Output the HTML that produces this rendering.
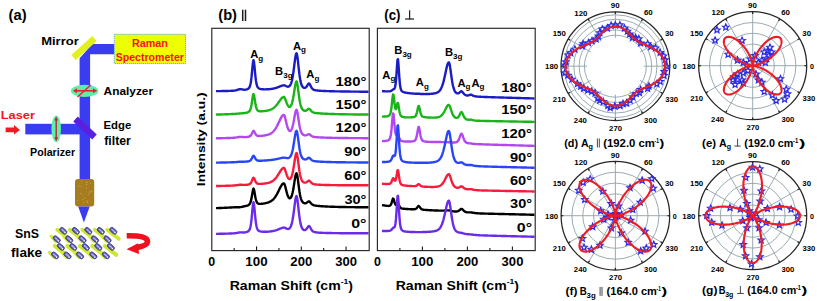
<!DOCTYPE html><html><head><meta charset="utf-8"><style>html,body{margin:0;padding:0;background:#fff;}svg{display:block;font-family:"Liberation Sans",sans-serif;}</style></head><body><svg width="817" height="301" viewBox="0 0 817 301"><rect width="817" height="301" fill="#fff"/><text x="8.56" y="19.60" font-size="14.50" font-weight="bold" fill="#000" text-anchor="start" textLength="18.04" lengthAdjust="spacingAndGlyphs">(a)</text>
<path d="M79.6,180 L79.6,58.3 L92.4,44.1 L114.5,44.1 L114.5,54.2 L90.1,54.2 L90.1,180 Z" fill="#3a3cf2"/>
<rect x="25.3" y="123.8" width="55" height="10.6" fill="#3a3cf2"/>
<line x1="73.5" y1="57.5" x2="94.5" y2="38.5" stroke="#e3ef1e" stroke-width="6.5"/>
<text x="41.16" y="45.20" font-size="10.90" font-weight="bold" fill="#000" text-anchor="start" textLength="37.53" lengthAdjust="spacingAndGlyphs">Mirror</text>
<rect x="114.3" y="34.3" width="71.2" height="29.2" fill="#eeff00" stroke="#5aa8c8" stroke-width="0.9" stroke-dasharray="1.2,0.8"/>
<text x="131.90" y="46.50" font-size="10.50" font-weight="bold" fill="#fa1020" text-anchor="start" textLength="35.84" lengthAdjust="spacingAndGlyphs">Raman</text>
<text x="115.68" y="60.60" font-size="10.20" font-weight="bold" fill="#fa1020" text-anchor="start" textLength="68.24" lengthAdjust="spacingAndGlyphs">Spectrometer</text>
<ellipse cx="84.6" cy="90.9" rx="13.7" ry="6.1" fill="#5ef0a8"/>
<line x1="75.5" y1="90.8" x2="94.5" y2="90.8" stroke="#e8202e" stroke-width="1.6"/>
<path d="M72.8,90.8 L77,88.3 L77,93.3 Z M97.2,90.8 L93,88.3 L93,93.3 Z" fill="#e8202e"/>
<line x1="77.5" y1="97" x2="90.8" y2="85" stroke="#e8202e" stroke-width="1.4"/>
<text x="103.60" y="94.60" font-size="11.60" font-weight="bold" fill="#000" text-anchor="start" textLength="49.46" lengthAdjust="spacingAndGlyphs">Analyzer</text>
<text x="0.77" y="118.60" font-size="11.60" font-weight="bold" fill="#fa1020" text-anchor="start" textLength="34.21" lengthAdjust="spacingAndGlyphs">Laser</text>
<path d="M5.6,127.4 L14,127.4 L14,125 L19.9,129.9 L14,134.6 L14,132.3 L5.6,132.3 Z" fill="#f01a24"/>
<ellipse cx="56.2" cy="128.8" rx="4.8" ry="13.4" fill="#5ef0a8"/>
<line x1="56.2" y1="119" x2="56.2" y2="139" stroke="#c8203c" stroke-width="1.4"/>
<path d="M56.2,116.6 L54.2,120.5 L58.2,120.5 Z M56.2,141.2 L54.2,137.3 L58.2,137.3 Z" fill="#c8203c"/>
<text x="30.11" y="155.70" font-size="11.00" font-weight="bold" fill="#000" text-anchor="start" textLength="44.94" lengthAdjust="spacingAndGlyphs">Polarizer</text>
<line x1="75.5" y1="119" x2="94.5" y2="137" stroke="#5a20e0" stroke-width="6.6"/>
<text x="103.56" y="128.60" font-size="10.75" font-weight="bold" fill="#000" text-anchor="start" textLength="27.73" lengthAdjust="spacingAndGlyphs">Edge</text>
<text x="104.21" y="144.70" font-size="12.20" font-weight="bold" fill="#000" text-anchor="start" textLength="26.73" lengthAdjust="spacingAndGlyphs">filter</text>
<rect x="75" y="179" width="19.2" height="27.4" rx="3" fill="#a57d1e"/>
<circle cx="80.6" cy="193.5" r="0.45" fill="#f0c080"/>
<circle cx="82.5" cy="194.9" r="0.45" fill="#f0c080"/>
<circle cx="86.4" cy="182.5" r="0.45" fill="#f0c080"/>
<circle cx="77.2" cy="200.3" r="0.45" fill="#f0c080"/>
<circle cx="80.9" cy="186.4" r="0.45" fill="#f0c080"/>
<circle cx="91.9" cy="191.8" r="0.45" fill="#f0c080"/>
<circle cx="89.5" cy="192.0" r="0.45" fill="#f0c080"/>
<circle cx="86.6" cy="184.5" r="0.45" fill="#f0c080"/>
<circle cx="86.5" cy="201.0" r="0.45" fill="#f0c080"/>
<circle cx="84.8" cy="198.0" r="0.45" fill="#f0c080"/>
<circle cx="87.1" cy="182.5" r="0.45" fill="#f0c080"/>
<circle cx="88.4" cy="194.6" r="0.45" fill="#f0c080"/>
<circle cx="81.5" cy="181.7" r="0.45" fill="#f0c080"/>
<circle cx="90.0" cy="191.9" r="0.45" fill="#f0c080"/>
<circle cx="87.8" cy="201.2" r="0.45" fill="#f0c080"/>
<circle cx="87.7" cy="202.2" r="0.45" fill="#f0c080"/>
<circle cx="82.9" cy="199.4" r="0.45" fill="#f0c080"/>
<circle cx="83.7" cy="202.5" r="0.45" fill="#f0c080"/>
<circle cx="90.2" cy="183.2" r="0.45" fill="#f0c080"/>
<circle cx="79.0" cy="186.0" r="0.45" fill="#f0c080"/>
<circle cx="91.5" cy="191.0" r="0.45" fill="#f0c080"/>
<circle cx="86.4" cy="187.9" r="0.45" fill="#f0c080"/>
<path d="M78.2,206.4 L89.7,206.4 L83.9,222.5 Z" fill="#3a3cf2"/>
<text x="14.93" y="238.30" font-size="12.80" font-weight="bold" fill="#000" text-anchor="start" textLength="24.10" lengthAdjust="spacingAndGlyphs">SnS</text>
<text x="11.10" y="256.60" font-size="13.50" font-weight="bold" fill="#000" text-anchor="start" textLength="30.97" lengthAdjust="spacingAndGlyphs">flake</text>
<line x1="57.3" y1="229.8" x2="68.8" y2="238.8" stroke="#cde630" stroke-width="3.9" stroke-linecap="round"/>
<line x1="69.8" y1="229.8" x2="81.3" y2="238.8" stroke="#cde630" stroke-width="3.9" stroke-linecap="round"/>
<line x1="82.3" y1="229.8" x2="93.8" y2="238.8" stroke="#cde630" stroke-width="3.9" stroke-linecap="round"/>
<line x1="94.8" y1="229.8" x2="106.3" y2="238.8" stroke="#cde630" stroke-width="3.9" stroke-linecap="round"/>
<line x1="107.3" y1="229.8" x2="118.8" y2="238.8" stroke="#cde630" stroke-width="3.9" stroke-linecap="round"/>
<line x1="51.2" y1="236.2" x2="55.7" y2="241.2" stroke="#d2ea3a" stroke-width="3.4" stroke-linecap="round"/>
<line x1="63.7" y1="236.2" x2="68.2" y2="241.2" stroke="#d2ea3a" stroke-width="3.4" stroke-linecap="round"/>
<line x1="77.0" y1="236.2" x2="81.5" y2="241.2" stroke="#d2ea3a" stroke-width="3.4" stroke-linecap="round"/>
<line x1="89.5" y1="236.2" x2="94.0" y2="241.2" stroke="#d2ea3a" stroke-width="3.4" stroke-linecap="round"/>
<line x1="102.0" y1="236.2" x2="106.5" y2="241.2" stroke="#d2ea3a" stroke-width="3.4" stroke-linecap="round"/>
<line x1="54.8" y1="245.9" x2="66.3" y2="254.9" stroke="#cde630" stroke-width="3.9" stroke-linecap="round"/>
<line x1="67.3" y1="245.9" x2="78.8" y2="254.9" stroke="#cde630" stroke-width="3.9" stroke-linecap="round"/>
<line x1="79.8" y1="245.9" x2="91.3" y2="254.9" stroke="#cde630" stroke-width="3.9" stroke-linecap="round"/>
<line x1="92.3" y1="245.9" x2="103.8" y2="254.9" stroke="#cde630" stroke-width="3.9" stroke-linecap="round"/>
<line x1="104.8" y1="245.9" x2="116.3" y2="254.9" stroke="#cde630" stroke-width="3.9" stroke-linecap="round"/>
<line x1="49.5" y1="252.4" x2="54.0" y2="257.4" stroke="#d2ea3a" stroke-width="3.4" stroke-linecap="round"/>
<line x1="62.0" y1="252.4" x2="66.5" y2="257.4" stroke="#d2ea3a" stroke-width="3.4" stroke-linecap="round"/>
<line x1="74.5" y1="252.4" x2="79.0" y2="257.4" stroke="#d2ea3a" stroke-width="3.4" stroke-linecap="round"/>
<line x1="87.8" y1="252.4" x2="92.3" y2="257.4" stroke="#d2ea3a" stroke-width="3.4" stroke-linecap="round"/>
<line x1="100.3" y1="252.4" x2="104.8" y2="257.4" stroke="#d2ea3a" stroke-width="3.4" stroke-linecap="round"/>
<g transform="translate(63.3,230.8) rotate(40)"><rect x="-4.0" y="-2.1" width="8.0" height="4.2" rx="2.1" fill="#5e5eb8" stroke="#34347e" stroke-width="0.8"/><rect x="-2.6" y="-0.8" width="4.2" height="1.4" rx="0.7" fill="#b0b0f0"/><circle cx="2.3" cy="0.2" r="0.8" fill="#fff"/></g>
<g transform="translate(75.8,230.8) rotate(40)"><rect x="-4.0" y="-2.1" width="8.0" height="4.2" rx="2.1" fill="#5e5eb8" stroke="#34347e" stroke-width="0.8"/><rect x="-2.6" y="-0.8" width="4.2" height="1.4" rx="0.7" fill="#b0b0f0"/><circle cx="2.3" cy="0.2" r="0.8" fill="#fff"/></g>
<g transform="translate(88.3,230.8) rotate(40)"><rect x="-4.0" y="-2.1" width="8.0" height="4.2" rx="2.1" fill="#5e5eb8" stroke="#34347e" stroke-width="0.8"/><rect x="-2.6" y="-0.8" width="4.2" height="1.4" rx="0.7" fill="#b0b0f0"/><circle cx="2.3" cy="0.2" r="0.8" fill="#fff"/></g>
<g transform="translate(100.8,230.8) rotate(40)"><rect x="-4.0" y="-2.1" width="8.0" height="4.2" rx="2.1" fill="#5e5eb8" stroke="#34347e" stroke-width="0.8"/><rect x="-2.6" y="-0.8" width="4.2" height="1.4" rx="0.7" fill="#b0b0f0"/><circle cx="2.3" cy="0.2" r="0.8" fill="#fff"/></g>
<g transform="translate(113.3,230.8) rotate(40)"><rect x="-4.0" y="-2.1" width="8.0" height="4.2" rx="2.1" fill="#5e5eb8" stroke="#34347e" stroke-width="0.8"/><rect x="-2.6" y="-0.8" width="4.2" height="1.4" rx="0.7" fill="#b0b0f0"/><circle cx="2.3" cy="0.2" r="0.8" fill="#fff"/></g>
<g transform="translate(56.7,239.2) rotate(40)"><rect x="-4.0" y="-2.1" width="8.0" height="4.2" rx="2.1" fill="#5e5eb8" stroke="#34347e" stroke-width="0.8"/><rect x="-2.6" y="-0.8" width="4.2" height="1.4" rx="0.7" fill="#b0b0f0"/><circle cx="2.3" cy="0.2" r="0.8" fill="#fff"/></g>
<g transform="translate(69.2,239.2) rotate(40)"><rect x="-4.0" y="-2.1" width="8.0" height="4.2" rx="2.1" fill="#5e5eb8" stroke="#34347e" stroke-width="0.8"/><rect x="-2.6" y="-0.8" width="4.2" height="1.4" rx="0.7" fill="#b0b0f0"/><circle cx="2.3" cy="0.2" r="0.8" fill="#fff"/></g>
<g transform="translate(82.5,239.2) rotate(40)"><rect x="-4.0" y="-2.1" width="8.0" height="4.2" rx="2.1" fill="#5e5eb8" stroke="#34347e" stroke-width="0.8"/><rect x="-2.6" y="-0.8" width="4.2" height="1.4" rx="0.7" fill="#b0b0f0"/><circle cx="2.3" cy="0.2" r="0.8" fill="#fff"/></g>
<g transform="translate(95.0,239.2) rotate(40)"><rect x="-4.0" y="-2.1" width="8.0" height="4.2" rx="2.1" fill="#5e5eb8" stroke="#34347e" stroke-width="0.8"/><rect x="-2.6" y="-0.8" width="4.2" height="1.4" rx="0.7" fill="#b0b0f0"/><circle cx="2.3" cy="0.2" r="0.8" fill="#fff"/></g>
<g transform="translate(107.5,239.2) rotate(40)"><rect x="-4.0" y="-2.1" width="8.0" height="4.2" rx="2.1" fill="#5e5eb8" stroke="#34347e" stroke-width="0.8"/><rect x="-2.6" y="-0.8" width="4.2" height="1.4" rx="0.7" fill="#b0b0f0"/><circle cx="2.3" cy="0.2" r="0.8" fill="#fff"/></g>
<g transform="translate(60.8,246.9) rotate(40)"><rect x="-4.0" y="-2.1" width="8.0" height="4.2" rx="2.1" fill="#5e5eb8" stroke="#34347e" stroke-width="0.8"/><rect x="-2.6" y="-0.8" width="4.2" height="1.4" rx="0.7" fill="#b0b0f0"/><circle cx="2.3" cy="0.2" r="0.8" fill="#fff"/></g>
<g transform="translate(73.3,246.9) rotate(40)"><rect x="-4.0" y="-2.1" width="8.0" height="4.2" rx="2.1" fill="#5e5eb8" stroke="#34347e" stroke-width="0.8"/><rect x="-2.6" y="-0.8" width="4.2" height="1.4" rx="0.7" fill="#b0b0f0"/><circle cx="2.3" cy="0.2" r="0.8" fill="#fff"/></g>
<g transform="translate(85.8,246.9) rotate(40)"><rect x="-4.0" y="-2.1" width="8.0" height="4.2" rx="2.1" fill="#5e5eb8" stroke="#34347e" stroke-width="0.8"/><rect x="-2.6" y="-0.8" width="4.2" height="1.4" rx="0.7" fill="#b0b0f0"/><circle cx="2.3" cy="0.2" r="0.8" fill="#fff"/></g>
<g transform="translate(98.3,246.9) rotate(40)"><rect x="-4.0" y="-2.1" width="8.0" height="4.2" rx="2.1" fill="#5e5eb8" stroke="#34347e" stroke-width="0.8"/><rect x="-2.6" y="-0.8" width="4.2" height="1.4" rx="0.7" fill="#b0b0f0"/><circle cx="2.3" cy="0.2" r="0.8" fill="#fff"/></g>
<g transform="translate(110.8,246.9) rotate(40)"><rect x="-4.0" y="-2.1" width="8.0" height="4.2" rx="2.1" fill="#5e5eb8" stroke="#34347e" stroke-width="0.8"/><rect x="-2.6" y="-0.8" width="4.2" height="1.4" rx="0.7" fill="#b0b0f0"/><circle cx="2.3" cy="0.2" r="0.8" fill="#fff"/></g>
<g transform="translate(55.0,255.4) rotate(40)"><rect x="-4.0" y="-2.1" width="8.0" height="4.2" rx="2.1" fill="#5e5eb8" stroke="#34347e" stroke-width="0.8"/><rect x="-2.6" y="-0.8" width="4.2" height="1.4" rx="0.7" fill="#b0b0f0"/><circle cx="2.3" cy="0.2" r="0.8" fill="#fff"/></g>
<g transform="translate(67.5,255.4) rotate(40)"><rect x="-4.0" y="-2.1" width="8.0" height="4.2" rx="2.1" fill="#5e5eb8" stroke="#34347e" stroke-width="0.8"/><rect x="-2.6" y="-0.8" width="4.2" height="1.4" rx="0.7" fill="#b0b0f0"/><circle cx="2.3" cy="0.2" r="0.8" fill="#fff"/></g>
<g transform="translate(80.0,255.4) rotate(40)"><rect x="-4.0" y="-2.1" width="8.0" height="4.2" rx="2.1" fill="#5e5eb8" stroke="#34347e" stroke-width="0.8"/><rect x="-2.6" y="-0.8" width="4.2" height="1.4" rx="0.7" fill="#b0b0f0"/><circle cx="2.3" cy="0.2" r="0.8" fill="#fff"/></g>
<g transform="translate(93.3,255.4) rotate(40)"><rect x="-4.0" y="-2.1" width="8.0" height="4.2" rx="2.1" fill="#5e5eb8" stroke="#34347e" stroke-width="0.8"/><rect x="-2.6" y="-0.8" width="4.2" height="1.4" rx="0.7" fill="#b0b0f0"/><circle cx="2.3" cy="0.2" r="0.8" fill="#fff"/></g>
<g transform="translate(105.8,255.4) rotate(40)"><rect x="-4.0" y="-2.1" width="8.0" height="4.2" rx="2.1" fill="#5e5eb8" stroke="#34347e" stroke-width="0.8"/><rect x="-2.6" y="-0.8" width="4.2" height="1.4" rx="0.7" fill="#b0b0f0"/><circle cx="2.3" cy="0.2" r="0.8" fill="#fff"/></g>
<path d="M126.7,235.7 C140,235.5 147.5,237 147.5,241.5 C147.5,245 143,246.5 136,247.5" fill="none" stroke="#f0101e" stroke-width="5.6"/>
<path d="M138,243.2 L126.5,249.3 L139,254 Z" fill="#f0101e"/>
<polyline points="216.0,91.14 216.5,91.14 217.0,91.13 217.5,91.13 218.0,91.12 218.5,91.11 219.0,91.11 219.5,91.10 220.0,91.09 220.5,91.09 221.0,91.08 221.5,91.07 222.0,91.06 222.5,91.06 223.0,91.05 223.5,91.04 224.0,91.03 224.5,91.02 225.0,91.01 225.5,91.00 226.0,90.99 226.5,90.98 227.0,90.96 227.5,90.95 228.0,90.94 228.5,90.92 229.0,90.91 229.5,90.89 230.0,90.88 230.5,90.86 231.0,90.84 231.5,90.82 232.0,90.79 232.5,90.76 233.0,90.73 233.5,90.69 234.0,90.64 234.5,90.58 235.0,90.50 235.5,90.41 236.0,90.30 236.5,90.17 237.0,90.02 237.5,89.86 238.0,89.68 238.5,89.50 239.0,89.35 239.5,89.23 240.0,89.16 240.5,89.16 241.0,89.21 241.5,89.30 242.0,89.41 242.5,89.51 243.0,89.60 243.5,89.66 244.0,89.70 244.5,89.72 245.0,89.70 245.5,89.65 246.0,89.58 246.5,89.47 247.0,89.32 247.5,89.13 248.0,88.88 248.5,88.53 249.0,88.02 249.5,87.24 250.0,86.00 250.5,84.07 251.0,81.19 251.5,77.19 252.0,72.18 252.5,66.68 253.0,62.02 253.5,60.10 254.0,61.98 254.5,66.61 255.0,72.06 255.5,77.04 256.0,80.99 256.5,83.84 257.0,85.73 257.5,86.93 258.0,87.68 258.5,88.16 259.0,88.47 259.5,88.70 260.0,88.86 260.5,88.99 261.0,89.09 261.5,89.16 262.0,89.22 262.5,89.26 263.0,89.30 263.5,89.32 264.0,89.33 264.5,89.34 265.0,89.34 265.5,89.34 266.0,89.33 266.5,89.31 267.0,89.29 267.5,89.27 268.0,89.24 268.5,89.21 269.0,89.18 269.5,89.13 270.0,89.09 270.5,89.04 271.0,88.98 271.5,88.91 272.0,88.84 272.5,88.76 273.0,88.67 273.5,88.57 274.0,88.46 274.5,88.34 275.0,88.21 275.5,88.07 276.0,87.92 276.5,87.76 277.0,87.58 277.5,87.40 278.0,87.21 278.5,87.02 279.0,86.82 279.5,86.61 280.0,86.41 280.5,86.21 281.0,86.02 281.5,85.84 282.0,85.68 282.5,85.53 283.0,85.41 283.5,85.32 284.0,85.27 284.5,85.34 285.0,85.52 285.5,85.78 286.0,86.05 286.5,86.30 287.0,86.51 287.5,86.64 288.0,86.68 288.5,86.62 289.0,86.42 289.5,86.07 290.0,85.53 290.5,84.73 291.0,83.62 291.5,82.14 292.0,80.21 292.5,77.80 293.0,74.87 293.5,71.46 294.0,67.66 294.5,63.65 295.0,59.75 295.5,56.37 296.0,54.04 296.5,53.21 297.0,54.35 297.5,57.42 298.0,61.66 298.5,66.32 299.0,70.85 299.5,74.92 300.0,78.35 300.5,81.10 301.0,83.22 301.5,84.79 302.0,85.93 302.5,86.72 303.0,87.27 303.5,87.63 304.0,87.84 304.5,87.92 305.0,87.87 305.5,87.66 306.0,87.27 306.5,86.71 307.0,85.98 307.5,85.13 308.0,84.28 308.5,83.64 309.0,83.44 309.5,83.80 310.0,84.60 310.5,85.61 311.0,86.63 311.5,87.54 312.0,88.30 312.5,88.89 313.0,89.33 313.5,89.65 314.0,89.88 314.5,90.05 315.0,90.17 315.5,90.27 316.0,90.36 316.5,90.43 317.0,90.49 317.5,90.55 318.0,90.60 318.5,90.64 319.0,90.68 319.5,90.72 320.0,90.76 320.5,90.79 321.0,90.83 321.5,90.86 322.0,90.88 322.5,90.91 323.0,90.94 323.5,90.96 324.0,90.98 324.5,91.00 325.0,91.03 325.5,91.05 326.0,91.06 326.5,91.08 327.0,91.10 327.5,91.12 328.0,91.14 328.5,91.15 329.0,91.17 329.5,91.18 330.0,91.20 330.5,91.21 331.0,91.23 331.5,91.24 332.0,91.25 332.5,91.27 333.0,91.28 333.5,91.29 334.0,91.30 334.5,91.31 335.0,91.33 335.5,91.34 336.0,91.35 336.5,91.36 337.0,91.37 337.5,91.38 338.0,91.39 338.5,91.40 339.0,91.41 339.5,91.42 340.0,91.42 340.5,91.43 341.0,91.44 341.5,91.45 342.0,91.46 342.5,91.47 343.0,91.48 343.5,91.48 344.0,91.49 344.5,91.50 345.0,91.51 345.5,91.51 346.0,91.52 346.5,91.53 347.0,91.53 347.5,91.54 348.0,91.55 348.5,91.56 349.0,91.56 349.5,91.57 350.0,91.57 350.5,91.58 351.0,91.59 351.5,91.59 352.0,91.60 352.5,91.60 353.0,91.61 353.5,91.62 354.0,91.62 354.5,91.63 355.0,91.63 355.5,91.64 356.0,91.64 356.5,91.65 357.0,91.65 357.5,91.66 358.0,91.66 358.5,91.67 359.0,91.67 359.5,91.68 360.0,91.68 360.5,91.69 361.0,91.69 361.5,91.70 362.0,91.70 362.5,91.71 363.0,91.71 363.5,91.71 364.0,91.72 364.5,91.72 365.0,91.73 365.5,91.73 366.0,91.74 366.5,91.74 367.0,91.74 367.5,91.75 368.0,91.75 368.5,91.76" fill="none" stroke="#1c1cc4" stroke-width="2.4" stroke-linejoin="round"/>
<polyline points="216.0,114.59 216.5,114.57 217.0,114.56 217.5,114.55 218.0,114.53 218.5,114.52 219.0,114.51 219.5,114.49 220.0,114.48 220.5,114.47 221.0,114.45 221.5,114.44 222.0,114.42 222.5,114.41 223.0,114.39 223.5,114.37 224.0,114.36 224.5,114.34 225.0,114.32 225.5,114.31 226.0,114.29 226.5,114.27 227.0,114.25 227.5,114.23 228.0,114.21 228.5,114.19 229.0,114.17 229.5,114.15 230.0,114.13 230.5,114.11 231.0,114.09 231.5,114.06 232.0,114.04 232.5,114.01 233.0,113.99 233.5,113.96 234.0,113.93 234.5,113.90 235.0,113.87 235.5,113.83 236.0,113.79 236.5,113.76 237.0,113.71 237.5,113.67 238.0,113.62 238.5,113.57 239.0,113.53 239.5,113.48 240.0,113.44 240.5,113.40 241.0,113.36 241.5,113.33 242.0,113.29 242.5,113.25 243.0,113.20 243.5,113.15 244.0,113.10 244.5,113.03 245.0,112.96 245.5,112.87 246.0,112.78 246.5,112.67 247.0,112.54 247.5,112.38 248.0,112.19 248.5,111.94 249.0,111.59 249.5,111.07 250.0,110.27 250.5,109.04 251.0,107.23 251.5,104.72 252.0,101.58 252.5,98.15 253.0,95.23 253.5,94.00 254.0,95.13 254.5,97.95 255.0,101.29 255.5,104.33 256.0,106.74 256.5,108.46 257.0,109.59 257.5,110.29 258.0,110.71 258.5,110.96 259.0,111.11 259.5,111.20 260.0,111.26 260.5,111.29 261.0,111.30 261.5,111.30 262.0,111.28 262.5,111.25 263.0,111.22 263.5,111.17 264.0,111.12 264.5,111.07 265.0,111.00 265.5,110.93 266.0,110.85 266.5,110.77 267.0,110.68 267.5,110.57 268.0,110.46 268.5,110.34 269.0,110.20 269.5,110.05 270.0,109.88 270.5,109.69 271.0,109.48 271.5,109.25 272.0,108.99 272.5,108.71 273.0,108.39 273.5,108.03 274.0,107.65 274.5,107.22 275.0,106.76 275.5,106.25 276.0,105.71 276.5,105.13 277.0,104.51 277.5,103.86 278.0,103.19 278.5,102.49 279.0,101.77 279.5,101.05 280.0,100.34 280.5,99.65 281.0,99.00 281.5,98.41 282.0,97.89 282.5,97.47 283.0,97.16 283.5,96.97 284.0,96.96 284.5,97.46 285.0,98.45 285.5,99.74 286.0,101.15 286.5,102.53 287.0,103.79 287.5,104.87 288.0,105.72 288.5,106.35 289.0,106.73 289.5,106.86 290.0,106.74 290.5,106.33 291.0,105.61 291.5,104.53 292.0,103.07 292.5,101.17 293.0,98.84 293.5,96.10 294.0,93.04 294.5,89.80 295.0,86.63 295.5,83.90 296.0,82.02 296.5,81.39 297.0,82.38 297.5,84.94 298.0,88.48 298.5,92.37 299.0,96.14 299.5,99.53 300.0,102.39 300.5,104.70 301.0,106.49 301.5,107.82 302.0,108.80 302.5,109.49 303.0,109.99 303.5,110.34 304.0,110.57 304.5,110.72 305.0,110.77 305.5,110.73 306.0,110.58 306.5,110.33 307.0,109.98 307.5,109.56 308.0,109.13 308.5,108.82 309.0,108.76 309.5,108.99 310.0,109.48 310.5,110.07 311.0,110.67 311.5,111.21 312.0,111.66 312.5,112.02 313.0,112.29 313.5,112.50 314.0,112.65 314.5,112.77 315.0,112.87 315.5,112.95 316.0,113.02 316.5,113.08 317.0,113.14 317.5,113.19 318.0,113.24 318.5,113.28 319.0,113.32 319.5,113.36 320.0,113.40 320.5,113.44 321.0,113.47 321.5,113.51 322.0,113.54 322.5,113.57 323.0,113.60 323.5,113.63 324.0,113.65 324.5,113.68 325.0,113.70 325.5,113.73 326.0,113.75 326.5,113.77 327.0,113.80 327.5,113.82 328.0,113.84 328.5,113.86 329.0,113.88 329.5,113.90 330.0,113.92 330.5,113.94 331.0,113.95 331.5,113.97 332.0,113.99 332.5,114.00 333.0,114.02 333.5,114.03 334.0,114.05 334.5,114.06 335.0,114.08 335.5,114.09 336.0,114.11 336.5,114.12 337.0,114.13 337.5,114.14 338.0,114.16 338.5,114.17 339.0,114.18 339.5,114.19 340.0,114.20 340.5,114.21 341.0,114.23 341.5,114.24 342.0,114.25 342.5,114.26 343.0,114.27 343.5,114.28 344.0,114.28 344.5,114.29 345.0,114.30 345.5,114.31 346.0,114.32 346.5,114.33 347.0,114.34 347.5,114.34 348.0,114.35 348.5,114.36 349.0,114.37 349.5,114.37 350.0,114.38 350.5,114.39 351.0,114.40 351.5,114.40 352.0,114.41 352.5,114.42 353.0,114.42 353.5,114.43 354.0,114.43 354.5,114.44 355.0,114.45 355.5,114.45 356.0,114.46 356.5,114.46 357.0,114.47 357.5,114.47 358.0,114.48 358.5,114.48 359.0,114.49 359.5,114.49 360.0,114.50 360.5,114.50 361.0,114.51 361.5,114.51 362.0,114.51 362.5,114.52 363.0,114.52 363.5,114.53 364.0,114.53 364.5,114.53 365.0,114.54 365.5,114.54 366.0,114.55 366.5,114.55 367.0,114.55 367.5,114.56 368.0,114.56 368.5,114.56" fill="none" stroke="#18b418" stroke-width="2.4" stroke-linejoin="round"/>
<polyline points="216.0,138.31 216.5,138.30 217.0,138.29 217.5,138.28 218.0,138.27 218.5,138.26 219.0,138.25 219.5,138.24 220.0,138.23 220.5,138.22 221.0,138.20 221.5,138.19 222.0,138.18 222.5,138.17 223.0,138.16 223.5,138.14 224.0,138.13 224.5,138.12 225.0,138.11 225.5,138.09 226.0,138.08 226.5,138.06 227.0,138.05 227.5,138.03 228.0,138.02 228.5,138.00 229.0,137.98 229.5,137.97 230.0,137.95 230.5,137.93 231.0,137.91 231.5,137.89 232.0,137.87 232.5,137.84 233.0,137.81 233.5,137.78 234.0,137.75 234.5,137.70 235.0,137.65 235.5,137.59 236.0,137.52 236.5,137.44 237.0,137.35 237.5,137.26 238.0,137.15 238.5,137.05 239.0,136.95 239.5,136.88 240.0,136.84 240.5,136.83 241.0,136.85 241.5,136.89 242.0,136.94 242.5,136.99 243.0,137.04 243.5,137.07 244.0,137.09 244.5,137.10 245.0,137.10 245.5,137.09 246.0,137.06 246.5,137.03 247.0,136.98 247.5,136.92 248.0,136.85 248.5,136.75 249.0,136.63 249.5,136.44 250.0,136.17 250.5,135.76 251.0,135.16 251.5,134.33 252.0,133.30 252.5,132.18 253.0,131.22 253.5,130.80 254.0,131.14 254.5,132.02 255.0,133.06 255.5,134.01 256.0,134.76 256.5,135.28 257.0,135.61 257.5,135.81 258.0,135.91 258.5,135.95 259.0,135.97 259.5,135.96 260.0,135.94 260.5,135.91 261.0,135.87 261.5,135.83 262.0,135.78 262.5,135.72 263.0,135.66 263.5,135.60 264.0,135.52 264.5,135.45 265.0,135.36 265.5,135.27 266.0,135.17 266.5,135.06 267.0,134.94 267.5,134.81 268.0,134.67 268.5,134.50 269.0,134.32 269.5,134.12 270.0,133.89 270.5,133.63 271.0,133.34 271.5,133.02 272.0,132.65 272.5,132.24 273.0,131.78 273.5,131.27 274.0,130.71 274.5,130.09 275.0,129.41 275.5,128.67 276.0,127.86 276.5,127.00 277.0,126.09 277.5,125.12 278.0,124.11 278.5,123.07 279.0,122.00 279.5,120.93 280.0,119.87 280.5,118.84 281.0,117.87 281.5,116.99 282.0,116.22 282.5,115.60 283.0,115.15 283.5,114.88 284.0,114.88 284.5,115.67 285.0,117.21 285.5,119.21 286.0,121.39 286.5,123.54 287.0,125.52 287.5,127.22 288.0,128.63 288.5,129.70 289.0,130.46 289.5,130.90 290.0,131.04 290.5,130.87 291.0,130.38 291.5,129.55 292.0,128.35 292.5,126.76 293.0,124.78 293.5,122.44 294.0,119.81 294.5,117.02 295.0,114.30 295.5,111.94 296.0,110.33 296.5,109.79 297.0,110.65 297.5,112.89 298.0,115.96 298.5,119.33 299.0,122.61 299.5,125.55 300.0,128.04 300.5,130.04 301.0,131.59 301.5,132.75 302.0,133.60 302.5,134.21 303.0,134.64 303.5,134.95 304.0,135.17 304.5,135.31 305.0,135.39 305.5,135.39 306.0,135.33 306.5,135.19 307.0,134.98 307.5,134.73 308.0,134.47 308.5,134.29 309.0,134.26 309.5,134.42 310.0,134.75 310.5,135.15 311.0,135.55 311.5,135.91 312.0,136.21 312.5,136.45 313.0,136.63 313.5,136.77 314.0,136.88 314.5,136.96 315.0,137.03 315.5,137.09 316.0,137.14 316.5,137.18 317.0,137.22 317.5,137.26 318.0,137.29 318.5,137.33 319.0,137.36 319.5,137.39 320.0,137.41 320.5,137.44 321.0,137.46 321.5,137.49 322.0,137.51 322.5,137.53 323.0,137.55 323.5,137.57 324.0,137.59 324.5,137.61 325.0,137.63 325.5,137.65 326.0,137.66 326.5,137.68 327.0,137.69 327.5,137.71 328.0,137.72 328.5,137.74 329.0,137.75 329.5,137.76 330.0,137.78 330.5,137.79 331.0,137.80 331.5,137.81 332.0,137.83 332.5,137.84 333.0,137.85 333.5,137.86 334.0,137.87 334.5,137.88 335.0,137.89 335.5,137.90 336.0,137.91 336.5,137.92 337.0,137.92 337.5,137.93 338.0,137.94 338.5,137.95 339.0,137.96 339.5,137.97 340.0,137.97 340.5,137.98 341.0,137.99 341.5,137.99 342.0,138.00 342.5,138.01 343.0,138.01 343.5,138.02 344.0,138.03 344.5,138.03 345.0,138.04 345.5,138.04 346.0,138.05 346.5,138.06 347.0,138.06 347.5,138.07 348.0,138.07 348.5,138.08 349.0,138.08 349.5,138.09 350.0,138.09 350.5,138.09 351.0,138.10 351.5,138.10 352.0,138.11 352.5,138.11 353.0,138.12 353.5,138.12 354.0,138.12 354.5,138.13 355.0,138.13 355.5,138.13 356.0,138.14 356.5,138.14 357.0,138.14 357.5,138.15 358.0,138.15 358.5,138.15 359.0,138.16 359.5,138.16 360.0,138.16 360.5,138.16 361.0,138.17 361.5,138.17 362.0,138.17 362.5,138.18 363.0,138.18 363.5,138.18 364.0,138.18 364.5,138.18 365.0,138.19 365.5,138.19 366.0,138.19 366.5,138.19 367.0,138.20 367.5,138.20 368.0,138.20 368.5,138.20" fill="none" stroke="#b448f0" stroke-width="2.4" stroke-linejoin="round"/>
<polyline points="216.0,162.65 216.5,162.64 217.0,162.64 217.5,162.63 218.0,162.62 218.5,162.61 219.0,162.60 219.5,162.59 220.0,162.58 220.5,162.57 221.0,162.56 221.5,162.55 222.0,162.54 222.5,162.53 223.0,162.52 223.5,162.51 224.0,162.50 224.5,162.49 225.0,162.47 225.5,162.46 226.0,162.45 226.5,162.44 227.0,162.42 227.5,162.41 228.0,162.40 228.5,162.38 229.0,162.37 229.5,162.36 230.0,162.34 230.5,162.33 231.0,162.31 231.5,162.29 232.0,162.28 232.5,162.26 233.0,162.24 233.5,162.22 234.0,162.20 234.5,162.17 235.0,162.14 235.5,162.11 236.0,162.08 236.5,162.04 237.0,162.00 237.5,161.95 238.0,161.90 238.5,161.85 239.0,161.80 239.5,161.77 240.0,161.74 240.5,161.72 241.0,161.71 241.5,161.71 242.0,161.72 242.5,161.72 243.0,161.72 243.5,161.71 244.0,161.70 244.5,161.68 245.0,161.66 245.5,161.63 246.0,161.60 246.5,161.56 247.0,161.51 247.5,161.45 248.0,161.38 248.5,161.30 249.0,161.18 249.5,161.01 250.0,160.75 250.5,160.36 251.0,159.80 251.5,159.02 252.0,158.05 252.5,156.99 253.0,156.09 253.5,155.70 254.0,156.03 254.5,156.87 255.0,157.87 255.5,158.78 256.0,159.50 256.5,160.00 257.0,160.33 257.5,160.53 258.0,160.64 258.5,160.70 259.0,160.73 259.5,160.74 260.0,160.74 260.5,160.73 261.0,160.72 261.5,160.70 262.0,160.68 262.5,160.65 263.0,160.63 263.5,160.60 264.0,160.57 264.5,160.54 265.0,160.50 265.5,160.47 266.0,160.43 266.5,160.39 267.0,160.35 267.5,160.31 268.0,160.27 268.5,160.23 269.0,160.18 269.5,160.13 270.0,160.08 270.5,160.03 271.0,159.98 271.5,159.92 272.0,159.86 272.5,159.80 273.0,159.73 273.5,159.66 274.0,159.58 274.5,159.50 275.0,159.41 275.5,159.32 276.0,159.23 276.5,159.13 277.0,159.02 277.5,158.91 278.0,158.80 278.5,158.68 279.0,158.56 279.5,158.44 280.0,158.32 280.5,158.20 281.0,158.09 281.5,157.98 282.0,157.88 282.5,157.79 283.0,157.72 283.5,157.65 284.0,157.61 284.5,157.63 285.0,157.71 285.5,157.82 286.0,157.93 286.5,158.04 287.0,158.10 287.5,158.13 288.0,158.09 288.5,157.99 289.0,157.79 289.5,157.47 290.0,157.00 290.5,156.34 291.0,155.43 291.5,154.22 292.0,152.65 292.5,150.68 293.0,148.29 293.5,145.52 294.0,142.43 294.5,139.17 295.0,135.99 295.5,133.24 296.0,131.35 296.5,130.69 297.0,131.63 297.5,134.14 298.0,137.62 298.5,141.43 299.0,145.14 299.5,148.47 300.0,151.28 300.5,153.55 301.0,155.29 301.5,156.60 302.0,157.54 302.5,158.22 303.0,158.69 303.5,159.03 304.0,159.25 304.5,159.39 305.0,159.45 305.5,159.42 306.0,159.30 306.5,159.09 307.0,158.80 307.5,158.44 308.0,158.08 308.5,157.81 309.0,157.76 309.5,157.96 310.0,158.37 310.5,158.87 311.0,159.38 311.5,159.84 312.0,160.22 312.5,160.53 313.0,160.76 313.5,160.93 314.0,161.06 314.5,161.16 315.0,161.23 315.5,161.30 316.0,161.36 316.5,161.40 317.0,161.45 317.5,161.49 318.0,161.53 318.5,161.56 319.0,161.60 319.5,161.63 320.0,161.66 320.5,161.68 321.0,161.71 321.5,161.74 322.0,161.76 322.5,161.78 323.0,161.80 323.5,161.83 324.0,161.85 324.5,161.87 325.0,161.88 325.5,161.90 326.0,161.92 326.5,161.94 327.0,161.95 327.5,161.97 328.0,161.98 328.5,162.00 329.0,162.01 329.5,162.03 330.0,162.04 330.5,162.05 331.0,162.07 331.5,162.08 332.0,162.09 332.5,162.10 333.0,162.11 333.5,162.13 334.0,162.14 334.5,162.15 335.0,162.16 335.5,162.17 336.0,162.18 336.5,162.19 337.0,162.19 337.5,162.20 338.0,162.21 338.5,162.22 339.0,162.23 339.5,162.24 340.0,162.25 340.5,162.25 341.0,162.26 341.5,162.27 342.0,162.27 342.5,162.28 343.0,162.29 343.5,162.30 344.0,162.30 344.5,162.31 345.0,162.31 345.5,162.32 346.0,162.33 346.5,162.33 347.0,162.34 347.5,162.34 348.0,162.35 348.5,162.35 349.0,162.36 349.5,162.36 350.0,162.37 350.5,162.37 351.0,162.38 351.5,162.38 352.0,162.39 352.5,162.39 353.0,162.39 353.5,162.40 354.0,162.40 354.5,162.41 355.0,162.41 355.5,162.41 356.0,162.42 356.5,162.42 357.0,162.43 357.5,162.43 358.0,162.43 358.5,162.44 359.0,162.44 359.5,162.44 360.0,162.44 360.5,162.45 361.0,162.45 361.5,162.45 362.0,162.46 362.5,162.46 363.0,162.46 363.5,162.46 364.0,162.47 364.5,162.47 365.0,162.47 365.5,162.47 366.0,162.48 366.5,162.48 367.0,162.48 367.5,162.48 368.0,162.48 368.5,162.49" fill="none" stroke="#2846f8" stroke-width="2.4" stroke-linejoin="round"/>
<polyline points="216.0,186.03 216.5,186.02 217.0,186.01 217.5,186.00 218.0,185.99 218.5,185.98 219.0,185.97 219.5,185.96 220.0,185.95 220.5,185.94 221.0,185.93 221.5,185.92 222.0,185.90 222.5,185.89 223.0,185.88 223.5,185.87 224.0,185.86 224.5,185.84 225.0,185.83 225.5,185.82 226.0,185.80 226.5,185.79 227.0,185.78 227.5,185.76 228.0,185.75 228.5,185.73 229.0,185.72 229.5,185.70 230.0,185.68 230.5,185.67 231.0,185.65 231.5,185.63 232.0,185.61 232.5,185.59 233.0,185.56 233.5,185.53 234.0,185.50 234.5,185.46 235.0,185.42 235.5,185.37 236.0,185.31 236.5,185.25 237.0,185.17 237.5,185.09 238.0,185.01 238.5,184.92 239.0,184.84 239.5,184.78 240.0,184.74 240.5,184.73 241.0,184.75 241.5,184.77 242.0,184.81 242.5,184.85 243.0,184.88 243.5,184.90 244.0,184.91 244.5,184.91 245.0,184.90 245.5,184.88 246.0,184.85 246.5,184.81 247.0,184.76 247.5,184.70 248.0,184.62 248.5,184.52 249.0,184.38 249.5,184.18 250.0,183.86 250.5,183.39 251.0,182.70 251.5,181.74 252.0,180.55 252.5,179.24 253.0,178.13 253.5,177.65 254.0,178.06 254.5,179.11 255.0,180.35 255.5,181.47 256.0,182.36 256.5,182.99 257.0,183.40 257.5,183.64 258.0,183.78 258.5,183.85 259.0,183.89 259.5,183.90 260.0,183.90 260.5,183.88 261.0,183.86 261.5,183.83 262.0,183.80 262.5,183.76 263.0,183.71 263.5,183.66 264.0,183.61 264.5,183.55 265.0,183.49 265.5,183.42 266.0,183.34 266.5,183.26 267.0,183.16 267.5,183.06 268.0,182.95 268.5,182.82 269.0,182.69 269.5,182.53 270.0,182.35 270.5,182.16 271.0,181.94 271.5,181.69 272.0,181.41 272.5,181.10 273.0,180.75 273.5,180.37 274.0,179.94 274.5,179.47 275.0,178.95 275.5,178.39 276.0,177.79 276.5,177.14 277.0,176.45 277.5,175.72 278.0,174.96 278.5,174.17 279.0,173.36 279.5,172.55 280.0,171.75 280.5,170.97 281.0,170.23 281.5,169.56 282.0,168.97 282.5,168.49 283.0,168.13 283.5,167.92 284.0,167.89 284.5,168.45 285.0,169.57 285.5,171.03 286.0,172.61 286.5,174.17 287.0,175.59 287.5,176.81 288.0,177.78 288.5,178.49 289.0,178.93 289.5,179.11 290.0,179.01 290.5,178.61 291.0,177.88 291.5,176.78 292.0,175.28 292.5,173.34 293.0,170.96 293.5,168.16 294.0,165.02 294.5,161.70 295.0,158.47 295.5,155.66 296.0,153.74 296.5,153.07 297.0,154.06 297.5,156.65 298.0,160.23 298.5,164.16 299.0,167.98 299.5,171.41 300.0,174.30 300.5,176.63 301.0,178.43 301.5,179.77 302.0,180.74 302.5,181.43 303.0,181.91 303.5,182.25 304.0,182.47 304.5,182.61 305.0,182.65 305.5,182.61 306.0,182.46 306.5,182.22 307.0,181.88 307.5,181.47 308.0,181.07 308.5,180.77 309.0,180.69 309.5,180.90 310.0,181.34 310.5,181.89 311.0,182.44 311.5,182.93 312.0,183.34 312.5,183.66 313.0,183.91 313.5,184.09 314.0,184.22 314.5,184.32 315.0,184.40 315.5,184.46 316.0,184.51 316.5,184.56 317.0,184.60 317.5,184.64 318.0,184.67 318.5,184.70 319.0,184.73 319.5,184.76 320.0,184.78 320.5,184.80 321.0,184.83 321.5,184.85 322.0,184.87 322.5,184.88 323.0,184.90 323.5,184.92 324.0,184.93 324.5,184.95 325.0,184.96 325.5,184.98 326.0,184.99 326.5,185.00 327.0,185.01 327.5,185.02 328.0,185.03 328.5,185.05 329.0,185.05 329.5,185.06 330.0,185.07 330.5,185.08 331.0,185.09 331.5,185.10 332.0,185.11 332.5,185.11 333.0,185.12 333.5,185.13 334.0,185.14 334.5,185.14 335.0,185.15 335.5,185.15 336.0,185.16 336.5,185.16 337.0,185.17 337.5,185.18 338.0,185.18 338.5,185.18 339.0,185.19 339.5,185.19 340.0,185.20 340.5,185.20 341.0,185.21 341.5,185.21 342.0,185.21 342.5,185.22 343.0,185.22 343.5,185.22 344.0,185.23 344.5,185.23 345.0,185.23 345.5,185.23 346.0,185.24 346.5,185.24 347.0,185.24 347.5,185.24 348.0,185.24 348.5,185.25 349.0,185.25 349.5,185.25 350.0,185.25 350.5,185.25 351.0,185.25 351.5,185.26 352.0,185.26 352.5,185.26 353.0,185.26 353.5,185.26 354.0,185.26 354.5,185.26 355.0,185.26 355.5,185.26 356.0,185.26 356.5,185.26 357.0,185.26 357.5,185.27 358.0,185.27 358.5,185.27 359.0,185.27 359.5,185.27 360.0,185.27 360.5,185.27 361.0,185.27 361.5,185.27 362.0,185.27 362.5,185.27 363.0,185.27 363.5,185.27 364.0,185.27 364.5,185.26 365.0,185.26 365.5,185.26 366.0,185.26 366.5,185.26 367.0,185.26 367.5,185.26 368.0,185.26 368.5,185.26" fill="none" stroke="#f81c3c" stroke-width="2.4" stroke-linejoin="round"/>
<polyline points="216.0,208.17 216.5,208.15 217.0,208.13 217.5,208.11 218.0,208.09 218.5,208.07 219.0,208.05 219.5,208.03 220.0,208.01 220.5,207.99 221.0,207.97 221.5,207.95 222.0,207.93 222.5,207.91 223.0,207.89 223.5,207.86 224.0,207.84 224.5,207.82 225.0,207.79 225.5,207.77 226.0,207.75 226.5,207.72 227.0,207.70 227.5,207.67 228.0,207.64 228.5,207.62 229.0,207.59 229.5,207.56 230.0,207.54 230.5,207.51 231.0,207.48 231.5,207.45 232.0,207.43 232.5,207.40 233.0,207.37 233.5,207.34 234.0,207.32 234.5,207.30 235.0,207.28 235.5,207.26 236.0,207.25 236.5,207.25 237.0,207.24 237.5,207.24 238.0,207.25 238.5,207.25 239.0,207.24 239.5,207.22 240.0,207.18 240.5,207.12 241.0,207.04 241.5,206.94 242.0,206.84 242.5,206.73 243.0,206.62 243.5,206.51 244.0,206.40 244.5,206.29 245.0,206.18 245.5,206.07 246.0,205.94 246.5,205.81 247.0,205.67 247.5,205.50 248.0,205.31 248.5,205.06 249.0,204.72 249.5,204.22 250.0,203.48 250.5,202.34 251.0,200.67 251.5,198.37 252.0,195.50 252.5,192.36 253.0,189.69 253.5,188.56 254.0,189.56 254.5,192.10 255.0,195.10 255.5,197.84 256.0,200.00 256.5,201.53 257.0,202.53 257.5,203.14 258.0,203.50 258.5,203.70 259.0,203.80 259.5,203.86 260.0,203.88 260.5,203.88 261.0,203.86 261.5,203.82 262.0,203.78 262.5,203.72 263.0,203.65 263.5,203.58 264.0,203.50 264.5,203.41 265.0,203.31 265.5,203.20 266.0,203.09 266.5,202.96 267.0,202.83 267.5,202.68 268.0,202.52 268.5,202.34 269.0,202.14 269.5,201.93 270.0,201.69 270.5,201.42 271.0,201.12 271.5,200.79 272.0,200.43 272.5,200.02 273.0,199.56 273.5,199.06 274.0,198.51 274.5,197.90 275.0,197.24 275.5,196.52 276.0,195.75 276.5,194.92 277.0,194.04 277.5,193.11 278.0,192.14 278.5,191.15 279.0,190.13 279.5,189.10 280.0,188.09 280.5,187.11 281.0,186.19 281.5,185.35 282.0,184.62 282.5,184.02 283.0,183.59 283.5,183.34 284.0,183.33 284.5,184.08 285.0,185.53 285.5,187.41 286.0,189.47 286.5,191.49 287.0,193.34 287.5,194.94 288.0,196.25 288.5,197.23 289.0,197.91 289.5,198.26 290.0,198.30 290.5,198.02 291.0,197.38 291.5,196.37 292.0,194.93 292.5,193.06 293.0,190.73 293.5,187.98 294.0,184.89 294.5,181.62 295.0,178.43 295.5,175.67 296.0,173.79 296.5,173.16 297.0,174.18 297.5,176.81 298.0,180.43 298.5,184.39 299.0,188.24 299.5,191.70 300.0,194.63 300.5,196.99 301.0,198.82 301.5,200.19 302.0,201.19 302.5,201.91 303.0,202.43 303.5,202.79 304.0,203.04 304.5,203.20 305.0,203.27 305.5,203.24 306.0,203.11 306.5,202.86 307.0,202.52 307.5,202.12 308.0,201.71 308.5,201.41 309.0,201.35 309.5,201.59 310.0,202.08 310.5,202.68 311.0,203.29 311.5,203.83 312.0,204.29 312.5,204.65 313.0,204.93 313.5,205.14 314.0,205.30 314.5,205.43 315.0,205.53 315.5,205.61 316.0,205.69 316.5,205.76 317.0,205.82 317.5,205.87 318.0,205.92 318.5,205.97 319.0,206.02 319.5,206.06 320.0,206.11 320.5,206.15 321.0,206.18 321.5,206.22 322.0,206.26 322.5,206.29 323.0,206.32 323.5,206.35 324.0,206.38 324.5,206.41 325.0,206.44 325.5,206.46 326.0,206.49 326.5,206.51 327.0,206.54 327.5,206.56 328.0,206.58 328.5,206.61 329.0,206.63 329.5,206.65 330.0,206.67 330.5,206.69 331.0,206.71 331.5,206.72 332.0,206.74 332.5,206.76 333.0,206.78 333.5,206.79 334.0,206.81 334.5,206.82 335.0,206.84 335.5,206.85 336.0,206.87 336.5,206.88 337.0,206.89 337.5,206.91 338.0,206.92 338.5,206.93 339.0,206.94 339.5,206.95 340.0,206.96 340.5,206.97 341.0,206.99 341.5,207.00 342.0,207.01 342.5,207.01 343.0,207.02 343.5,207.03 344.0,207.04 344.5,207.05 345.0,207.06 345.5,207.07 346.0,207.07 346.5,207.08 347.0,207.09 347.5,207.10 348.0,207.10 348.5,207.11 349.0,207.12 349.5,207.12 350.0,207.13 350.5,207.13 351.0,207.14 351.5,207.15 352.0,207.15 352.5,207.16 353.0,207.16 353.5,207.17 354.0,207.17 354.5,207.17 355.0,207.18 355.5,207.18 356.0,207.19 356.5,207.19 357.0,207.19 357.5,207.20 358.0,207.20 358.5,207.21 359.0,207.21 359.5,207.21 360.0,207.21 360.5,207.22 361.0,207.22 361.5,207.22 362.0,207.22 362.5,207.23 363.0,207.23 363.5,207.23 364.0,207.23 364.5,207.24 365.0,207.24 365.5,207.24 366.0,207.24 366.5,207.24 367.0,207.24 367.5,207.25 368.0,207.25 368.5,207.25" fill="none" stroke="#000000" stroke-width="2.4" stroke-linejoin="round"/>
<polyline points="216.0,233.87 216.5,233.86 217.0,233.86 217.5,233.85 218.0,233.84 218.5,233.83 219.0,233.82 219.5,233.81 220.0,233.80 220.5,233.79 221.0,233.78 221.5,233.77 222.0,233.76 222.5,233.74 223.0,233.73 223.5,233.72 224.0,233.71 224.5,233.70 225.0,233.68 225.5,233.67 226.0,233.66 226.5,233.64 227.0,233.63 227.5,233.61 228.0,233.60 228.5,233.58 229.0,233.57 229.5,233.55 230.0,233.53 230.5,233.51 231.0,233.49 231.5,233.47 232.0,233.45 232.5,233.42 233.0,233.40 233.5,233.36 234.0,233.33 234.5,233.28 235.0,233.23 235.5,233.17 236.0,233.10 236.5,233.02 237.0,232.93 237.5,232.82 238.0,232.72 238.5,232.61 239.0,232.51 239.5,232.43 240.0,232.37 240.5,232.35 241.0,232.36 241.5,232.38 242.0,232.41 242.5,232.44 243.0,232.46 243.5,232.46 244.0,232.45 244.5,232.41 245.0,232.36 245.5,232.28 246.0,232.18 246.5,232.05 247.0,231.89 247.5,231.69 248.0,231.42 248.5,231.06 249.0,230.53 249.5,229.74 250.0,228.48 250.5,226.51 251.0,223.59 251.5,219.54 252.0,214.45 252.5,208.88 253.0,204.15 253.5,202.20 254.0,204.11 254.5,208.79 255.0,214.31 255.5,219.35 256.0,223.36 256.5,226.23 257.0,228.15 257.5,229.37 258.0,230.12 258.5,230.60 259.0,230.92 259.5,231.14 260.0,231.31 260.5,231.43 261.0,231.53 261.5,231.60 262.0,231.66 262.5,231.70 263.0,231.73 263.5,231.75 264.0,231.76 264.5,231.77 265.0,231.77 265.5,231.76 266.0,231.75 266.5,231.73 267.0,231.71 267.5,231.69 268.0,231.66 268.5,231.62 269.0,231.58 269.5,231.54 270.0,231.49 270.5,231.43 271.0,231.37 271.5,231.30 272.0,231.22 272.5,231.14 273.0,231.05 273.5,230.94 274.0,230.83 274.5,230.71 275.0,230.57 275.5,230.43 276.0,230.27 276.5,230.10 277.0,229.93 277.5,229.74 278.0,229.54 278.5,229.34 279.0,229.14 279.5,228.93 280.0,228.72 280.5,228.51 281.0,228.31 281.5,228.13 282.0,227.96 282.5,227.81 283.0,227.69 283.5,227.59 284.0,227.53 284.5,227.60 285.0,227.79 285.5,228.05 286.0,228.32 286.5,228.58 287.0,228.79 287.5,228.92 288.0,228.97 288.5,228.90 289.0,228.72 289.5,228.37 290.0,227.83 290.5,227.04 291.0,225.95 291.5,224.49 292.0,222.59 292.5,220.21 293.0,217.32 293.5,213.96 294.0,210.22 294.5,206.27 295.0,202.42 295.5,199.09 296.0,196.79 296.5,195.98 297.0,197.10 297.5,200.11 298.0,204.28 298.5,208.86 299.0,213.32 299.5,217.31 300.0,220.69 300.5,223.39 301.0,225.48 301.5,227.02 302.0,228.13 302.5,228.91 303.0,229.45 303.5,229.81 304.0,230.02 304.5,230.10 305.0,230.06 305.5,229.88 306.0,229.53 306.5,229.01 307.0,228.34 307.5,227.56 308.0,226.78 308.5,226.19 309.0,226.01 309.5,226.34 310.0,227.08 310.5,228.00 311.0,228.94 311.5,229.78 312.0,230.48 312.5,231.02 313.0,231.42 313.5,231.72 314.0,231.93 314.5,232.08 315.0,232.19 315.5,232.28 316.0,232.36 316.5,232.42 317.0,232.48 317.5,232.52 318.0,232.57 318.5,232.61 319.0,232.64 319.5,232.68 320.0,232.71 320.5,232.73 321.0,232.76 321.5,232.78 322.0,232.81 322.5,232.83 323.0,232.85 323.5,232.87 324.0,232.89 324.5,232.90 325.0,232.92 325.5,232.93 326.0,232.95 326.5,232.96 327.0,232.98 327.5,232.99 328.0,233.00 328.5,233.01 329.0,233.02 329.5,233.03 330.0,233.04 330.5,233.05 331.0,233.06 331.5,233.07 332.0,233.08 332.5,233.09 333.0,233.10 333.5,233.10 334.0,233.11 334.5,233.12 335.0,233.12 335.5,233.13 336.0,233.14 336.5,233.14 337.0,233.15 337.5,233.16 338.0,233.16 338.5,233.17 339.0,233.17 339.5,233.18 340.0,233.18 340.5,233.18 341.0,233.19 341.5,233.19 342.0,233.20 342.5,233.20 343.0,233.20 343.5,233.21 344.0,233.21 344.5,233.22 345.0,233.22 345.5,233.22 346.0,233.22 346.5,233.23 347.0,233.23 347.5,233.23 348.0,233.23 348.5,233.24 349.0,233.24 349.5,233.24 350.0,233.24 350.5,233.25 351.0,233.25 351.5,233.25 352.0,233.25 352.5,233.25 353.0,233.25 353.5,233.26 354.0,233.26 354.5,233.26 355.0,233.26 355.5,233.26 356.0,233.26 356.5,233.26 357.0,233.26 357.5,233.27 358.0,233.27 358.5,233.27 359.0,233.27 359.5,233.27 360.0,233.27 360.5,233.27 361.0,233.27 361.5,233.27 362.0,233.27 362.5,233.27 363.0,233.27 363.5,233.27 364.0,233.27 364.5,233.27 365.0,233.27 365.5,233.27 366.0,233.27 366.5,233.27 367.0,233.27 367.5,233.27 368.0,233.27 368.5,233.27" fill="none" stroke="#6a2cea" stroke-width="2.4" stroke-linejoin="round"/>
<rect x="211.8" y="28.3" width="157.39999999999998" height="222.29999999999998" fill="none" stroke="#262626" stroke-width="1.15"/>
<line x1="234.18" y1="250.6" x2="234.18" y2="248.0" stroke="#1a1a1a" stroke-width="1.1"/>
<line x1="256.55" y1="250.6" x2="256.55" y2="246.4" stroke="#1a1a1a" stroke-width="1.1"/>
<line x1="278.93" y1="250.6" x2="278.93" y2="248.0" stroke="#1a1a1a" stroke-width="1.1"/>
<line x1="301.30" y1="250.6" x2="301.30" y2="246.4" stroke="#1a1a1a" stroke-width="1.1"/>
<line x1="323.68" y1="250.6" x2="323.68" y2="248.0" stroke="#1a1a1a" stroke-width="1.1"/>
<line x1="346.05" y1="250.6" x2="346.05" y2="246.4" stroke="#1a1a1a" stroke-width="1.1"/>
<text x="208.35" y="265.90" font-size="12.30" font-weight="bold" fill="#000" text-anchor="start" textLength="6.91" lengthAdjust="spacingAndGlyphs">0</text>
<text x="245.30" y="265.90" font-size="12.30" font-weight="bold" fill="#000" text-anchor="start" textLength="22.28" lengthAdjust="spacingAndGlyphs">100</text>
<text x="290.39" y="265.90" font-size="12.30" font-weight="bold" fill="#000" text-anchor="start" textLength="21.93" lengthAdjust="spacingAndGlyphs">200</text>
<text x="335.27" y="265.90" font-size="12.30" font-weight="bold" fill="#000" text-anchor="start" textLength="21.79" lengthAdjust="spacingAndGlyphs">300</text>
<polyline points="382.0,91.17 382.5,91.20 383.0,91.23 383.5,91.26 384.0,91.28 384.5,91.31 385.0,91.33 385.5,91.36 386.0,91.37 386.5,91.39 387.0,91.40 387.5,91.41 388.0,91.41 388.5,91.40 389.0,91.38 389.5,91.34 390.0,91.28 390.5,91.16 391.0,90.97 391.5,90.68 392.0,90.30 392.5,89.86 393.0,89.47 393.5,89.22 394.0,89.02 394.5,88.55 395.0,87.35 395.5,84.85 396.0,80.42 396.5,73.87 397.0,66.07 397.5,59.79 398.0,59.14 398.5,64.72 399.0,72.64 399.5,79.71 400.0,84.77 400.5,87.88 401.0,89.63 401.5,90.60 402.0,91.17 402.5,91.55 403.0,91.83 403.5,92.05 404.0,92.23 404.5,92.38 405.0,92.51 405.5,92.63 406.0,92.73 406.5,92.82 407.0,92.90 407.5,92.97 408.0,93.04 408.5,93.10 409.0,93.16 409.5,93.22 410.0,93.28 410.5,93.33 411.0,93.38 411.5,93.42 412.0,93.47 412.5,93.51 413.0,93.55 413.5,93.59 414.0,93.63 414.5,93.67 415.0,93.70 415.5,93.73 416.0,93.74 416.5,93.75 417.0,93.74 417.5,93.71 418.0,93.69 418.5,93.68 419.0,93.72 419.5,93.79 420.0,93.88 420.5,93.95 421.0,93.99 421.5,94.03 422.0,94.05 422.5,94.06 423.0,94.07 423.5,94.07 424.0,94.08 424.5,94.08 425.0,94.07 425.5,94.07 426.0,94.06 426.5,94.05 427.0,94.04 427.5,94.03 428.0,94.01 428.5,93.99 429.0,93.97 429.5,93.94 430.0,93.91 430.5,93.88 431.0,93.84 431.5,93.80 432.0,93.75 432.5,93.70 433.0,93.63 433.5,93.56 434.0,93.48 434.5,93.39 435.0,93.29 435.5,93.17 436.0,93.02 436.5,92.85 437.0,92.65 437.5,92.41 438.0,92.12 438.5,91.77 439.0,91.35 439.5,90.84 440.0,90.22 440.5,89.48 441.0,88.60 441.5,87.56 442.0,86.35 442.5,84.96 443.0,83.38 443.5,81.60 444.0,79.64 444.5,77.51 445.0,75.25 445.5,72.90 446.0,70.53 446.5,68.25 447.0,66.15 447.5,64.38 448.0,63.08 448.5,62.36 449.0,62.39 449.5,63.78 450.0,66.40 450.5,69.77 451.0,73.42 451.5,77.01 452.0,80.32 452.5,83.23 453.0,85.69 453.5,87.70 454.0,89.30 454.5,90.54 455.0,91.48 455.5,92.18 456.0,92.69 456.5,93.05 457.0,93.28 457.5,93.38 458.0,93.37 458.5,93.23 459.0,92.97 459.5,92.59 460.0,92.14 460.5,91.68 461.0,91.34 461.5,91.26 462.0,91.52 462.5,92.04 463.0,92.68 463.5,93.33 464.0,93.91 464.5,94.39 465.0,94.77 465.5,95.04 466.0,95.24 466.5,95.37 467.0,95.45 467.5,95.47 468.0,95.44 468.5,95.35 469.0,95.21 469.5,95.02 470.0,94.82 470.5,94.67 471.0,94.64 471.5,94.76 472.0,95.01 472.5,95.30 473.0,95.58 473.5,95.83 474.0,96.02 474.5,96.17 475.0,96.29 475.5,96.37 476.0,96.44 476.5,96.49 477.0,96.54 477.5,96.58 478.0,96.62 478.5,96.66 479.0,96.69 479.5,96.72 480.0,96.76 480.5,96.78 481.0,96.80 481.5,96.83 482.0,96.85 482.5,96.87 483.0,96.89 483.5,96.91 484.0,96.93 484.5,96.95 485.0,96.97 485.5,96.99 486.0,97.01 486.5,97.03 487.0,97.04 487.5,97.06 488.0,97.08 488.5,97.10 489.0,97.12 489.5,97.13 490.0,97.15 490.5,97.17 491.0,97.18 491.5,97.20 492.0,97.22 492.5,97.23 493.0,97.25 493.5,97.26 494.0,97.28 494.5,97.30 495.0,97.31 495.5,97.33 496.0,97.34 496.5,97.36 497.0,97.38 497.5,97.39 498.0,97.41 498.5,97.42 499.0,97.44 499.5,97.45 500.0,97.47 500.5,97.48 501.0,97.50 501.5,97.51 502.0,97.53 502.5,97.54 503.0,97.56 503.5,97.57 504.0,97.59 504.5,97.60 505.0,97.62 505.5,97.63 506.0,97.65 506.5,97.66 507.0,97.68 507.5,97.69 508.0,97.71 508.5,97.72 509.0,97.74 509.5,97.75 510.0,97.76 510.5,97.78 511.0,97.79 511.5,97.81 512.0,97.82 512.5,97.84 513.0,97.85 513.5,97.87 514.0,97.88 514.5,97.89 515.0,97.91 515.5,97.92 516.0,97.94 516.5,97.95 517.0,97.97 517.5,97.98 518.0,97.99 518.5,98.01 519.0,98.02 519.5,98.04 520.0,98.05 520.5,98.07 521.0,98.08 521.5,98.09 522.0,98.11 522.5,98.12 523.0,98.14 523.5,98.15 524.0,98.16 524.5,98.18 525.0,98.19 525.5,98.21 526.0,98.22 526.5,98.24 527.0,98.25 527.5,98.26 528.0,98.28 528.5,98.29 529.0,98.31 529.5,98.32 530.0,98.33 530.5,98.35 531.0,98.36 531.5,98.38 532.0,98.39 532.5,98.40 533.0,98.42 533.5,98.43 534.0,98.45 534.5,98.46" fill="none" stroke="#1c1cc4" stroke-width="2.4" stroke-linejoin="round"/>
<polyline points="382.0,116.59 382.5,116.59 383.0,116.59 383.5,116.58 384.0,116.57 384.5,116.55 385.0,116.52 385.5,116.49 386.0,116.45 386.5,116.39 387.0,116.31 387.5,116.22 388.0,116.08 388.5,115.90 389.0,115.64 389.5,115.20 390.0,114.44 390.5,113.09 391.0,110.80 391.5,107.31 392.0,102.72 392.5,97.81 393.0,94.46 393.5,94.76 394.0,98.37 394.5,102.97 395.0,106.76 395.5,108.87 396.0,109.09 396.5,107.60 397.0,105.10 397.5,102.93 398.0,102.92 398.5,105.35 399.0,108.70 399.5,111.67 400.0,113.80 400.5,115.14 401.0,115.90 401.5,116.34 402.0,116.61 402.5,116.79 403.0,116.94 403.5,117.05 404.0,117.14 404.5,117.22 405.0,117.29 405.5,117.33 406.0,117.35 406.5,117.38 407.0,117.39 407.5,117.40 408.0,117.41 408.5,117.41 409.0,117.41 409.5,117.40 410.0,117.39 410.5,117.38 411.0,117.35 411.5,117.32 412.0,117.28 412.5,117.23 413.0,117.17 413.5,117.08 414.0,116.96 414.5,116.78 415.0,116.50 415.5,116.03 416.0,115.24 416.5,113.99 417.0,112.20 417.5,109.94 418.0,107.60 418.5,106.06 419.0,106.24 419.5,108.03 420.0,110.40 420.5,112.58 421.0,114.25 421.5,115.39 422.0,116.10 422.5,116.52 423.0,116.77 423.5,116.93 424.0,117.03 424.5,117.11 425.0,117.17 425.5,117.24 426.0,117.30 426.5,117.35 427.0,117.40 427.5,117.44 428.0,117.47 428.5,117.50 429.0,117.53 429.5,117.55 430.0,117.57 430.5,117.59 431.0,117.61 431.5,117.62 432.0,117.62 432.5,117.63 433.0,117.63 433.5,117.63 434.0,117.62 434.5,117.60 435.0,117.58 435.5,117.56 436.0,117.52 436.5,117.47 437.0,117.41 437.5,117.33 438.0,117.22 438.5,117.10 439.0,116.94 439.5,116.74 440.0,116.50 440.5,116.20 441.0,115.84 441.5,115.42 442.0,114.92 442.5,114.34 443.0,113.68 443.5,112.94 444.0,112.12 444.5,111.23 445.0,110.27 445.5,109.29 446.0,108.29 446.5,107.32 447.0,106.44 447.5,105.70 448.0,105.16 448.5,104.87 449.0,104.89 449.5,105.50 450.0,106.64 450.5,108.10 451.0,109.68 451.5,111.23 452.0,112.65 452.5,113.91 453.0,114.96 453.5,115.83 454.0,116.51 454.5,117.02 455.0,117.41 455.5,117.67 456.0,117.83 456.5,117.89 457.0,117.84 457.5,117.66 458.0,117.32 458.5,116.80 459.0,116.08 459.5,115.17 460.0,114.14 460.5,113.13 461.0,112.35 461.5,112.09 462.0,112.47 462.5,113.37 463.0,114.51 463.5,115.67 464.0,116.70 464.5,117.56 465.0,118.22 465.5,118.72 466.0,119.07 466.5,119.32 467.0,119.49 467.5,119.61 468.0,119.68 468.5,119.71 469.0,119.71 469.5,119.69 470.0,119.65 470.5,119.63 471.0,119.66 471.5,119.75 472.0,119.88 472.5,120.04 473.0,120.18 473.5,120.32 474.0,120.43 474.5,120.52 475.0,120.59 475.5,120.63 476.0,120.67 476.5,120.69 477.0,120.72 477.5,120.74 478.0,120.76 478.5,120.78 479.0,120.79 479.5,120.81 480.0,120.83 480.5,120.84 481.0,120.86 481.5,120.87 482.0,120.89 482.5,120.90 483.0,120.91 483.5,120.92 484.0,120.94 484.5,120.95 485.0,120.96 485.5,120.97 486.0,120.98 486.5,121.00 487.0,121.01 487.5,121.02 488.0,121.03 488.5,121.04 489.0,121.05 489.5,121.06 490.0,121.07 490.5,121.08 491.0,121.09 491.5,121.10 492.0,121.11 492.5,121.12 493.0,121.13 493.5,121.14 494.0,121.15 494.5,121.16 495.0,121.17 495.5,121.18 496.0,121.19 496.5,121.20 497.0,121.21 497.5,121.22 498.0,121.23 498.5,121.24 499.0,121.25 499.5,121.26 500.0,121.27 500.5,121.28 501.0,121.29 501.5,121.30 502.0,121.31 502.5,121.31 503.0,121.32 503.5,121.33 504.0,121.34 504.5,121.35 505.0,121.36 505.5,121.37 506.0,121.38 506.5,121.39 507.0,121.40 507.5,121.41 508.0,121.41 508.5,121.42 509.0,121.43 509.5,121.44 510.0,121.45 510.5,121.46 511.0,121.47 511.5,121.48 512.0,121.49 512.5,121.49 513.0,121.50 513.5,121.51 514.0,121.52 514.5,121.53 515.0,121.54 515.5,121.55 516.0,121.56 516.5,121.56 517.0,121.57 517.5,121.58 518.0,121.59 518.5,121.60 519.0,121.61 519.5,121.62 520.0,121.63 520.5,121.63 521.0,121.64 521.5,121.65 522.0,121.66 522.5,121.67 523.0,121.68 523.5,121.69 524.0,121.69 524.5,121.70 525.0,121.71 525.5,121.72 526.0,121.73 526.5,121.74 527.0,121.75 527.5,121.75 528.0,121.76 528.5,121.77 529.0,121.78 529.5,121.79 530.0,121.80 530.5,121.81 531.0,121.81 531.5,121.82 532.0,121.83 532.5,121.84 533.0,121.85 533.5,121.86 534.0,121.87 534.5,121.87" fill="none" stroke="#18b418" stroke-width="2.4" stroke-linejoin="round"/>
<polyline points="382.0,141.10 382.5,141.09 383.0,141.08 383.5,141.06 384.0,141.03 384.5,141.00 385.0,140.96 385.5,140.91 386.0,140.85 386.5,140.77 387.0,140.67 387.5,140.54 388.0,140.38 388.5,140.15 389.0,139.81 389.5,139.27 390.0,138.32 390.5,136.62 391.0,133.76 391.5,129.39 392.0,123.64 392.5,117.50 393.0,113.35 393.5,113.82 394.0,118.50 394.5,124.54 395.0,129.77 395.5,133.30 396.0,135.02 396.5,135.25 397.0,134.59 397.5,133.88 398.0,134.07 398.5,135.36 399.0,137.06 399.5,138.55 400.0,139.63 400.5,140.31 401.0,140.71 401.5,140.94 402.0,141.09 402.5,141.20 403.0,141.28 403.5,141.34 404.0,141.39 404.5,141.44 405.0,141.47 405.5,141.50 406.0,141.52 406.5,141.53 407.0,141.55 407.5,141.56 408.0,141.56 408.5,141.56 409.0,141.56 409.5,141.55 410.0,141.53 410.5,141.51 411.0,141.49 411.5,141.45 412.0,141.40 412.5,141.34 413.0,141.26 413.5,141.16 414.0,141.01 414.5,140.78 415.0,140.42 415.5,139.81 416.0,138.80 416.5,137.19 417.0,134.87 417.5,131.95 418.0,128.93 418.5,126.94 419.0,127.19 419.5,129.51 420.0,132.60 420.5,135.44 421.0,137.62 421.5,139.11 422.0,140.04 422.5,140.60 423.0,140.94 423.5,141.16 424.0,141.31 424.5,141.42 425.0,141.51 425.5,141.59 426.0,141.65 426.5,141.70 427.0,141.74 427.5,141.77 428.0,141.80 428.5,141.83 429.0,141.86 429.5,141.88 430.0,141.89 430.5,141.91 431.0,141.93 431.5,141.94 432.0,141.95 432.5,141.96 433.0,141.97 433.5,141.98 434.0,141.99 434.5,142.00 435.0,142.01 435.5,142.01 436.0,142.02 436.5,142.02 437.0,142.03 437.5,142.03 438.0,142.03 438.5,142.03 439.0,142.03 439.5,142.03 440.0,142.03 440.5,142.05 441.0,142.07 441.5,142.09 442.0,142.11 442.5,142.12 443.0,142.13 443.5,142.14 444.0,142.15 444.5,142.16 445.0,142.16 445.5,142.16 446.0,142.16 446.5,142.17 447.0,142.17 447.5,142.17 448.0,142.18 448.5,142.19 449.0,142.21 449.5,142.24 450.0,142.28 450.5,142.32 451.0,142.36 451.5,142.40 452.0,142.44 452.5,142.47 453.0,142.48 453.5,142.49 454.0,142.48 454.5,142.47 455.0,142.43 455.5,142.36 456.0,142.26 456.5,142.10 457.0,141.85 457.5,141.46 458.0,140.90 458.5,140.13 459.0,139.11 459.5,137.86 460.0,136.46 460.5,135.08 461.0,134.02 461.5,133.63 462.0,134.08 462.5,135.19 463.0,136.63 463.5,138.09 464.0,139.40 464.5,140.48 465.0,141.31 465.5,141.93 466.0,142.37 466.5,142.68 467.0,142.89 467.5,143.05 468.0,143.16 468.5,143.25 469.0,143.31 469.5,143.35 470.0,143.39 470.5,143.42 471.0,143.47 471.5,143.54 472.0,143.61 472.5,143.70 473.0,143.78 473.5,143.85 474.0,143.91 474.5,143.97 475.0,144.02 475.5,144.05 476.0,144.08 476.5,144.10 477.0,144.13 477.5,144.15 478.0,144.17 478.5,144.19 479.0,144.21 479.5,144.23 480.0,144.25 480.5,144.27 481.0,144.29 481.5,144.30 482.0,144.32 482.5,144.34 483.0,144.36 483.5,144.37 484.0,144.39 484.5,144.41 485.0,144.42 485.5,144.44 486.0,144.46 486.5,144.47 487.0,144.49 487.5,144.50 488.0,144.52 488.5,144.54 489.0,144.55 489.5,144.57 490.0,144.58 490.5,144.60 491.0,144.61 491.5,144.63 492.0,144.64 492.5,144.66 493.0,144.67 493.5,144.69 494.0,144.70 494.5,144.72 495.0,144.73 495.5,144.75 496.0,144.76 496.5,144.78 497.0,144.79 497.5,144.81 498.0,144.82 498.5,144.84 499.0,144.85 499.5,144.87 500.0,144.88 500.5,144.90 501.0,144.91 501.5,144.93 502.0,144.94 502.5,144.96 503.0,144.97 503.5,144.99 504.0,145.00 504.5,145.01 505.0,145.03 505.5,145.04 506.0,145.06 506.5,145.07 507.0,145.09 507.5,145.10 508.0,145.12 508.5,145.13 509.0,145.15 509.5,145.16 510.0,145.17 510.5,145.19 511.0,145.20 511.5,145.22 512.0,145.23 512.5,145.25 513.0,145.26 513.5,145.28 514.0,145.29 514.5,145.30 515.0,145.32 515.5,145.33 516.0,145.35 516.5,145.36 517.0,145.38 517.5,145.39 518.0,145.41 518.5,145.42 519.0,145.43 519.5,145.45 520.0,145.46 520.5,145.48 521.0,145.49 521.5,145.51 522.0,145.52 522.5,145.53 523.0,145.55 523.5,145.56 524.0,145.58 524.5,145.59 525.0,145.61 525.5,145.62 526.0,145.63 526.5,145.65 527.0,145.66 527.5,145.68 528.0,145.69 528.5,145.71 529.0,145.72 529.5,145.73 530.0,145.75 530.5,145.76 531.0,145.78 531.5,145.79 532.0,145.81 532.5,145.82 533.0,145.83 533.5,145.85 534.0,145.86 534.5,145.88" fill="none" stroke="#b448f0" stroke-width="2.4" stroke-linejoin="round"/>
<polyline points="382.0,162.02 382.5,162.02 383.0,162.01 383.5,162.00 384.0,161.99 384.5,161.98 385.0,161.97 385.5,161.95 386.0,161.93 386.5,161.90 387.0,161.86 387.5,161.81 388.0,161.76 388.5,161.68 389.0,161.58 389.5,161.44 390.0,161.20 390.5,160.82 391.0,160.20 391.5,159.29 392.0,158.08 392.5,156.77 393.0,155.77 393.5,155.52 394.0,155.88 394.5,156.13 395.0,155.49 395.5,153.20 396.0,148.61 396.5,141.53 397.0,132.97 397.5,126.05 398.0,125.34 398.5,131.50 399.0,140.25 399.5,148.05 400.0,153.63 400.5,157.06 401.0,158.96 401.5,160.00 402.0,160.61 402.5,161.00 403.0,161.28 403.5,161.50 404.0,161.68 404.5,161.82 405.0,161.94 405.5,162.03 406.0,162.12 406.5,162.19 407.0,162.25 407.5,162.31 408.0,162.35 408.5,162.40 409.0,162.44 409.5,162.47 410.0,162.50 410.5,162.53 411.0,162.56 411.5,162.59 412.0,162.61 412.5,162.63 413.0,162.65 413.5,162.67 414.0,162.69 414.5,162.70 415.0,162.72 415.5,162.73 416.0,162.74 416.5,162.76 417.0,162.77 417.5,162.78 418.0,162.80 418.5,162.81 419.0,162.81 419.5,162.82 420.0,162.82 420.5,162.82 421.0,162.82 421.5,162.82 422.0,162.82 422.5,162.82 423.0,162.81 423.5,162.81 424.0,162.80 424.5,162.80 425.0,162.79 425.5,162.78 426.0,162.77 426.5,162.75 427.0,162.74 427.5,162.72 428.0,162.70 428.5,162.68 429.0,162.65 429.5,162.62 430.0,162.59 430.5,162.55 431.0,162.51 431.5,162.46 432.0,162.41 432.5,162.35 433.0,162.29 433.5,162.21 434.0,162.13 434.5,162.03 435.0,161.92 435.5,161.80 436.0,161.65 436.5,161.48 437.0,161.27 437.5,161.03 438.0,160.73 438.5,160.38 439.0,159.95 439.5,159.43 440.0,158.81 440.5,158.08 441.0,157.21 441.5,156.18 442.0,154.98 442.5,153.59 443.0,152.01 443.5,150.24 444.0,148.28 444.5,146.16 445.0,143.90 445.5,141.55 446.0,139.19 446.5,136.91 447.0,134.81 447.5,133.05 448.0,131.76 448.5,131.06 449.0,131.09 449.5,132.50 450.0,135.15 450.5,138.54 451.0,142.22 451.5,145.84 452.0,149.18 452.5,152.12 453.0,154.61 453.5,156.65 454.0,158.28 454.5,159.55 455.0,160.52 455.5,161.26 456.0,161.81 456.5,162.22 457.0,162.52 457.5,162.72 458.0,162.84 458.5,162.88 459.0,162.85 459.5,162.74 460.0,162.59 460.5,162.43 461.0,162.32 461.5,162.34 462.0,162.53 462.5,162.84 463.0,163.22 463.5,163.59 464.0,163.93 464.5,164.21 465.0,164.44 465.5,164.62 466.0,164.76 466.5,164.87 467.0,164.94 467.5,165.00 468.0,165.03 468.5,165.03 469.0,165.02 469.5,164.98 470.0,164.94 470.5,164.92 471.0,164.94 471.5,165.02 472.0,165.15 472.5,165.29 473.0,165.43 473.5,165.56 474.0,165.67 474.5,165.76 475.0,165.83 475.5,165.89 476.0,165.95 476.5,166.00 477.0,166.04 477.5,166.09 478.0,166.13 478.5,166.17 479.0,166.21 479.5,166.25 480.0,166.29 480.5,166.31 481.0,166.33 481.5,166.35 482.0,166.37 482.5,166.39 483.0,166.40 483.5,166.42 484.0,166.44 484.5,166.45 485.0,166.47 485.5,166.49 486.0,166.50 486.5,166.52 487.0,166.53 487.5,166.55 488.0,166.56 488.5,166.58 489.0,166.59 489.5,166.61 490.0,166.62 490.5,166.64 491.0,166.65 491.5,166.67 492.0,166.68 492.5,166.70 493.0,166.71 493.5,166.72 494.0,166.74 494.5,166.75 495.0,166.77 495.5,166.78 496.0,166.79 496.5,166.81 497.0,166.82 497.5,166.83 498.0,166.85 498.5,166.86 499.0,166.87 499.5,166.89 500.0,166.90 500.5,166.91 501.0,166.93 501.5,166.94 502.0,166.95 502.5,166.97 503.0,166.98 503.5,166.99 504.0,167.01 504.5,167.02 505.0,167.03 505.5,167.04 506.0,167.06 506.5,167.07 507.0,167.08 507.5,167.09 508.0,167.11 508.5,167.12 509.0,167.13 509.5,167.15 510.0,167.16 510.5,167.17 511.0,167.18 511.5,167.20 512.0,167.21 512.5,167.22 513.0,167.23 513.5,167.25 514.0,167.26 514.5,167.27 515.0,167.28 515.5,167.30 516.0,167.31 516.5,167.32 517.0,167.33 517.5,167.35 518.0,167.36 518.5,167.37 519.0,167.38 519.5,167.40 520.0,167.41 520.5,167.42 521.0,167.43 521.5,167.44 522.0,167.46 522.5,167.47 523.0,167.48 523.5,167.49 524.0,167.51 524.5,167.52 525.0,167.53 525.5,167.54 526.0,167.56 526.5,167.57 527.0,167.58 527.5,167.59 528.0,167.60 528.5,167.62 529.0,167.63 529.5,167.64 530.0,167.65 530.5,167.66 531.0,167.68 531.5,167.69 532.0,167.70 532.5,167.71 533.0,167.73 533.5,167.74 534.0,167.75 534.5,167.76" fill="none" stroke="#2846f8" stroke-width="2.4" stroke-linejoin="round"/>
<polyline points="382.0,183.75 382.5,183.78 383.0,183.82 383.5,183.86 384.0,183.89 384.5,183.92 385.0,183.95 385.5,183.98 386.0,184.00 386.5,184.02 387.0,184.03 387.5,184.04 388.0,184.03 388.5,184.01 389.0,183.97 389.5,183.88 390.0,183.69 390.5,183.34 391.0,182.74 391.5,181.81 392.0,180.56 392.5,179.22 393.0,178.29 393.5,178.30 394.0,179.15 394.5,180.16 395.0,180.71 395.5,180.40 396.0,178.95 396.5,176.36 397.0,173.07 397.5,170.40 398.0,170.20 398.5,172.75 399.0,176.34 399.5,179.54 400.0,181.84 400.5,183.27 401.0,184.09 401.5,184.56 402.0,184.85 402.5,185.04 403.0,185.18 403.5,185.30 404.0,185.39 404.5,185.47 405.0,185.54 405.5,185.61 406.0,185.66 406.5,185.71 407.0,185.76 407.5,185.81 408.0,185.85 408.5,185.88 409.0,185.92 409.5,185.95 410.0,185.99 410.5,186.02 411.0,186.04 411.5,186.07 412.0,186.09 412.5,186.11 413.0,186.13 413.5,186.14 414.0,186.15 414.5,186.14 415.0,186.11 415.5,186.04 416.0,185.91 416.5,185.69 417.0,185.35 417.5,184.92 418.0,184.47 418.5,184.19 419.0,184.25 419.5,184.64 420.0,185.14 420.5,185.61 421.0,185.97 421.5,186.22 422.0,186.39 422.5,186.50 423.0,186.57 423.5,186.62 424.0,186.67 424.5,186.70 425.0,186.74 425.5,186.76 426.0,186.79 426.5,186.81 427.0,186.83 427.5,186.85 428.0,186.87 428.5,186.89 429.0,186.90 429.5,186.91 430.0,186.92 430.5,186.93 431.0,186.94 431.5,186.94 432.0,186.94 432.5,186.94 433.0,186.93 433.5,186.93 434.0,186.91 434.5,186.90 435.0,186.87 435.5,186.84 436.0,186.80 436.5,186.75 437.0,186.68 437.5,186.60 438.0,186.50 438.5,186.37 439.0,186.21 439.5,186.01 440.0,185.76 440.5,185.47 441.0,185.11 441.5,184.69 442.0,184.19 442.5,183.62 443.0,182.96 443.5,182.22 444.0,181.40 444.5,180.51 445.0,179.56 445.5,178.57 446.0,177.58 446.5,176.62 447.0,175.74 447.5,175.01 448.0,174.47 448.5,174.19 449.0,174.22 449.5,174.84 450.0,175.98 450.5,177.45 451.0,179.04 451.5,180.60 452.0,182.04 452.5,183.31 453.0,184.39 453.5,185.27 454.0,185.97 454.5,186.52 455.0,186.95 455.5,187.26 456.0,187.49 456.5,187.65 457.0,187.74 457.5,187.78 458.0,187.74 458.5,187.64 459.0,187.45 459.5,187.20 460.0,186.91 460.5,186.61 461.0,186.39 461.5,186.34 462.0,186.51 462.5,186.85 463.0,187.28 463.5,187.70 464.0,188.09 464.5,188.41 465.0,188.66 465.5,188.86 466.0,189.00 466.5,189.11 467.0,189.18 467.5,189.23 468.0,189.26 468.5,189.26 469.0,189.23 469.5,189.19 470.0,189.15 470.5,189.12 471.0,189.14 471.5,189.21 472.0,189.33 472.5,189.47 473.0,189.60 473.5,189.72 474.0,189.81 474.5,189.90 475.0,189.96 475.5,190.02 476.0,190.07 476.5,190.12 477.0,190.16 477.5,190.20 478.0,190.24 478.5,190.28 479.0,190.32 479.5,190.35 480.0,190.39 480.5,190.40 481.0,190.42 481.5,190.43 482.0,190.44 482.5,190.45 483.0,190.47 483.5,190.48 484.0,190.49 484.5,190.50 485.0,190.51 485.5,190.53 486.0,190.54 486.5,190.55 487.0,190.56 487.5,190.57 488.0,190.58 488.5,190.59 489.0,190.60 489.5,190.61 490.0,190.63 490.5,190.64 491.0,190.65 491.5,190.66 492.0,190.67 492.5,190.68 493.0,190.69 493.5,190.70 494.0,190.71 494.5,190.72 495.0,190.73 495.5,190.74 496.0,190.75 496.5,190.76 497.0,190.77 497.5,190.78 498.0,190.79 498.5,190.80 499.0,190.81 499.5,190.82 500.0,190.83 500.5,190.84 501.0,190.85 501.5,190.86 502.0,190.87 502.5,190.88 503.0,190.89 503.5,190.90 504.0,190.91 504.5,190.92 505.0,190.93 505.5,190.93 506.0,190.94 506.5,190.95 507.0,190.96 507.5,190.97 508.0,190.98 508.5,190.99 509.0,191.00 509.5,191.01 510.0,191.02 510.5,191.03 511.0,191.04 511.5,191.05 512.0,191.06 512.5,191.07 513.0,191.08 513.5,191.09 514.0,191.10 514.5,191.11 515.0,191.12 515.5,191.12 516.0,191.13 516.5,191.14 517.0,191.15 517.5,191.16 518.0,191.17 518.5,191.18 519.0,191.19 519.5,191.20 520.0,191.21 520.5,191.22 521.0,191.23 521.5,191.24 522.0,191.25 522.5,191.26 523.0,191.27 523.5,191.27 524.0,191.28 524.5,191.29 525.0,191.30 525.5,191.31 526.0,191.32 526.5,191.33 527.0,191.34 527.5,191.35 528.0,191.36 528.5,191.37 529.0,191.38 529.5,191.39 530.0,191.40 530.5,191.40 531.0,191.41 531.5,191.42 532.0,191.43 532.5,191.44 533.0,191.45 533.5,191.46 534.0,191.47 534.5,191.48" fill="none" stroke="#f81c3c" stroke-width="2.4" stroke-linejoin="round"/>
<polyline points="382.0,205.10 382.5,205.18 383.0,205.27 383.5,205.35 384.0,205.43 384.5,205.50 385.0,205.58 385.5,205.65 386.0,205.72 386.5,205.78 387.0,205.84 387.5,205.89 388.0,205.92 388.5,205.94 389.0,205.92 389.5,205.84 390.0,205.64 390.5,205.21 391.0,204.43 391.5,203.19 392.0,201.54 392.5,199.76 393.0,198.58 393.5,198.78 394.0,200.25 394.5,202.10 395.0,203.65 395.5,204.59 396.0,204.85 396.5,204.50 397.0,203.79 397.5,203.18 398.0,203.27 398.5,204.17 399.0,205.37 399.5,206.44 400.0,207.24 400.5,207.77 401.0,208.11 401.5,208.34 402.0,208.52 402.5,208.60 403.0,208.67 403.5,208.73 404.0,208.78 404.5,208.82 405.0,208.86 405.5,208.90 406.0,208.94 406.5,208.97 407.0,209.00 407.5,209.03 408.0,209.06 408.5,209.09 409.0,209.11 409.5,209.14 410.0,209.16 410.5,209.18 411.0,209.20 411.5,209.21 412.0,209.23 412.5,209.24 413.0,209.24 413.5,209.24 414.0,209.23 414.5,209.20 415.0,209.13 415.5,209.01 416.0,208.78 416.5,208.41 417.0,207.86 417.5,207.16 418.0,206.44 418.5,205.97 419.0,206.06 419.5,206.66 420.0,207.44 420.5,208.17 421.0,208.73 421.5,209.12 422.0,209.38 422.5,209.54 423.0,209.65 423.5,209.72 424.0,209.79 424.5,209.84 425.0,209.88 425.5,209.92 426.0,209.96 426.5,210.00 427.0,210.03 427.5,210.06 428.0,210.10 428.5,210.13 429.0,210.15 429.5,210.18 430.0,210.21 430.5,210.24 431.0,210.26 431.5,210.29 432.0,210.31 432.5,210.34 433.0,210.36 433.5,210.39 434.0,210.41 434.5,210.43 435.0,210.46 435.5,210.48 436.0,210.50 436.5,210.52 437.0,210.54 437.5,210.56 438.0,210.57 438.5,210.59 439.0,210.60 439.5,210.61 440.0,210.62 440.5,210.63 441.0,210.64 441.5,210.64 442.0,210.64 442.5,210.63 443.0,210.62 443.5,210.61 444.0,210.58 444.5,210.56 445.0,210.52 445.5,210.49 446.0,210.45 446.5,210.42 447.0,210.39 447.5,210.38 448.0,210.37 448.5,210.38 449.0,210.41 449.5,210.48 450.0,210.58 450.5,210.70 451.0,210.83 451.5,210.96 452.0,211.07 452.5,211.18 453.0,211.27 453.5,211.34 454.0,211.41 454.5,211.45 455.0,211.49 455.5,211.51 456.0,211.51 456.5,211.49 457.0,211.43 457.5,211.33 458.0,211.17 458.5,210.93 459.0,210.61 459.5,210.20 460.0,209.75 460.5,209.30 461.0,208.96 461.5,208.85 462.0,209.03 462.5,209.44 463.0,209.96 463.5,210.48 464.0,210.96 464.5,211.35 465.0,211.66 465.5,211.89 466.0,212.06 466.5,212.19 467.0,212.28 467.5,212.34 468.0,212.38 468.5,212.40 469.0,212.40 469.5,212.39 470.0,212.37 470.5,212.37 471.0,212.39 471.5,212.46 472.0,212.55 472.5,212.65 473.0,212.75 473.5,212.85 474.0,212.92 474.5,212.99 475.0,213.05 475.5,213.10 476.0,213.15 476.5,213.19 477.0,213.23 477.5,213.27 478.0,213.31 478.5,213.35 479.0,213.38 479.5,213.42 480.0,213.46 480.5,213.47 481.0,213.48 481.5,213.50 482.0,213.51 482.5,213.53 483.0,213.54 483.5,213.55 484.0,213.57 484.5,213.58 485.0,213.59 485.5,213.60 486.0,213.62 486.5,213.63 487.0,213.64 487.5,213.66 488.0,213.67 488.5,213.68 489.0,213.69 489.5,213.71 490.0,213.72 490.5,213.73 491.0,213.74 491.5,213.75 492.0,213.77 492.5,213.78 493.0,213.79 493.5,213.80 494.0,213.82 494.5,213.83 495.0,213.84 495.5,213.85 496.0,213.87 496.5,213.88 497.0,213.89 497.5,213.90 498.0,213.91 498.5,213.93 499.0,213.94 499.5,213.95 500.0,213.96 500.5,213.97 501.0,213.99 501.5,214.00 502.0,214.01 502.5,214.02 503.0,214.03 503.5,214.05 504.0,214.06 504.5,214.07 505.0,214.08 505.5,214.09 506.0,214.11 506.5,214.12 507.0,214.13 507.5,214.14 508.0,214.15 508.5,214.17 509.0,214.18 509.5,214.19 510.0,214.20 510.5,214.21 511.0,214.23 511.5,214.24 512.0,214.25 512.5,214.26 513.0,214.27 513.5,214.29 514.0,214.30 514.5,214.31 515.0,214.32 515.5,214.33 516.0,214.34 516.5,214.36 517.0,214.37 517.5,214.38 518.0,214.39 518.5,214.40 519.0,214.42 519.5,214.43 520.0,214.44 520.5,214.45 521.0,214.46 521.5,214.48 522.0,214.49 522.5,214.50 523.0,214.51 523.5,214.52 524.0,214.54 524.5,214.55 525.0,214.56 525.5,214.57 526.0,214.58 526.5,214.59 527.0,214.61 527.5,214.62 528.0,214.63 528.5,214.64 529.0,214.65 529.5,214.67 530.0,214.68 530.5,214.69 531.0,214.70 531.5,214.71 532.0,214.73 532.5,214.74 533.0,214.75 533.5,214.76 534.0,214.77 534.5,214.78" fill="none" stroke="#000000" stroke-width="2.4" stroke-linejoin="round"/>
<polyline points="382.0,230.95 382.5,230.96 383.0,230.98 383.5,230.99 384.0,231.00 384.5,231.00 385.0,231.01 385.5,231.01 386.0,231.01 386.5,231.00 387.0,230.99 387.5,230.98 388.0,230.95 388.5,230.92 389.0,230.87 389.5,230.80 390.0,230.68 390.5,230.49 391.0,230.18 391.5,229.74 392.0,229.15 392.5,228.49 393.0,227.93 393.5,227.66 394.0,227.55 394.5,227.19 395.0,226.03 395.5,223.41 396.0,218.67 396.5,211.61 397.0,203.18 397.5,196.38 398.0,195.67 398.5,201.68 399.0,210.23 399.5,217.86 400.0,223.32 400.5,226.67 401.0,228.54 401.5,229.57 402.0,230.17 402.5,230.56 403.0,230.85 403.5,231.05 404.0,231.22 404.5,231.35 405.0,231.45 405.5,231.54 406.0,231.61 406.5,231.68 407.0,231.73 407.5,231.77 408.0,231.81 408.5,231.85 409.0,231.88 409.5,231.91 410.0,231.93 410.5,231.95 411.0,231.97 411.5,231.99 412.0,232.01 412.5,232.02 413.0,232.03 413.5,232.04 414.0,232.05 414.5,232.06 415.0,232.07 415.5,232.08 416.0,232.08 416.5,232.09 417.0,232.09 417.5,232.09 418.0,232.10 418.5,232.10 419.0,232.10 419.5,232.10 420.0,232.09 420.5,232.09 421.0,232.09 421.5,232.08 422.0,232.08 422.5,232.07 423.0,232.06 423.5,232.05 424.0,232.04 424.5,232.03 425.0,232.01 425.5,231.99 426.0,231.98 426.5,231.96 427.0,231.94 427.5,231.91 428.0,231.88 428.5,231.85 429.0,231.82 429.5,231.79 430.0,231.75 430.5,231.71 431.0,231.66 431.5,231.61 432.0,231.55 432.5,231.48 433.0,231.41 433.5,231.33 434.0,231.25 434.5,231.15 435.0,231.03 435.5,230.90 436.0,230.75 436.5,230.58 437.0,230.37 437.5,230.12 438.0,229.83 438.5,229.47 439.0,229.04 439.5,228.53 440.0,227.91 440.5,227.19 441.0,226.34 441.5,225.33 442.0,224.14 442.5,222.78 443.0,221.23 443.5,219.49 444.0,217.57 444.5,215.48 445.0,213.26 445.5,210.96 446.0,208.64 446.5,206.40 447.0,204.34 447.5,202.61 448.0,201.34 448.5,200.65 449.0,200.69 449.5,202.08 450.0,204.68 450.5,208.02 451.0,211.64 451.5,215.21 452.0,218.49 452.5,221.39 453.0,223.84 453.5,225.85 454.0,227.46 454.5,228.72 455.0,229.68 455.5,230.42 456.0,230.99 456.5,231.42 457.0,231.76 457.5,232.02 458.0,232.22 458.5,232.38 459.0,232.50 459.5,232.59 460.0,232.65 460.5,232.70 461.0,232.76 461.5,232.84 462.0,232.97 462.5,233.12 463.0,233.28 463.5,233.44 464.0,233.58 464.5,233.71 465.0,233.82 465.5,233.92 466.0,234.00 466.5,234.07 467.0,234.14 467.5,234.19 468.0,234.24 468.5,234.28 469.0,234.31 469.5,234.34 470.0,234.37 470.5,234.40 471.0,234.44 471.5,234.49 472.0,234.56 472.5,234.63 473.0,234.69 473.5,234.76 474.0,234.82 474.5,234.87 475.0,234.92 475.5,234.96 476.0,235.01 476.5,235.05 477.0,235.09 477.5,235.13 478.0,235.17 478.5,235.21 479.0,235.24 479.5,235.28 480.0,235.32 480.5,235.34 481.0,235.36 481.5,235.37 482.0,235.39 482.5,235.41 483.0,235.42 483.5,235.44 484.0,235.45 484.5,235.47 485.0,235.49 485.5,235.50 486.0,235.52 486.5,235.53 487.0,235.55 487.5,235.56 488.0,235.58 488.5,235.59 489.0,235.60 489.5,235.62 490.0,235.63 490.5,235.65 491.0,235.66 491.5,235.68 492.0,235.69 492.5,235.70 493.0,235.72 493.5,235.73 494.0,235.75 494.5,235.76 495.0,235.77 495.5,235.79 496.0,235.80 496.5,235.81 497.0,235.83 497.5,235.84 498.0,235.85 498.5,235.87 499.0,235.88 499.5,235.89 500.0,235.91 500.5,235.92 501.0,235.93 501.5,235.94 502.0,235.96 502.5,235.97 503.0,235.98 503.5,236.00 504.0,236.01 504.5,236.02 505.0,236.04 505.5,236.05 506.0,236.06 506.5,236.07 507.0,236.09 507.5,236.10 508.0,236.11 508.5,236.12 509.0,236.14 509.5,236.15 510.0,236.16 510.5,236.17 511.0,236.19 511.5,236.20 512.0,236.21 512.5,236.22 513.0,236.24 513.5,236.25 514.0,236.26 514.5,236.27 515.0,236.29 515.5,236.30 516.0,236.31 516.5,236.32 517.0,236.34 517.5,236.35 518.0,236.36 518.5,236.37 519.0,236.39 519.5,236.40 520.0,236.41 520.5,236.42 521.0,236.43 521.5,236.45 522.0,236.46 522.5,236.47 523.0,236.48 523.5,236.50 524.0,236.51 524.5,236.52 525.0,236.53 525.5,236.54 526.0,236.56 526.5,236.57 527.0,236.58 527.5,236.59 528.0,236.61 528.5,236.62 529.0,236.63 529.5,236.64 530.0,236.65 530.5,236.67 531.0,236.68 531.5,236.69 532.0,236.70 532.5,236.72 533.0,236.73 533.5,236.74 534.0,236.75 534.5,236.76" fill="none" stroke="#6a2cea" stroke-width="2.4" stroke-linejoin="round"/>
<rect x="377.4" y="28.3" width="157.80000000000007" height="222.29999999999998" fill="none" stroke="#262626" stroke-width="1.15"/>
<line x1="399.90" y1="250.6" x2="399.90" y2="248.0" stroke="#1a1a1a" stroke-width="1.1"/>
<line x1="422.40" y1="250.6" x2="422.40" y2="246.4" stroke="#1a1a1a" stroke-width="1.1"/>
<line x1="444.90" y1="250.6" x2="444.90" y2="248.0" stroke="#1a1a1a" stroke-width="1.1"/>
<line x1="467.40" y1="250.6" x2="467.40" y2="246.4" stroke="#1a1a1a" stroke-width="1.1"/>
<line x1="489.90" y1="250.6" x2="489.90" y2="248.0" stroke="#1a1a1a" stroke-width="1.1"/>
<line x1="512.40" y1="250.6" x2="512.40" y2="246.4" stroke="#1a1a1a" stroke-width="1.1"/>
<text x="373.95" y="265.90" font-size="12.30" font-weight="bold" fill="#000" text-anchor="start" textLength="6.91" lengthAdjust="spacingAndGlyphs">0</text>
<text x="411.15" y="265.90" font-size="12.30" font-weight="bold" fill="#000" text-anchor="start" textLength="22.28" lengthAdjust="spacingAndGlyphs">100</text>
<text x="456.49" y="265.90" font-size="12.30" font-weight="bold" fill="#000" text-anchor="start" textLength="21.93" lengthAdjust="spacingAndGlyphs">200</text>
<text x="501.62" y="265.90" font-size="12.30" font-weight="bold" fill="#000" text-anchor="start" textLength="21.79" lengthAdjust="spacingAndGlyphs">300</text>
<text x="218.27" y="20.00" font-size="14.00" font-weight="bold" fill="#000" text-anchor="start" textLength="18.72" lengthAdjust="spacingAndGlyphs">(b)</text>
<line x1="242.7" y1="9.7" x2="242.7" y2="21" stroke="#1a1a1a" stroke-width="1.5"/>
<line x1="245.5" y1="9.7" x2="245.5" y2="21" stroke="#1a1a1a" stroke-width="1.5"/>
<text x="384.34" y="20.00" font-size="14.00" font-weight="bold" fill="#000" text-anchor="start" textLength="16.19" lengthAdjust="spacingAndGlyphs">(c)</text>
<line x1="409.6" y1="10.3" x2="409.6" y2="19.4" stroke="#222" stroke-width="1.25"/>
<line x1="405.1" y1="19.0" x2="414" y2="19.0" stroke="#222" stroke-width="1.25"/>
<text transform="translate(205.3,186.20) rotate(-90)" x="0" y="0" font-size="11.8" font-weight="bold" textLength="93.87" lengthAdjust="spacingAndGlyphs">Intensity (a.u.)</text>
<text x="229.70" y="289.5" font-size="13.2" font-weight="bold" textLength="123.30" lengthAdjust="spacingAndGlyphs">Raman Shift (cm<tspan font-size="8" dy="-5.2">-1</tspan><tspan dy="5.2">)</tspan></text>
<text x="395.70" y="289.5" font-size="13.2" font-weight="bold" textLength="123.30" lengthAdjust="spacingAndGlyphs">Raman Shift (cm<tspan font-size="8" dy="-5.2">-1</tspan><tspan dy="5.2">)</tspan></text>
<text x="335.61" y="85.50" font-size="12.60" font-weight="bold" fill="#000" text-anchor="start" textLength="30.74" lengthAdjust="spacingAndGlyphs">180°</text>
<text x="501.31" y="91.80" font-size="12.60" font-weight="bold" fill="#000" text-anchor="start" textLength="30.74" lengthAdjust="spacingAndGlyphs">180°</text>
<text x="335.61" y="108.90" font-size="12.60" font-weight="bold" fill="#000" text-anchor="start" textLength="30.74" lengthAdjust="spacingAndGlyphs">150°</text>
<text x="501.31" y="114.30" font-size="12.60" font-weight="bold" fill="#000" text-anchor="start" textLength="30.74" lengthAdjust="spacingAndGlyphs">150°</text>
<text x="335.61" y="132.30" font-size="12.60" font-weight="bold" fill="#000" text-anchor="start" textLength="30.74" lengthAdjust="spacingAndGlyphs">120°</text>
<text x="501.31" y="137.70" font-size="12.60" font-weight="bold" fill="#000" text-anchor="start" textLength="30.74" lengthAdjust="spacingAndGlyphs">120°</text>
<text x="344.29" y="156.00" font-size="12.60" font-weight="bold" fill="#000" text-anchor="start" textLength="22.10" lengthAdjust="spacingAndGlyphs">90°</text>
<text x="509.99" y="162.10" font-size="12.60" font-weight="bold" fill="#000" text-anchor="start" textLength="22.10" lengthAdjust="spacingAndGlyphs">90°</text>
<text x="344.29" y="179.90" font-size="12.60" font-weight="bold" fill="#000" text-anchor="start" textLength="22.10" lengthAdjust="spacingAndGlyphs">60°</text>
<text x="509.99" y="185.40" font-size="12.60" font-weight="bold" fill="#000" text-anchor="start" textLength="22.10" lengthAdjust="spacingAndGlyphs">60°</text>
<text x="344.44" y="204.00" font-size="12.60" font-weight="bold" fill="#000" text-anchor="start" textLength="21.95" lengthAdjust="spacingAndGlyphs">30°</text>
<text x="510.14" y="208.10" font-size="12.60" font-weight="bold" fill="#000" text-anchor="start" textLength="21.95" lengthAdjust="spacingAndGlyphs">30°</text>
<text x="351.16" y="228.00" font-size="12.60" font-weight="bold" fill="#000" text-anchor="start" textLength="15.28" lengthAdjust="spacingAndGlyphs">0°</text>
<text x="516.86" y="232.00" font-size="12.60" font-weight="bold" fill="#000" text-anchor="start" textLength="15.28" lengthAdjust="spacingAndGlyphs">0°</text>
<text x="250.20" y="58.00" font-size="11.2" font-weight="bold">A<tspan font-size="8.0" dy="2.6">g</tspan></text>
<text x="275.10" y="75.40" font-size="11.2" font-weight="bold">B<tspan font-size="8.0" dy="2.6">3g</tspan></text>
<text x="293.00" y="49.60" font-size="11.2" font-weight="bold">A<tspan font-size="8.0" dy="2.6">g</tspan></text>
<text x="306.30" y="78.30" font-size="11.2" font-weight="bold">A<tspan font-size="8.0" dy="2.6">g</tspan></text>
<text x="382.30" y="78.80" font-size="11.2" font-weight="bold">A<tspan font-size="8.0" dy="2.6">g</tspan></text>
<text x="394.30" y="53.90" font-size="11.2" font-weight="bold">B<tspan font-size="8.0" dy="2.6">3g</tspan></text>
<text x="415.80" y="86.20" font-size="11.2" font-weight="bold">A<tspan font-size="8.0" dy="2.6">g</tspan></text>
<text x="445.00" y="56.20" font-size="11.2" font-weight="bold">B<tspan font-size="8.0" dy="2.6">3g</tspan></text>
<text x="457.50" y="86.70" font-size="11.2" font-weight="bold">A<tspan font-size="8.0" dy="2.6">g</tspan></text>
<text x="471.40" y="86.70" font-size="11.2" font-weight="bold">A<tspan font-size="8.0" dy="2.6">g</tspan></text>
<circle cx="615.4" cy="66.2" r="31.00" fill="none" stroke="#8fa2a8" stroke-width="0.9"/>
<circle cx="615.4" cy="66.2" r="36.30" fill="none" stroke="#8fa2a8" stroke-width="0.9"/>
<circle cx="615.4" cy="66.2" r="41.60" fill="none" stroke="#8fa2a8" stroke-width="0.9"/>
<circle cx="615.4" cy="66.2" r="46.90" fill="none" stroke="#8fa2a8" stroke-width="0.9"/>
<circle cx="615.4" cy="66.2" r="51.40" fill="none" stroke="#8fa2a8" stroke-width="0.9"/>
<line x1="643.80" y1="66.20" x2="669.80" y2="66.20" stroke="#8fa2a8" stroke-width="0.9"/>
<line x1="640.00" y1="52.00" x2="662.51" y2="39.00" stroke="#8fa2a8" stroke-width="0.9"/>
<line x1="629.60" y1="41.60" x2="642.60" y2="19.09" stroke="#8fa2a8" stroke-width="0.9"/>
<line x1="615.40" y1="37.80" x2="615.40" y2="11.80" stroke="#8fa2a8" stroke-width="0.9"/>
<line x1="601.20" y1="41.60" x2="588.20" y2="19.09" stroke="#8fa2a8" stroke-width="0.9"/>
<line x1="590.80" y1="52.00" x2="568.29" y2="39.00" stroke="#8fa2a8" stroke-width="0.9"/>
<line x1="587.00" y1="66.20" x2="561.00" y2="66.20" stroke="#8fa2a8" stroke-width="0.9"/>
<line x1="590.80" y1="80.40" x2="568.29" y2="93.40" stroke="#8fa2a8" stroke-width="0.9"/>
<line x1="601.20" y1="90.80" x2="588.20" y2="113.31" stroke="#8fa2a8" stroke-width="0.9"/>
<line x1="615.40" y1="94.60" x2="615.40" y2="120.60" stroke="#8fa2a8" stroke-width="0.9"/>
<line x1="629.60" y1="90.80" x2="642.60" y2="113.31" stroke="#8fa2a8" stroke-width="0.9"/>
<line x1="640.00" y1="80.40" x2="662.51" y2="93.40" stroke="#8fa2a8" stroke-width="0.9"/>
<circle cx="615.4" cy="66.2" r="54.4" fill="none" stroke="#262626" stroke-width="1.25"/>
<line x1="667.60" y1="66.20" x2="669.80" y2="66.20" stroke="#262626" stroke-width="1.3"/>
<line x1="660.61" y1="40.10" x2="662.51" y2="39.00" stroke="#262626" stroke-width="1.3"/>
<line x1="641.50" y1="20.99" x2="642.60" y2="19.09" stroke="#262626" stroke-width="1.3"/>
<line x1="615.40" y1="14.00" x2="615.40" y2="11.80" stroke="#262626" stroke-width="1.3"/>
<line x1="589.30" y1="20.99" x2="588.20" y2="19.09" stroke="#262626" stroke-width="1.3"/>
<line x1="570.19" y1="40.10" x2="568.29" y2="39.00" stroke="#262626" stroke-width="1.3"/>
<line x1="563.20" y1="66.20" x2="561.00" y2="66.20" stroke="#262626" stroke-width="1.3"/>
<line x1="570.19" y1="92.30" x2="568.29" y2="93.40" stroke="#262626" stroke-width="1.3"/>
<line x1="589.30" y1="111.41" x2="588.20" y2="113.31" stroke="#262626" stroke-width="1.3"/>
<line x1="615.40" y1="118.40" x2="615.40" y2="120.60" stroke="#262626" stroke-width="1.3"/>
<line x1="641.50" y1="111.41" x2="642.60" y2="113.31" stroke="#262626" stroke-width="1.3"/>
<line x1="660.61" y1="92.30" x2="662.51" y2="93.40" stroke="#262626" stroke-width="1.3"/>
<text x="672.71" y="69.00" font-size="7.30" font-weight="bold" fill="#000" text-anchor="start" textLength="3.98" lengthAdjust="spacingAndGlyphs">0</text>
<text x="665.00" y="36.05" font-size="7.30" font-weight="bold" fill="#000" text-anchor="start" textLength="8.73" lengthAdjust="spacingAndGlyphs">30</text>
<text x="643.92" y="15.35" font-size="7.30" font-weight="bold" fill="#000" text-anchor="start" textLength="8.81" lengthAdjust="spacingAndGlyphs">60</text>
<text x="610.77" y="8.00" font-size="7.30" font-weight="bold" fill="#000" text-anchor="start" textLength="8.81" lengthAdjust="spacingAndGlyphs">90</text>
<text x="574.28" y="15.50" font-size="7.30" font-weight="bold" fill="#000" text-anchor="start" textLength="13.11" lengthAdjust="spacingAndGlyphs">120</text>
<text x="552.73" y="36.35" font-size="7.30" font-weight="bold" fill="#000" text-anchor="start" textLength="13.11" lengthAdjust="spacingAndGlyphs">150</text>
<text x="545.03" y="69.00" font-size="7.30" font-weight="bold" fill="#000" text-anchor="start" textLength="13.11" lengthAdjust="spacingAndGlyphs">180</text>
<text x="552.88" y="101.55" font-size="7.30" font-weight="bold" fill="#000" text-anchor="start" textLength="12.91" lengthAdjust="spacingAndGlyphs">210</text>
<text x="573.83" y="122.65" font-size="7.30" font-weight="bold" fill="#000" text-anchor="start" textLength="12.91" lengthAdjust="spacingAndGlyphs">240</text>
<text x="609.13" y="130.65" font-size="7.30" font-weight="bold" fill="#000" text-anchor="start" textLength="12.91" lengthAdjust="spacingAndGlyphs">270</text>
<text x="644.11" y="122.65" font-size="7.30" font-weight="bold" fill="#000" text-anchor="start" textLength="12.83" lengthAdjust="spacingAndGlyphs">300</text>
<text x="665.16" y="101.55" font-size="7.30" font-weight="bold" fill="#000" text-anchor="start" textLength="12.83" lengthAdjust="spacingAndGlyphs">330</text>
<path d="M666.59,63.03 L667.47,65.11 L669.73,65.31 L668.02,66.79 L668.53,69.00 L666.59,67.83 L664.65,69.00 L665.16,66.79 L663.45,65.31 L665.71,65.11 Z M665.04,56.56 L665.92,58.65 L668.18,58.84 L666.47,60.33 L666.98,62.53 L665.04,61.36 L663.10,62.53 L663.62,60.33 L661.90,58.84 L664.16,58.65 Z M663.37,52.68 L664.25,54.77 L666.51,54.96 L664.79,56.45 L665.31,58.65 L663.37,57.48 L661.43,58.65 L661.94,56.45 L660.23,54.96 L662.49,54.77 Z M660.11,49.19 L660.99,51.27 L663.25,51.47 L661.54,52.95 L662.05,55.15 L660.11,53.99 L658.17,55.15 L658.68,52.95 L656.97,51.47 L659.23,51.27 Z M655.55,44.69 L656.44,46.78 L658.69,46.97 L656.98,48.46 L657.49,50.66 L655.55,49.49 L653.61,50.66 L654.13,48.46 L652.41,46.97 L654.67,46.78 Z M650.73,43.49 L651.61,45.58 L653.87,45.77 L652.16,47.25 L652.67,49.46 L650.73,48.29 L648.79,49.46 L649.31,47.25 L647.59,45.77 L649.85,45.58 Z M647.59,40.55 L648.48,42.63 L650.73,42.83 L649.02,44.31 L649.53,46.52 L647.59,45.35 L645.65,46.52 L646.17,44.31 L644.46,42.83 L646.71,42.63 Z M640.54,39.80 L641.42,41.89 L643.68,42.08 L641.97,43.56 L642.48,45.77 L640.54,44.60 L638.60,45.77 L639.11,43.56 L637.40,42.08 L639.66,41.89 Z M638.84,35.50 L639.72,37.59 L641.98,37.78 L640.27,39.27 L640.78,41.47 L638.84,40.30 L636.90,41.47 L637.42,39.27 L635.70,37.78 L637.96,37.59 Z M635.72,34.46 L636.60,36.55 L638.85,36.74 L637.14,38.22 L637.66,40.43 L635.72,39.26 L633.78,40.43 L634.29,38.22 L632.58,36.74 L634.83,36.55 Z M632.68,34.17 L633.56,36.25 L635.82,36.45 L634.11,37.93 L634.62,40.14 L632.68,38.97 L630.74,40.14 L631.26,37.93 L629.54,36.45 L631.80,36.25 Z M629.64,30.78 L630.52,32.87 L632.78,33.06 L631.07,34.55 L631.58,36.75 L629.64,35.58 L627.70,36.75 L628.22,34.55 L626.50,33.06 L628.76,32.87 Z M627.40,27.92 L628.28,30.01 L630.53,30.20 L628.82,31.68 L629.34,33.89 L627.40,32.72 L625.46,33.89 L625.97,31.68 L624.26,30.20 L626.51,30.01 Z M624.45,24.93 L625.33,27.02 L627.59,27.21 L625.88,28.69 L626.39,30.90 L624.45,29.73 L622.51,30.90 L623.03,28.69 L621.31,27.21 L623.57,27.02 Z M619.87,21.62 L620.75,23.71 L623.01,23.90 L621.30,25.39 L621.81,27.59 L619.87,26.42 L617.93,27.59 L618.44,25.39 L616.73,23.90 L618.99,23.71 Z M615.36,21.65 L616.24,23.74 L618.50,23.93 L616.79,25.41 L617.30,27.62 L615.36,26.45 L613.42,27.62 L613.93,25.41 L612.22,23.93 L614.48,23.74 Z M611.12,22.16 L612.00,24.25 L614.26,24.44 L612.55,25.92 L613.06,28.13 L611.12,26.96 L609.18,28.13 L609.69,25.92 L607.98,24.44 L610.24,24.25 Z M607.42,24.96 L608.31,27.04 L610.56,27.24 L608.85,28.72 L609.36,30.93 L607.42,29.76 L605.48,30.93 L606.00,28.72 L604.29,27.24 L606.54,27.04 Z M602.30,25.90 L603.19,27.99 L605.44,28.18 L603.73,29.67 L604.24,31.87 L602.30,30.70 L600.36,31.87 L600.88,29.67 L599.17,28.18 L601.42,27.99 Z M599.77,29.42 L600.66,31.51 L602.91,31.70 L601.20,33.19 L601.71,35.39 L599.77,34.22 L597.83,35.39 L598.35,33.19 L596.64,31.70 L598.89,31.51 Z M598.45,32.87 L599.33,34.96 L601.59,35.15 L599.87,36.64 L600.39,38.84 L598.45,37.67 L596.51,38.84 L597.02,36.64 L595.31,35.15 L597.57,34.96 Z M596.17,35.81 L597.05,37.90 L599.31,38.09 L597.60,39.58 L598.11,41.78 L596.17,40.61 L594.23,41.78 L594.75,39.58 L593.03,38.09 L595.29,37.90 Z M591.99,37.62 L592.87,39.71 L595.13,39.90 L593.42,41.38 L593.93,43.59 L591.99,42.42 L590.05,43.59 L590.56,41.38 L588.85,39.90 L591.11,39.71 Z M588.47,39.52 L589.35,41.61 L591.60,41.80 L589.89,43.28 L590.41,45.49 L588.47,44.32 L586.53,45.49 L587.04,43.28 L585.33,41.80 L587.58,41.61 Z M583.00,40.53 L583.88,42.61 L586.14,42.81 L584.43,44.29 L584.94,46.50 L583.00,45.33 L581.06,46.50 L581.57,44.29 L579.86,42.81 L582.12,42.61 Z M582.39,42.67 L583.27,44.76 L585.53,44.95 L583.82,46.44 L584.33,48.64 L582.39,47.47 L580.45,48.64 L580.96,46.44 L579.25,44.95 L581.51,44.76 Z M574.94,45.92 L575.83,48.01 L578.08,48.20 L576.37,49.68 L576.88,51.89 L574.94,50.72 L573.00,51.89 L573.52,49.68 L571.81,48.20 L574.06,48.01 Z M570.71,49.61 L571.60,51.70 L573.85,51.89 L572.14,53.38 L572.65,55.58 L570.71,54.41 L568.77,55.58 L569.29,53.38 L567.58,51.89 L569.83,51.70 Z M567.99,51.71 L568.87,53.80 L571.12,53.99 L569.41,55.47 L569.93,57.68 L567.99,56.51 L566.05,57.68 L566.56,55.47 L564.85,53.99 L567.10,53.80 Z M565.77,58.41 L566.65,60.50 L568.91,60.69 L567.20,62.18 L567.71,64.38 L565.77,63.21 L563.83,64.38 L564.34,62.18 L562.63,60.69 L564.89,60.50 Z M564.97,61.81 L565.85,63.90 L568.11,64.09 L566.40,65.57 L566.91,67.78 L564.97,66.61 L563.03,67.78 L563.55,65.57 L561.83,64.09 L564.09,63.90 Z M564.87,69.46 L565.75,71.54 L568.01,71.74 L566.30,73.22 L566.81,75.43 L564.87,74.26 L562.93,75.43 L563.44,73.22 L561.73,71.74 L563.99,71.54 Z M567.92,72.00 L568.80,74.09 L571.05,74.28 L569.34,75.77 L569.86,77.97 L567.92,76.80 L565.98,77.97 L566.49,75.77 L564.78,74.28 L567.03,74.09 Z M571.91,76.03 L572.79,78.12 L575.05,78.31 L573.34,79.80 L573.85,82.00 L571.91,80.83 L569.97,82.00 L570.48,79.80 L568.77,78.31 L571.03,78.12 Z M577.42,80.52 L578.31,82.61 L580.56,82.80 L578.85,84.28 L579.36,86.49 L577.42,85.32 L575.48,86.49 L576.00,84.28 L574.29,82.80 L576.54,82.61 Z M580.74,83.06 L581.62,85.14 L583.88,85.34 L582.16,86.82 L582.68,89.03 L580.74,87.86 L578.80,89.03 L579.31,86.82 L577.60,85.34 L579.86,85.14 Z M583.63,85.21 L584.51,87.29 L586.77,87.49 L585.05,88.97 L585.57,91.18 L583.63,90.01 L581.69,91.18 L582.20,88.97 L580.49,87.49 L582.75,87.29 Z M587.80,86.80 L588.68,88.89 L590.94,89.08 L589.23,90.56 L589.74,92.77 L587.80,91.60 L585.86,92.77 L586.37,90.56 L584.66,89.08 L586.92,88.89 Z M591.76,88.12 L592.64,90.20 L594.90,90.40 L593.19,91.88 L593.70,94.09 L591.76,92.92 L589.82,94.09 L590.34,91.88 L588.62,90.40 L590.88,90.20 Z M595.13,89.93 L596.02,92.02 L598.27,92.21 L596.56,93.69 L597.07,95.90 L595.13,94.73 L593.19,95.90 L593.71,93.69 L592.00,92.21 L594.25,92.02 Z M597.94,94.93 L598.83,97.02 L601.08,97.21 L599.37,98.70 L599.88,100.90 L597.94,99.73 L596.00,100.90 L596.52,98.70 L594.81,97.21 L597.06,97.02 Z M599.75,97.10 L600.63,99.19 L602.89,99.38 L601.18,100.87 L601.69,103.07 L599.75,101.90 L597.81,103.07 L598.32,100.87 L596.61,99.38 L598.87,99.19 Z M603.28,98.37 L604.16,100.46 L606.42,100.65 L604.71,102.13 L605.22,104.34 L603.28,103.17 L601.34,104.34 L601.85,102.13 L600.14,100.65 L602.40,100.46 Z M607.79,102.29 L608.67,104.38 L610.93,104.57 L609.21,106.06 L609.73,108.26 L607.79,107.09 L605.85,108.26 L606.36,106.06 L604.65,104.57 L606.91,104.38 Z M610.15,104.43 L611.04,106.51 L613.29,106.71 L611.58,108.19 L612.09,110.40 L610.15,109.23 L608.21,110.40 L608.73,108.19 L607.02,106.71 L609.27,106.51 Z M614.80,102.91 L615.68,105.00 L617.94,105.19 L616.23,106.68 L616.74,108.88 L614.80,107.71 L612.86,108.88 L613.37,106.68 L611.66,105.19 L613.92,105.00 Z M620.12,102.41 L621.01,104.50 L623.26,104.69 L621.55,106.18 L622.06,108.38 L620.12,107.21 L618.18,108.38 L618.70,106.18 L616.99,104.69 L619.24,104.50 Z M622.95,100.36 L623.83,102.45 L626.08,102.64 L624.37,104.12 L624.89,106.33 L622.95,105.16 L621.01,106.33 L621.52,104.12 L619.81,102.64 L622.06,102.45 Z M626.54,99.87 L627.42,101.96 L629.68,102.15 L627.97,103.64 L628.48,105.84 L626.54,104.67 L624.60,105.84 L625.12,103.64 L623.40,102.15 L625.66,101.96 Z M630.01,96.93 L630.89,99.02 L633.15,99.21 L631.43,100.70 L631.95,102.90 L630.01,101.73 L628.07,102.90 L628.58,100.70 L626.87,99.21 L629.13,99.02 Z M632.78,93.47 L633.66,95.56 L635.92,95.75 L634.21,97.24 L634.72,99.44 L632.78,98.27 L630.84,99.44 L631.35,97.24 L629.64,95.75 L631.90,95.56 Z M636.32,90.28 L637.20,92.37 L639.45,92.56 L637.74,94.04 L638.26,96.25 L636.32,95.08 L634.38,96.25 L634.89,94.04 L633.18,92.56 L635.43,92.37 Z M639.51,89.47 L640.39,91.56 L642.65,91.75 L640.94,93.23 L641.45,95.44 L639.51,94.27 L637.57,95.44 L638.09,93.23 L636.37,91.75 L638.63,91.56 Z M640.59,86.35 L641.47,88.43 L643.73,88.63 L642.01,90.11 L642.53,92.32 L640.59,91.15 L638.65,92.32 L639.16,90.11 L637.45,88.63 L639.71,88.43 Z M647.61,85.27 L648.49,87.35 L650.75,87.55 L649.04,89.03 L649.55,91.24 L647.61,90.07 L645.67,91.24 L646.19,89.03 L644.47,87.55 L646.73,87.35 Z M648.92,82.84 L649.80,84.93 L652.05,85.12 L650.34,86.60 L650.86,88.81 L648.92,87.64 L646.98,88.81 L647.49,86.60 L645.78,85.12 L648.03,84.93 Z M656.85,80.73 L657.73,82.82 L659.99,83.01 L658.27,84.50 L658.79,86.70 L656.85,85.53 L654.91,86.70 L655.42,84.50 L653.71,83.01 L655.97,82.82 Z M660.15,78.23 L661.04,80.32 L663.29,80.51 L661.58,82.00 L662.09,84.20 L660.15,83.03 L658.22,84.20 L658.73,82.00 L657.02,80.51 L659.27,80.32 Z M664.01,72.22 L664.89,74.31 L667.15,74.50 L665.43,75.98 L665.95,78.19 L664.01,77.02 L662.07,78.19 L662.58,75.98 L660.87,74.50 L663.13,74.31 Z M664.22,68.23 L665.10,70.32 L667.36,70.51 L665.64,72.00 L666.16,74.20 L664.22,73.03 L662.28,74.20 L662.79,72.00 L661.08,70.51 L663.34,70.32 Z" fill="none" stroke="#2c2ce6" stroke-width="1.25" stroke-linejoin="miter"/>
<polyline points="665.20,66.20 665.19,65.77 665.18,65.33 665.15,64.90 665.10,64.46 665.05,64.03 664.99,63.60 664.91,63.17 664.82,62.74 664.72,62.32 664.61,61.89 664.49,61.47 664.35,61.05 664.21,60.64 664.05,60.23 663.88,59.82 663.71,59.41 663.52,59.01 663.32,58.61 663.11,58.22 662.90,57.83 662.67,57.44 662.43,57.06 662.19,56.68 661.93,56.31 661.67,55.94 661.40,55.58 661.12,55.22 660.83,54.87 660.54,54.53 660.24,54.19 659.93,53.85 659.61,53.52 659.29,53.20 658.96,52.88 658.63,52.57 658.29,52.26 657.94,51.97 657.59,51.67 657.24,51.38 656.88,51.10 656.52,50.83 656.15,50.56 655.79,50.29 655.41,50.03 655.04,49.78 654.66,49.53 654.28,49.29 653.90,49.06 653.52,48.83 653.14,48.60 652.76,48.38 652.37,48.17 651.99,47.96 651.60,47.75 651.22,47.56 650.83,47.36 650.45,47.17 650.07,46.98 649.68,46.80 649.30,46.63 648.93,46.45 648.55,46.28 648.18,46.11 647.80,45.95 647.44,45.79 647.07,45.63 646.71,45.48 646.34,45.33 645.99,45.18 645.63,45.03 645.28,44.89 644.94,44.74 644.59,44.60 644.25,44.46 643.92,44.32 643.58,44.18 643.26,44.04 642.93,43.90 642.61,43.77 642.30,43.63 641.99,43.49 641.68,43.36 641.38,43.22 641.08,43.08 640.78,42.94 640.49,42.80 640.21,42.66 639.92,42.52 639.65,42.37 639.37,42.23 639.10,42.08 638.83,41.93 638.57,41.78 638.31,41.63 638.06,41.47 637.81,41.32 637.56,41.16 637.31,40.99 637.07,40.83 636.83,40.66 636.59,40.49 636.36,40.32 636.13,40.14 635.90,39.96 635.67,39.78 635.45,39.59 635.23,39.41 635.01,39.21 634.79,39.02 634.57,38.82 634.35,38.63 634.14,38.42 633.92,38.22 633.71,38.01 633.49,37.80 633.28,37.59 633.07,37.37 632.85,37.15 632.64,36.93 632.42,36.71 632.21,36.49 632.00,36.26 631.78,36.03 631.56,35.80 631.34,35.57 631.12,35.34 630.90,35.11 630.68,34.87 630.45,34.64 630.23,34.40 630.00,34.17 629.77,33.93 629.53,33.69 629.30,33.46 629.06,33.22 628.82,32.99 628.57,32.75 628.33,32.52 628.08,32.29 627.83,32.06 627.57,31.83 627.31,31.61 627.05,31.38 626.79,31.16 626.52,30.94 626.25,30.73 625.97,30.51 625.69,30.30 625.41,30.10 625.13,29.90 624.84,29.70 624.55,29.51 624.25,29.32 623.96,29.13 623.66,28.96 623.35,28.78 623.05,28.61 622.74,28.45 622.43,28.29 622.11,28.14 621.79,28.00 621.47,27.86 621.15,27.73 620.82,27.60 620.50,27.48 620.17,27.37 619.84,27.27 619.50,27.17 619.17,27.08 618.83,27.00 618.49,26.92 618.15,26.86 617.81,26.80 617.47,26.74 617.12,26.70 616.78,26.66 616.44,26.64 616.09,26.62 615.75,26.60 615.40,26.60 615.05,26.60 614.71,26.62 614.36,26.64 614.02,26.66 613.68,26.70 613.33,26.74 612.99,26.80 612.65,26.86 612.31,26.92 611.97,27.00 611.63,27.08 611.30,27.17 610.96,27.27 610.63,27.37 610.30,27.48 609.98,27.60 609.65,27.73 609.33,27.86 609.01,28.00 608.69,28.14 608.37,28.29 608.06,28.45 607.75,28.61 607.45,28.78 607.14,28.96 606.84,29.13 606.55,29.32 606.25,29.51 605.96,29.70 605.67,29.90 605.39,30.10 605.11,30.30 604.83,30.51 604.55,30.73 604.28,30.94 604.01,31.16 603.75,31.38 603.49,31.61 603.23,31.83 602.97,32.06 602.72,32.29 602.47,32.52 602.23,32.75 601.98,32.99 601.74,33.22 601.50,33.46 601.27,33.69 601.03,33.93 600.80,34.17 600.57,34.40 600.35,34.64 600.12,34.87 599.90,35.11 599.68,35.34 599.46,35.57 599.24,35.80 599.02,36.03 598.80,36.26 598.59,36.49 598.38,36.71 598.16,36.93 597.95,37.15 597.73,37.37 597.52,37.59 597.31,37.80 597.09,38.01 596.88,38.22 596.66,38.42 596.45,38.63 596.23,38.82 596.01,39.02 595.79,39.21 595.57,39.41 595.35,39.59 595.13,39.78 594.90,39.96 594.67,40.14 594.44,40.32 594.21,40.49 593.97,40.66 593.73,40.83 593.49,40.99 593.24,41.16 592.99,41.32 592.74,41.47 592.49,41.63 592.23,41.78 591.97,41.93 591.70,42.08 591.43,42.23 591.15,42.37 590.88,42.52 590.59,42.66 590.31,42.80 590.02,42.94 589.72,43.08 589.42,43.22 589.12,43.36 588.81,43.49 588.50,43.63 588.19,43.77 587.87,43.90 587.54,44.04 587.22,44.18 586.88,44.32 586.55,44.46 586.21,44.60 585.86,44.74 585.52,44.89 585.17,45.03 584.81,45.18 584.46,45.33 584.09,45.48 583.73,45.63 583.36,45.79 583.00,45.95 582.62,46.11 582.25,46.28 581.87,46.45 581.50,46.63 581.12,46.80 580.73,46.98 580.35,47.17 579.97,47.36 579.58,47.56 579.20,47.75 578.81,47.96 578.43,48.17 578.04,48.38 577.66,48.60 577.28,48.83 576.90,49.06 576.52,49.29 576.14,49.53 575.76,49.78 575.39,50.03 575.01,50.29 574.65,50.56 574.28,50.83 573.92,51.10 573.56,51.38 573.21,51.67 572.86,51.97 572.51,52.26 572.17,52.57 571.84,52.88 571.51,53.20 571.19,53.52 570.87,53.85 570.56,54.19 570.26,54.53 569.97,54.87 569.68,55.22 569.40,55.58 569.13,55.94 568.87,56.31 568.61,56.68 568.37,57.06 568.13,57.44 567.90,57.83 567.69,58.22 567.48,58.61 567.28,59.01 567.09,59.41 566.92,59.82 566.75,60.23 566.59,60.64 566.45,61.05 566.31,61.47 566.19,61.89 566.08,62.32 565.98,62.74 565.89,63.17 565.81,63.60 565.75,64.03 565.70,64.46 565.65,64.90 565.62,65.33 565.61,65.77 565.60,66.20 565.61,66.63 565.62,67.07 565.65,67.50 565.70,67.94 565.75,68.37 565.81,68.80 565.89,69.23 565.98,69.66 566.08,70.08 566.19,70.51 566.31,70.93 566.45,71.35 566.59,71.76 566.75,72.17 566.92,72.58 567.09,72.99 567.28,73.39 567.48,73.79 567.69,74.18 567.90,74.57 568.13,74.96 568.37,75.34 568.61,75.72 568.87,76.09 569.13,76.46 569.40,76.82 569.68,77.18 569.97,77.53 570.26,77.87 570.56,78.21 570.87,78.55 571.19,78.88 571.51,79.20 571.84,79.52 572.17,79.83 572.51,80.14 572.86,80.43 573.21,80.73 573.56,81.02 573.92,81.30 574.28,81.57 574.65,81.84 575.01,82.11 575.39,82.37 575.76,82.62 576.14,82.87 576.52,83.11 576.90,83.34 577.28,83.57 577.66,83.80 578.04,84.02 578.43,84.23 578.81,84.44 579.20,84.65 579.58,84.84 579.97,85.04 580.35,85.23 580.73,85.42 581.12,85.60 581.50,85.78 581.87,85.95 582.25,86.12 582.62,86.29 583.00,86.45 583.36,86.61 583.73,86.77 584.09,86.92 584.46,87.07 584.81,87.22 585.17,87.37 585.52,87.51 585.86,87.66 586.21,87.80 586.55,87.94 586.88,88.08 587.22,88.22 587.54,88.36 587.87,88.50 588.19,88.63 588.50,88.77 588.81,88.91 589.12,89.04 589.42,89.18 589.72,89.32 590.02,89.46 590.31,89.60 590.59,89.74 590.88,89.88 591.15,90.03 591.43,90.17 591.70,90.32 591.97,90.47 592.23,90.62 592.49,90.77 592.74,90.93 592.99,91.08 593.24,91.24 593.49,91.41 593.73,91.57 593.97,91.74 594.21,91.91 594.44,92.08 594.67,92.26 594.90,92.44 595.13,92.62 595.35,92.81 595.57,92.99 595.79,93.19 596.01,93.38 596.23,93.58 596.45,93.77 596.66,93.98 596.88,94.18 597.09,94.39 597.31,94.60 597.52,94.81 597.73,95.03 597.95,95.25 598.16,95.47 598.38,95.69 598.59,95.91 598.80,96.14 599.02,96.37 599.24,96.60 599.46,96.83 599.68,97.06 599.90,97.29 600.12,97.53 600.35,97.76 600.57,98.00 600.80,98.23 601.03,98.47 601.27,98.71 601.50,98.94 601.74,99.18 601.98,99.41 602.23,99.65 602.47,99.88 602.72,100.11 602.97,100.34 603.23,100.57 603.49,100.79 603.75,101.02 604.01,101.24 604.28,101.46 604.55,101.67 604.83,101.89 605.11,102.10 605.39,102.30 605.67,102.50 605.96,102.70 606.25,102.89 606.55,103.08 606.84,103.27 607.14,103.44 607.45,103.62 607.75,103.79 608.06,103.95 608.37,104.11 608.69,104.26 609.01,104.40 609.33,104.54 609.65,104.67 609.98,104.80 610.30,104.92 610.63,105.03 610.96,105.13 611.30,105.23 611.63,105.32 611.97,105.40 612.31,105.48 612.65,105.54 612.99,105.60 613.33,105.66 613.68,105.70 614.02,105.74 614.36,105.76 614.71,105.78 615.05,105.80 615.40,105.80 615.75,105.80 616.09,105.78 616.44,105.76 616.78,105.74 617.12,105.70 617.47,105.66 617.81,105.60 618.15,105.54 618.49,105.48 618.83,105.40 619.17,105.32 619.50,105.23 619.84,105.13 620.17,105.03 620.50,104.92 620.82,104.80 621.15,104.67 621.47,104.54 621.79,104.40 622.11,104.26 622.43,104.11 622.74,103.95 623.05,103.79 623.35,103.62 623.66,103.44 623.96,103.27 624.25,103.08 624.55,102.89 624.84,102.70 625.13,102.50 625.41,102.30 625.69,102.10 625.97,101.89 626.25,101.67 626.52,101.46 626.79,101.24 627.05,101.02 627.31,100.79 627.57,100.57 627.83,100.34 628.08,100.11 628.33,99.88 628.57,99.65 628.82,99.41 629.06,99.18 629.30,98.94 629.53,98.71 629.77,98.47 630.00,98.23 630.23,98.00 630.45,97.76 630.68,97.53 630.90,97.29 631.12,97.06 631.34,96.83 631.56,96.60 631.78,96.37 632.00,96.14 632.21,95.91 632.42,95.69 632.64,95.47 632.85,95.25 633.07,95.03 633.28,94.81 633.49,94.60 633.71,94.39 633.92,94.18 634.14,93.98 634.35,93.77 634.57,93.58 634.79,93.38 635.01,93.19 635.23,92.99 635.45,92.81 635.67,92.62 635.90,92.44 636.13,92.26 636.36,92.08 636.59,91.91 636.83,91.74 637.07,91.57 637.31,91.41 637.56,91.24 637.81,91.08 638.06,90.93 638.31,90.77 638.57,90.62 638.83,90.47 639.10,90.32 639.37,90.17 639.65,90.03 639.92,89.88 640.21,89.74 640.49,89.60 640.78,89.46 641.08,89.32 641.38,89.18 641.68,89.04 641.99,88.91 642.30,88.77 642.61,88.63 642.93,88.50 643.26,88.36 643.58,88.22 643.92,88.08 644.25,87.94 644.59,87.80 644.94,87.66 645.28,87.51 645.63,87.37 645.99,87.22 646.34,87.07 646.71,86.92 647.07,86.77 647.44,86.61 647.80,86.45 648.18,86.29 648.55,86.12 648.93,85.95 649.30,85.78 649.68,85.60 650.07,85.42 650.45,85.23 650.83,85.04 651.22,84.84 651.60,84.65 651.99,84.44 652.37,84.23 652.76,84.02 653.14,83.80 653.52,83.57 653.90,83.34 654.28,83.11 654.66,82.87 655.04,82.62 655.41,82.37 655.79,82.11 656.15,81.84 656.52,81.57 656.88,81.30 657.24,81.02 657.59,80.73 657.94,80.43 658.29,80.14 658.63,79.83 658.96,79.52 659.29,79.20 659.61,78.88 659.93,78.55 660.24,78.21 660.54,77.87 660.83,77.53 661.12,77.18 661.40,76.82 661.67,76.46 661.93,76.09 662.19,75.72 662.43,75.34 662.67,74.96 662.90,74.57 663.11,74.18 663.32,73.79 663.52,73.39 663.71,72.99 663.88,72.58 664.05,72.17 664.21,71.76 664.35,71.35 664.49,70.93 664.61,70.51 664.72,70.08 664.82,69.66 664.91,69.23 664.99,68.80 665.05,68.37 665.10,67.94 665.15,67.50 665.18,67.07 665.19,66.63 665.20,66.20" fill="none" stroke="#ee1c24" stroke-width="2.1" stroke-linejoin="round"/>
<circle cx="752.7" cy="65.7" r="10.80" fill="none" stroke="#8fa2a8" stroke-width="0.9"/>
<circle cx="752.7" cy="65.7" r="21.60" fill="none" stroke="#8fa2a8" stroke-width="0.9"/>
<circle cx="752.7" cy="65.7" r="32.40" fill="none" stroke="#8fa2a8" stroke-width="0.9"/>
<circle cx="752.7" cy="65.7" r="43.20" fill="none" stroke="#8fa2a8" stroke-width="0.9"/>
<line x1="752.70" y1="65.70" x2="806.70" y2="65.70" stroke="#8fa2a8" stroke-width="0.9"/>
<line x1="752.70" y1="65.70" x2="799.47" y2="38.70" stroke="#8fa2a8" stroke-width="0.9"/>
<line x1="752.70" y1="65.70" x2="779.70" y2="18.93" stroke="#8fa2a8" stroke-width="0.9"/>
<line x1="752.70" y1="65.70" x2="752.70" y2="11.70" stroke="#8fa2a8" stroke-width="0.9"/>
<line x1="752.70" y1="65.70" x2="725.70" y2="18.93" stroke="#8fa2a8" stroke-width="0.9"/>
<line x1="752.70" y1="65.70" x2="705.93" y2="38.70" stroke="#8fa2a8" stroke-width="0.9"/>
<line x1="752.70" y1="65.70" x2="698.70" y2="65.70" stroke="#8fa2a8" stroke-width="0.9"/>
<line x1="752.70" y1="65.70" x2="705.93" y2="92.70" stroke="#8fa2a8" stroke-width="0.9"/>
<line x1="752.70" y1="65.70" x2="725.70" y2="112.47" stroke="#8fa2a8" stroke-width="0.9"/>
<line x1="752.70" y1="65.70" x2="752.70" y2="119.70" stroke="#8fa2a8" stroke-width="0.9"/>
<line x1="752.70" y1="65.70" x2="779.70" y2="112.47" stroke="#8fa2a8" stroke-width="0.9"/>
<line x1="752.70" y1="65.70" x2="799.47" y2="92.70" stroke="#8fa2a8" stroke-width="0.9"/>
<circle cx="752.7" cy="65.7" r="54.0" fill="none" stroke="#262626" stroke-width="1.25"/>
<line x1="804.50" y1="65.70" x2="806.70" y2="65.70" stroke="#262626" stroke-width="1.3"/>
<line x1="797.56" y1="39.80" x2="799.47" y2="38.70" stroke="#262626" stroke-width="1.3"/>
<line x1="778.60" y1="20.84" x2="779.70" y2="18.93" stroke="#262626" stroke-width="1.3"/>
<line x1="752.70" y1="13.90" x2="752.70" y2="11.70" stroke="#262626" stroke-width="1.3"/>
<line x1="726.80" y1="20.84" x2="725.70" y2="18.93" stroke="#262626" stroke-width="1.3"/>
<line x1="707.84" y1="39.80" x2="705.93" y2="38.70" stroke="#262626" stroke-width="1.3"/>
<line x1="700.90" y1="65.70" x2="698.70" y2="65.70" stroke="#262626" stroke-width="1.3"/>
<line x1="707.84" y1="91.60" x2="705.93" y2="92.70" stroke="#262626" stroke-width="1.3"/>
<line x1="726.80" y1="110.56" x2="725.70" y2="112.47" stroke="#262626" stroke-width="1.3"/>
<line x1="752.70" y1="117.50" x2="752.70" y2="119.70" stroke="#262626" stroke-width="1.3"/>
<line x1="778.60" y1="110.56" x2="779.70" y2="112.47" stroke="#262626" stroke-width="1.3"/>
<line x1="797.56" y1="91.60" x2="799.47" y2="92.70" stroke="#262626" stroke-width="1.3"/>
<text x="810.01" y="68.50" font-size="7.30" font-weight="bold" fill="#000" text-anchor="start" textLength="3.98" lengthAdjust="spacingAndGlyphs">0</text>
<text x="802.30" y="35.55" font-size="7.30" font-weight="bold" fill="#000" text-anchor="start" textLength="8.73" lengthAdjust="spacingAndGlyphs">30</text>
<text x="781.22" y="14.85" font-size="7.30" font-weight="bold" fill="#000" text-anchor="start" textLength="8.81" lengthAdjust="spacingAndGlyphs">60</text>
<text x="748.07" y="7.50" font-size="7.30" font-weight="bold" fill="#000" text-anchor="start" textLength="8.81" lengthAdjust="spacingAndGlyphs">90</text>
<text x="711.58" y="15.00" font-size="7.30" font-weight="bold" fill="#000" text-anchor="start" textLength="13.11" lengthAdjust="spacingAndGlyphs">120</text>
<text x="690.03" y="35.85" font-size="7.30" font-weight="bold" fill="#000" text-anchor="start" textLength="13.11" lengthAdjust="spacingAndGlyphs">150</text>
<text x="682.33" y="68.50" font-size="7.30" font-weight="bold" fill="#000" text-anchor="start" textLength="13.11" lengthAdjust="spacingAndGlyphs">180</text>
<text x="690.18" y="101.05" font-size="7.30" font-weight="bold" fill="#000" text-anchor="start" textLength="12.91" lengthAdjust="spacingAndGlyphs">210</text>
<text x="711.13" y="122.15" font-size="7.30" font-weight="bold" fill="#000" text-anchor="start" textLength="12.91" lengthAdjust="spacingAndGlyphs">240</text>
<text x="746.43" y="130.15" font-size="7.30" font-weight="bold" fill="#000" text-anchor="start" textLength="12.91" lengthAdjust="spacingAndGlyphs">270</text>
<text x="781.41" y="122.15" font-size="7.30" font-weight="bold" fill="#000" text-anchor="start" textLength="12.83" lengthAdjust="spacingAndGlyphs">300</text>
<text x="802.46" y="101.05" font-size="7.30" font-weight="bold" fill="#000" text-anchor="start" textLength="12.83" lengthAdjust="spacingAndGlyphs">330</text>
<path d="M742.09,37.17 L742.97,39.25 L745.23,39.45 L743.52,40.93 L744.03,43.13 L742.09,41.97 L740.15,43.13 L740.67,40.93 L738.95,39.45 L741.21,39.25 Z M770.00,44.14 L770.88,46.23 L773.14,46.42 L771.43,47.91 L771.94,50.11 L770.00,48.94 L768.06,50.11 L768.57,47.91 L766.86,46.42 L769.12,46.23 Z M767.67,47.63 L768.56,49.72 L770.81,49.91 L769.10,51.39 L769.61,53.60 L767.67,52.43 L765.73,53.60 L766.25,51.39 L764.54,49.91 L766.79,49.72 Z M771.63,48.79 L772.51,50.88 L774.77,51.07 L773.05,52.56 L773.57,54.76 L771.63,53.59 L769.69,54.76 L770.20,52.56 L768.49,51.07 L770.75,50.88 Z M764.19,48.79 L765.07,50.88 L767.32,51.07 L765.61,52.56 L766.13,54.76 L764.19,53.59 L762.25,54.76 L762.76,52.56 L761.05,51.07 L763.30,50.88 Z M768.84,52.28 L769.72,54.37 L771.98,54.56 L770.26,56.04 L770.78,58.25 L768.84,57.08 L766.90,58.25 L767.41,56.04 L765.70,54.56 L767.96,54.37 Z M766.51,55.07 L767.39,57.16 L769.65,57.35 L767.94,58.84 L768.45,61.04 L766.51,59.87 L764.57,61.04 L765.09,58.84 L763.37,57.35 L765.63,57.16 Z M761.86,56.93 L762.74,59.02 L765.00,59.21 L763.29,60.70 L763.80,62.90 L761.86,61.73 L759.92,62.90 L760.43,60.70 L758.72,59.21 L760.98,59.02 Z M758.37,59.26 L759.25,61.34 L761.51,61.54 L759.80,63.02 L760.31,65.23 L758.37,64.06 L756.43,65.23 L756.95,63.02 L755.23,61.54 L757.49,61.34 Z M765.35,59.26 L766.23,61.34 L768.49,61.54 L766.78,63.02 L767.29,65.23 L765.35,64.06 L763.41,65.23 L763.92,63.02 L762.21,61.54 L764.47,61.34 Z M728.14,51.12 L729.02,53.21 L731.28,53.40 L729.57,54.88 L730.08,57.09 L728.14,55.92 L726.20,57.09 L726.71,54.88 L725.00,53.40 L727.26,53.21 Z M737.44,56.93 L738.32,59.02 L740.58,59.21 L738.87,60.70 L739.38,62.90 L737.44,61.73 L735.50,62.90 L736.02,60.70 L734.30,59.21 L736.56,59.02 Z M743.26,59.26 L744.14,61.34 L746.39,61.54 L744.68,63.02 L745.20,65.23 L743.26,64.06 L741.32,65.23 L741.83,63.02 L740.12,61.54 L742.37,61.34 Z M746.74,62.05 L747.63,64.14 L749.88,64.33 L748.17,65.81 L748.68,68.02 L746.74,66.85 L744.80,68.02 L745.32,65.81 L743.61,64.33 L745.86,64.14 Z M747.91,67.40 L748.79,69.48 L751.05,69.68 L749.33,71.16 L749.85,73.37 L747.91,72.20 L745.97,73.37 L746.48,71.16 L744.77,69.68 L747.03,69.48 Z M743.26,69.72 L744.14,71.81 L746.39,72.00 L744.68,73.49 L745.20,75.69 L743.26,74.52 L741.32,75.69 L741.83,73.49 L740.12,72.00 L742.37,71.81 Z M737.44,70.89 L738.32,72.97 L740.58,73.17 L738.87,74.65 L739.38,76.86 L737.44,75.69 L735.50,76.86 L736.02,74.65 L734.30,73.17 L736.56,72.97 Z M733.95,73.21 L734.84,75.30 L737.09,75.49 L735.38,76.98 L735.89,79.18 L733.95,78.01 L732.01,79.18 L732.53,76.98 L730.82,75.49 L733.07,75.30 Z M732.79,76.70 L733.67,78.79 L735.93,78.98 L734.22,80.46 L734.73,82.67 L732.79,81.50 L730.85,82.67 L731.36,80.46 L729.65,78.98 L731.91,78.79 Z M737.44,76.70 L738.32,78.79 L740.58,78.98 L738.87,80.46 L739.38,82.67 L737.44,81.50 L735.50,82.67 L736.02,80.46 L734.30,78.98 L736.56,78.79 Z M742.09,76.70 L742.97,78.79 L745.23,78.98 L743.52,80.46 L744.03,82.67 L742.09,81.50 L740.15,82.67 L740.67,80.46 L738.95,78.98 L741.21,78.79 Z M735.12,81.35 L736.00,83.44 L738.25,83.63 L736.54,85.11 L737.06,87.32 L735.12,86.15 L733.18,87.32 L733.69,85.11 L731.98,83.63 L734.23,83.44 Z M743.26,79.72 L744.14,81.81 L746.39,82.00 L744.68,83.49 L745.20,85.69 L743.26,84.52 L741.32,85.69 L741.83,83.49 L740.12,82.00 L742.37,81.81 Z M756.05,70.89 L756.93,72.97 L759.18,73.17 L757.47,74.65 L757.99,76.86 L756.05,75.69 L754.11,76.86 L754.62,74.65 L752.91,73.17 L755.16,72.97 Z M758.37,76.70 L759.25,78.79 L761.51,78.98 L759.80,80.46 L760.31,82.67 L758.37,81.50 L756.43,82.67 L756.95,80.46 L755.23,78.98 L757.49,78.79 Z M761.86,79.03 L762.74,81.11 L765.00,81.31 L763.29,82.79 L763.80,85.00 L761.86,83.83 L759.92,85.00 L760.43,82.79 L758.72,81.31 L760.98,81.11 Z M780.47,75.54 L781.35,77.62 L783.60,77.82 L781.89,79.30 L782.40,81.51 L780.47,80.34 L778.53,81.51 L779.04,79.30 L777.33,77.82 L779.58,77.62 Z M764.19,88.33 L765.07,90.41 L767.32,90.61 L765.61,92.09 L766.13,94.30 L764.19,93.13 L762.25,94.30 L762.76,92.09 L761.05,90.61 L763.30,90.41 Z M772.33,91.82 L773.21,93.90 L775.46,94.10 L773.75,95.58 L774.27,97.79 L772.33,96.62 L770.39,97.79 L770.90,95.58 L769.19,94.10 L771.44,93.90 Z M786.28,86.00 L787.16,88.09 L789.42,88.28 L787.71,89.77 L788.22,91.97 L786.28,90.80 L784.34,91.97 L784.85,89.77 L783.14,88.28 L785.40,88.09 Z M787.44,90.65 L788.32,92.74 L790.58,92.93 L788.87,94.42 L789.38,96.62 L787.44,95.45 L785.50,96.62 L786.02,94.42 L784.30,92.93 L786.56,92.74 Z M754.88,52.28 L755.77,54.37 L758.02,54.56 L756.31,56.04 L756.82,58.25 L754.88,57.08 L752.94,58.25 L753.46,56.04 L751.75,54.56 L754.00,54.37 Z M750.23,55.77 L751.11,57.86 L753.37,58.05 L751.66,59.53 L752.17,61.74 L750.23,60.57 L748.29,61.74 L748.81,59.53 L747.09,58.05 L749.35,57.86 Z M717.00,26.70 L717.88,28.79 L720.14,28.98 L718.43,30.46 L718.94,32.67 L717.00,31.50 L715.06,32.67 L715.57,30.46 L713.86,28.98 L716.12,28.79 Z M725.80,24.00 L726.68,26.09 L728.94,26.28 L727.23,27.76 L727.74,29.97 L725.80,28.80 L723.86,29.97 L724.37,27.76 L722.66,26.28 L724.92,26.09 Z M715.10,37.00 L715.98,39.09 L718.24,39.28 L716.53,40.76 L717.04,42.97 L715.10,41.80 L713.16,42.97 L713.67,40.76 L711.96,39.28 L714.22,39.09 Z M776.20,97.40 L777.08,99.49 L779.34,99.68 L777.63,101.16 L778.14,103.37 L776.20,102.20 L774.26,103.37 L774.77,101.16 L773.06,99.68 L775.32,99.49 Z M784.60,95.90 L785.48,97.99 L787.74,98.18 L786.03,99.66 L786.54,101.87 L784.60,100.70 L782.66,101.87 L783.17,99.66 L781.46,98.18 L783.72,97.99 Z" fill="none" stroke="#2c2ce6" stroke-width="1.25" stroke-linejoin="miter"/>
<polyline points="752.70,65.70 752.70,65.70 752.72,65.70 752.74,65.70 752.79,65.70 752.84,65.69 752.92,65.69 753.01,65.68 753.12,65.67 753.25,65.66 753.39,65.64 753.56,65.62 753.75,65.59 753.95,65.56 754.18,65.52 754.43,65.47 754.69,65.42 754.98,65.36 755.29,65.29 755.61,65.21 755.96,65.13 756.32,65.03 756.70,64.92 757.10,64.80 757.52,64.68 757.95,64.54 758.40,64.38 758.87,64.22 759.35,64.04 759.84,63.85 760.35,63.65 760.87,63.43 761.40,63.20 761.94,62.96 762.50,62.71 763.06,62.43 763.63,62.15 764.20,61.85 764.78,61.54 765.37,61.21 765.96,60.87 766.56,60.52 767.15,60.15 767.75,59.77 768.34,59.38 768.94,58.97 769.53,58.56 770.12,58.13 770.70,57.69 771.28,57.23 771.85,56.77 772.41,56.30 772.97,55.82 773.51,55.32 774.04,54.83 774.56,54.32 775.07,53.80 775.57,53.28 776.05,52.76 776.51,52.23 776.96,51.69 777.39,51.15 777.81,50.61 778.20,50.07 778.58,49.53 778.93,48.99 779.27,48.45 779.58,47.91 779.87,47.37 780.14,46.84 780.39,46.31 780.61,45.79 780.81,45.28 780.99,44.77 781.14,44.27 781.27,43.78 781.37,43.30 781.45,42.83 781.51,42.37 781.54,41.93 781.54,41.50 781.52,41.08 781.48,40.68 781.41,40.30 781.32,39.93 781.20,39.58 781.06,39.25 780.90,38.94 780.71,38.65 780.51,38.37 780.28,38.12 780.03,37.89 779.75,37.69 779.46,37.50 779.15,37.34 778.82,37.20 778.47,37.08 778.10,36.99 777.72,36.92 777.32,36.88 776.90,36.86 776.47,36.86 776.03,36.89 775.57,36.95 775.10,37.03 774.62,37.13 774.13,37.26 773.63,37.41 773.12,37.59 772.61,37.79 772.09,38.01 771.56,38.26 771.03,38.53 770.49,38.82 769.95,39.13 769.41,39.47 768.87,39.82 768.33,40.20 767.79,40.59 767.25,41.01 766.71,41.44 766.17,41.89 765.64,42.35 765.12,42.83 764.60,43.33 764.08,43.84 763.57,44.36 763.08,44.89 762.58,45.43 762.10,45.99 761.63,46.55 761.17,47.12 760.71,47.70 760.27,48.28 759.84,48.87 759.43,49.46 759.02,50.06 758.63,50.65 758.25,51.25 757.88,51.84 757.53,52.44 757.19,53.03 756.86,53.62 756.55,54.20 756.25,54.77 755.97,55.34 755.69,55.90 755.44,56.46 755.20,57.00 754.97,57.53 754.75,58.05 754.55,58.56 754.36,59.05 754.18,59.53 754.02,60.00 753.86,60.45 753.72,60.88 753.60,61.30 753.48,61.70 753.37,62.08 753.27,62.44 753.19,62.79 753.11,63.11 753.04,63.42 752.98,63.71 752.93,63.97 752.88,64.22 752.84,64.45 752.81,64.65 752.78,64.84 752.76,65.01 752.74,65.15 752.73,65.28 752.72,65.39 752.71,65.48 752.71,65.56 752.70,65.61 752.70,65.66 752.70,65.68 752.70,65.70 752.70,65.70 752.70,65.70 752.70,65.68 752.70,65.66 752.70,65.61 752.69,65.56 752.69,65.48 752.68,65.39 752.67,65.28 752.66,65.15 752.64,65.01 752.62,64.84 752.59,64.65 752.56,64.45 752.52,64.22 752.47,63.97 752.42,63.71 752.36,63.42 752.29,63.11 752.21,62.79 752.13,62.44 752.03,62.08 751.92,61.70 751.80,61.30 751.68,60.88 751.54,60.45 751.38,60.00 751.22,59.53 751.04,59.05 750.85,58.56 750.65,58.05 750.43,57.53 750.20,57.00 749.96,56.46 749.71,55.90 749.43,55.34 749.15,54.77 748.85,54.20 748.54,53.62 748.21,53.03 747.87,52.44 747.52,51.84 747.15,51.25 746.77,50.65 746.38,50.06 745.97,49.46 745.56,48.87 745.13,48.28 744.69,47.70 744.23,47.12 743.77,46.55 743.30,45.99 742.82,45.43 742.32,44.89 741.83,44.36 741.32,43.84 740.80,43.33 740.28,42.83 739.76,42.35 739.23,41.89 738.69,41.44 738.15,41.01 737.61,40.59 737.07,40.20 736.53,39.82 735.99,39.47 735.45,39.13 734.91,38.82 734.37,38.53 733.84,38.26 733.31,38.01 732.79,37.79 732.28,37.59 731.77,37.41 731.27,37.26 730.78,37.13 730.30,37.03 729.83,36.95 729.37,36.89 728.93,36.86 728.50,36.86 728.08,36.88 727.68,36.92 727.30,36.99 726.93,37.08 726.58,37.20 726.25,37.34 725.94,37.50 725.65,37.69 725.37,37.89 725.12,38.12 724.89,38.37 724.69,38.65 724.50,38.94 724.34,39.25 724.20,39.58 724.08,39.93 723.99,40.30 723.92,40.68 723.88,41.08 723.86,41.50 723.86,41.93 723.89,42.37 723.95,42.83 724.03,43.30 724.13,43.78 724.26,44.27 724.41,44.77 724.59,45.28 724.79,45.79 725.01,46.31 725.26,46.84 725.53,47.37 725.82,47.91 726.13,48.45 726.47,48.99 726.82,49.53 727.20,50.07 727.59,50.61 728.01,51.15 728.44,51.69 728.89,52.23 729.35,52.76 729.83,53.28 730.33,53.80 730.84,54.32 731.36,54.83 731.89,55.32 732.43,55.82 732.99,56.30 733.55,56.77 734.12,57.23 734.70,57.69 735.28,58.13 735.87,58.56 736.46,58.97 737.06,59.38 737.65,59.77 738.25,60.15 738.84,60.52 739.44,60.87 740.03,61.21 740.62,61.54 741.20,61.85 741.77,62.15 742.34,62.43 742.90,62.71 743.46,62.96 744.00,63.20 744.53,63.43 745.05,63.65 745.56,63.85 746.05,64.04 746.53,64.22 747.00,64.38 747.45,64.54 747.88,64.68 748.30,64.80 748.70,64.92 749.08,65.03 749.44,65.13 749.79,65.21 750.11,65.29 750.42,65.36 750.71,65.42 750.97,65.47 751.22,65.52 751.45,65.56 751.65,65.59 751.84,65.62 752.01,65.64 752.15,65.66 752.28,65.67 752.39,65.68 752.48,65.69 752.56,65.69 752.61,65.70 752.66,65.70 752.68,65.70 752.70,65.70 752.70,65.70 752.70,65.70 752.68,65.70 752.66,65.70 752.61,65.70 752.56,65.71 752.48,65.71 752.39,65.72 752.28,65.73 752.15,65.74 752.01,65.76 751.84,65.78 751.65,65.81 751.45,65.84 751.22,65.88 750.97,65.93 750.71,65.98 750.42,66.04 750.11,66.11 749.79,66.19 749.44,66.27 749.08,66.37 748.70,66.48 748.30,66.60 747.88,66.72 747.45,66.86 747.00,67.02 746.53,67.18 746.05,67.36 745.56,67.55 745.05,67.75 744.53,67.97 744.00,68.20 743.46,68.44 742.90,68.69 742.34,68.97 741.77,69.25 741.20,69.55 740.62,69.86 740.03,70.19 739.44,70.53 738.84,70.88 738.25,71.25 737.65,71.63 737.06,72.02 736.46,72.43 735.87,72.84 735.28,73.27 734.70,73.71 734.12,74.17 733.55,74.63 732.99,75.10 732.43,75.58 731.89,76.08 731.36,76.57 730.84,77.08 730.33,77.60 729.83,78.12 729.35,78.64 728.89,79.17 728.44,79.71 728.01,80.25 727.59,80.79 727.20,81.33 726.82,81.87 726.47,82.41 726.13,82.95 725.82,83.49 725.53,84.03 725.26,84.56 725.01,85.09 724.79,85.61 724.59,86.12 724.41,86.63 724.26,87.13 724.13,87.62 724.03,88.10 723.95,88.57 723.89,89.03 723.86,89.47 723.86,89.90 723.88,90.32 723.92,90.72 723.99,91.10 724.08,91.47 724.20,91.82 724.34,92.15 724.50,92.46 724.69,92.75 724.89,93.03 725.12,93.28 725.37,93.51 725.65,93.71 725.94,93.90 726.25,94.06 726.58,94.20 726.93,94.32 727.30,94.41 727.68,94.48 728.08,94.52 728.50,94.54 728.93,94.54 729.37,94.51 729.83,94.45 730.30,94.37 730.78,94.27 731.27,94.14 731.77,93.99 732.28,93.81 732.79,93.61 733.31,93.39 733.84,93.14 734.37,92.87 734.91,92.58 735.45,92.27 735.99,91.93 736.53,91.58 737.07,91.20 737.61,90.81 738.15,90.39 738.69,89.96 739.23,89.51 739.76,89.05 740.28,88.57 740.80,88.07 741.32,87.56 741.83,87.04 742.32,86.51 742.82,85.97 743.30,85.41 743.77,84.85 744.23,84.28 744.69,83.70 745.13,83.12 745.56,82.53 745.97,81.94 746.38,81.34 746.77,80.75 747.15,80.15 747.52,79.56 747.87,78.96 748.21,78.37 748.54,77.78 748.85,77.20 749.15,76.63 749.43,76.06 749.71,75.50 749.96,74.94 750.20,74.40 750.43,73.87 750.65,73.35 750.85,72.84 751.04,72.35 751.22,71.87 751.38,71.40 751.54,70.95 751.68,70.52 751.80,70.10 751.92,69.70 752.03,69.32 752.13,68.96 752.21,68.61 752.29,68.29 752.36,67.98 752.42,67.69 752.47,67.43 752.52,67.18 752.56,66.95 752.59,66.75 752.62,66.56 752.64,66.39 752.66,66.25 752.67,66.12 752.68,66.01 752.69,65.92 752.69,65.84 752.70,65.79 752.70,65.74 752.70,65.72 752.70,65.70 752.70,65.70 752.70,65.70 752.70,65.72 752.70,65.74 752.70,65.79 752.71,65.84 752.71,65.92 752.72,66.01 752.73,66.12 752.74,66.25 752.76,66.39 752.78,66.56 752.81,66.75 752.84,66.95 752.88,67.18 752.93,67.43 752.98,67.69 753.04,67.98 753.11,68.29 753.19,68.61 753.27,68.96 753.37,69.32 753.48,69.70 753.60,70.10 753.72,70.52 753.86,70.95 754.02,71.40 754.18,71.87 754.36,72.35 754.55,72.84 754.75,73.35 754.97,73.87 755.20,74.40 755.44,74.94 755.69,75.50 755.97,76.06 756.25,76.63 756.55,77.20 756.86,77.78 757.19,78.37 757.53,78.96 757.88,79.56 758.25,80.15 758.63,80.75 759.02,81.34 759.43,81.94 759.84,82.53 760.27,83.12 760.71,83.70 761.17,84.28 761.63,84.85 762.10,85.41 762.58,85.97 763.08,86.51 763.57,87.04 764.08,87.56 764.60,88.07 765.12,88.57 765.64,89.05 766.17,89.51 766.71,89.96 767.25,90.39 767.79,90.81 768.33,91.20 768.87,91.58 769.41,91.93 769.95,92.27 770.49,92.58 771.03,92.87 771.56,93.14 772.09,93.39 772.61,93.61 773.12,93.81 773.63,93.99 774.13,94.14 774.62,94.27 775.10,94.37 775.57,94.45 776.03,94.51 776.47,94.54 776.90,94.54 777.32,94.52 777.72,94.48 778.10,94.41 778.47,94.32 778.82,94.20 779.15,94.06 779.46,93.90 779.75,93.71 780.03,93.51 780.28,93.28 780.51,93.03 780.71,92.75 780.90,92.46 781.06,92.15 781.20,91.82 781.32,91.47 781.41,91.10 781.48,90.72 781.52,90.32 781.54,89.90 781.54,89.47 781.51,89.03 781.45,88.57 781.37,88.10 781.27,87.62 781.14,87.13 780.99,86.63 780.81,86.12 780.61,85.61 780.39,85.09 780.14,84.56 779.87,84.03 779.58,83.49 779.27,82.95 778.93,82.41 778.58,81.87 778.20,81.33 777.81,80.79 777.39,80.25 776.96,79.71 776.51,79.17 776.05,78.64 775.57,78.12 775.07,77.60 774.56,77.08 774.04,76.57 773.51,76.08 772.97,75.58 772.41,75.10 771.85,74.63 771.28,74.17 770.70,73.71 770.12,73.27 769.53,72.84 768.94,72.43 768.34,72.02 767.75,71.63 767.15,71.25 766.56,70.88 765.96,70.53 765.37,70.19 764.78,69.86 764.20,69.55 763.63,69.25 763.06,68.97 762.50,68.69 761.94,68.44 761.40,68.20 760.87,67.97 760.35,67.75 759.84,67.55 759.35,67.36 758.87,67.18 758.40,67.02 757.95,66.86 757.52,66.72 757.10,66.60 756.70,66.48 756.32,66.37 755.96,66.27 755.61,66.19 755.29,66.11 754.98,66.04 754.69,65.98 754.43,65.93 754.18,65.88 753.95,65.84 753.75,65.81 753.56,65.78 753.39,65.76 753.25,65.74 753.12,65.73 753.01,65.72 752.92,65.71 752.84,65.71 752.79,65.70 752.74,65.70 752.72,65.70 752.70,65.70 752.70,65.70" fill="none" stroke="#ee1c24" stroke-width="2.1" stroke-linejoin="round"/>
<circle cx="615.4" cy="215.7" r="10.90" fill="none" stroke="#8fa2a8" stroke-width="0.9"/>
<circle cx="615.4" cy="215.7" r="21.80" fill="none" stroke="#8fa2a8" stroke-width="0.9"/>
<circle cx="615.4" cy="215.7" r="32.60" fill="none" stroke="#8fa2a8" stroke-width="0.9"/>
<circle cx="615.4" cy="215.7" r="43.50" fill="none" stroke="#8fa2a8" stroke-width="0.9"/>
<line x1="615.40" y1="215.70" x2="669.70" y2="215.70" stroke="#8fa2a8" stroke-width="0.9"/>
<line x1="615.40" y1="215.70" x2="662.43" y2="188.55" stroke="#8fa2a8" stroke-width="0.9"/>
<line x1="615.40" y1="215.70" x2="642.55" y2="168.67" stroke="#8fa2a8" stroke-width="0.9"/>
<line x1="615.40" y1="215.70" x2="615.40" y2="161.40" stroke="#8fa2a8" stroke-width="0.9"/>
<line x1="615.40" y1="215.70" x2="588.25" y2="168.67" stroke="#8fa2a8" stroke-width="0.9"/>
<line x1="615.40" y1="215.70" x2="568.37" y2="188.55" stroke="#8fa2a8" stroke-width="0.9"/>
<line x1="615.40" y1="215.70" x2="561.10" y2="215.70" stroke="#8fa2a8" stroke-width="0.9"/>
<line x1="615.40" y1="215.70" x2="568.37" y2="242.85" stroke="#8fa2a8" stroke-width="0.9"/>
<line x1="615.40" y1="215.70" x2="588.25" y2="262.73" stroke="#8fa2a8" stroke-width="0.9"/>
<line x1="615.40" y1="215.70" x2="615.40" y2="270.00" stroke="#8fa2a8" stroke-width="0.9"/>
<line x1="615.40" y1="215.70" x2="642.55" y2="262.73" stroke="#8fa2a8" stroke-width="0.9"/>
<line x1="615.40" y1="215.70" x2="662.43" y2="242.85" stroke="#8fa2a8" stroke-width="0.9"/>
<circle cx="615.4" cy="215.7" r="54.3" fill="none" stroke="#262626" stroke-width="1.25"/>
<line x1="667.50" y1="215.70" x2="669.70" y2="215.70" stroke="#262626" stroke-width="1.3"/>
<line x1="660.52" y1="189.65" x2="662.43" y2="188.55" stroke="#262626" stroke-width="1.3"/>
<line x1="641.45" y1="170.58" x2="642.55" y2="168.67" stroke="#262626" stroke-width="1.3"/>
<line x1="615.40" y1="163.60" x2="615.40" y2="161.40" stroke="#262626" stroke-width="1.3"/>
<line x1="589.35" y1="170.58" x2="588.25" y2="168.67" stroke="#262626" stroke-width="1.3"/>
<line x1="570.28" y1="189.65" x2="568.37" y2="188.55" stroke="#262626" stroke-width="1.3"/>
<line x1="563.30" y1="215.70" x2="561.10" y2="215.70" stroke="#262626" stroke-width="1.3"/>
<line x1="570.28" y1="241.75" x2="568.37" y2="242.85" stroke="#262626" stroke-width="1.3"/>
<line x1="589.35" y1="260.82" x2="588.25" y2="262.73" stroke="#262626" stroke-width="1.3"/>
<line x1="615.40" y1="267.80" x2="615.40" y2="270.00" stroke="#262626" stroke-width="1.3"/>
<line x1="641.45" y1="260.82" x2="642.55" y2="262.73" stroke="#262626" stroke-width="1.3"/>
<line x1="660.52" y1="241.75" x2="662.43" y2="242.85" stroke="#262626" stroke-width="1.3"/>
<text x="672.71" y="218.50" font-size="7.30" font-weight="bold" fill="#000" text-anchor="start" textLength="3.98" lengthAdjust="spacingAndGlyphs">0</text>
<text x="665.00" y="185.55" font-size="7.30" font-weight="bold" fill="#000" text-anchor="start" textLength="8.73" lengthAdjust="spacingAndGlyphs">30</text>
<text x="643.92" y="164.85" font-size="7.30" font-weight="bold" fill="#000" text-anchor="start" textLength="8.81" lengthAdjust="spacingAndGlyphs">60</text>
<text x="610.77" y="157.50" font-size="7.30" font-weight="bold" fill="#000" text-anchor="start" textLength="8.81" lengthAdjust="spacingAndGlyphs">90</text>
<text x="574.28" y="165.00" font-size="7.30" font-weight="bold" fill="#000" text-anchor="start" textLength="13.11" lengthAdjust="spacingAndGlyphs">120</text>
<text x="552.73" y="185.85" font-size="7.30" font-weight="bold" fill="#000" text-anchor="start" textLength="13.11" lengthAdjust="spacingAndGlyphs">150</text>
<text x="545.03" y="218.50" font-size="7.30" font-weight="bold" fill="#000" text-anchor="start" textLength="13.11" lengthAdjust="spacingAndGlyphs">180</text>
<text x="552.88" y="251.05" font-size="7.30" font-weight="bold" fill="#000" text-anchor="start" textLength="12.91" lengthAdjust="spacingAndGlyphs">210</text>
<text x="573.83" y="272.15" font-size="7.30" font-weight="bold" fill="#000" text-anchor="start" textLength="12.91" lengthAdjust="spacingAndGlyphs">240</text>
<text x="609.13" y="280.15" font-size="7.30" font-weight="bold" fill="#000" text-anchor="start" textLength="12.91" lengthAdjust="spacingAndGlyphs">270</text>
<text x="644.11" y="272.15" font-size="7.30" font-weight="bold" fill="#000" text-anchor="start" textLength="12.83" lengthAdjust="spacingAndGlyphs">300</text>
<text x="665.16" y="251.05" font-size="7.30" font-weight="bold" fill="#000" text-anchor="start" textLength="12.83" lengthAdjust="spacingAndGlyphs">330</text>
<path d="M621.55,211.35 L622.43,213.43 L624.69,213.63 L622.97,215.11 L623.49,217.32 L621.55,216.15 L619.61,217.32 L620.12,215.11 L618.41,213.63 L620.67,213.43 Z M632.75,206.32 L633.63,208.40 L635.89,208.60 L634.17,210.08 L634.69,212.29 L632.75,211.12 L630.81,212.29 L631.32,210.08 L629.61,208.60 L631.87,208.40 Z M640.29,199.02 L641.17,201.10 L643.43,201.30 L641.72,202.78 L642.23,204.98 L640.29,203.82 L638.35,204.98 L638.87,202.78 L637.15,201.30 L639.41,201.10 Z M653.26,185.00 L654.14,187.09 L656.39,187.28 L654.68,188.76 L655.20,190.97 L653.26,189.80 L651.32,190.97 L651.83,188.76 L650.12,187.28 L652.37,187.09 Z M651.74,175.49 L652.62,177.58 L654.88,177.77 L653.16,179.26 L653.68,181.46 L651.74,180.29 L649.80,181.46 L650.31,179.26 L648.60,177.77 L650.86,177.58 Z M642.16,177.10 L643.04,179.19 L645.29,179.38 L643.58,180.86 L644.10,183.07 L642.16,181.90 L640.22,183.07 L640.73,180.86 L639.02,179.38 L641.27,179.19 Z M630.08,184.51 L630.96,186.60 L633.22,186.79 L631.51,188.28 L632.02,190.48 L630.08,189.31 L628.14,190.48 L628.65,188.28 L626.94,186.79 L629.20,186.60 Z M618.48,202.81 L619.36,204.90 L621.61,205.09 L619.90,206.57 L620.42,208.78 L618.48,207.61 L616.54,208.78 L617.05,206.57 L615.34,205.09 L617.59,204.90 Z M615.78,210.21 L616.66,212.30 L618.92,212.49 L617.21,213.98 L617.72,216.18 L615.78,215.01 L613.84,216.18 L614.35,213.98 L612.64,212.49 L614.90,212.30 Z M615.19,211.20 L616.07,213.29 L618.33,213.48 L616.62,214.97 L617.13,217.17 L615.19,216.00 L613.25,217.17 L613.77,214.97 L612.05,213.48 L614.31,213.29 Z M611.24,200.23 L612.12,202.32 L614.37,202.51 L612.66,204.00 L613.18,206.20 L611.24,205.03 L609.30,206.20 L609.81,204.00 L608.10,202.51 L610.35,202.32 Z M602.78,188.00 L603.66,190.08 L605.91,190.28 L604.20,191.76 L604.72,193.97 L602.78,192.80 L600.84,193.97 L601.35,191.76 L599.64,190.28 L601.89,190.08 Z M590.21,175.75 L591.09,177.84 L593.35,178.03 L591.63,179.52 L592.15,181.72 L590.21,180.55 L588.27,181.72 L588.78,179.52 L587.07,178.03 L589.33,177.84 Z M583.18,179.19 L584.06,181.27 L586.32,181.47 L584.61,182.95 L585.12,185.16 L583.18,183.99 L581.24,185.16 L581.76,182.95 L580.04,181.47 L582.30,181.27 Z M578.72,187.14 L579.60,189.22 L581.85,189.42 L580.14,190.90 L580.66,193.11 L578.72,191.94 L576.78,193.11 L577.29,190.90 L575.58,189.42 L577.83,189.22 Z M584.71,196.34 L585.60,198.42 L587.85,198.62 L586.14,200.10 L586.65,202.31 L584.71,201.14 L582.77,202.31 L583.29,200.10 L581.58,198.62 L583.83,198.42 Z M600.60,207.62 L601.48,209.71 L603.74,209.90 L602.02,211.39 L602.54,213.59 L600.60,212.42 L598.66,213.59 L599.17,211.39 L597.46,209.90 L599.72,209.71 Z M607.97,211.10 L608.85,213.19 L611.11,213.38 L609.39,214.87 L609.91,217.07 L607.97,215.90 L606.03,217.07 L606.54,214.87 L604.83,213.38 L607.09,213.19 Z M607.88,213.78 L608.77,215.87 L611.02,216.06 L609.31,217.54 L609.82,219.75 L607.88,218.58 L605.94,219.75 L606.46,217.54 L604.75,216.06 L607.00,215.87 Z M603.70,216.07 L604.58,218.15 L606.84,218.35 L605.13,219.83 L605.64,222.04 L603.70,220.87 L601.76,222.04 L602.27,219.83 L600.56,218.35 L602.82,218.15 Z M592.70,223.47 L593.58,225.56 L595.84,225.75 L594.12,227.24 L594.64,229.44 L592.70,228.27 L590.76,229.44 L591.27,227.24 L589.56,225.75 L591.82,225.56 Z M582.39,235.26 L583.27,237.34 L585.53,237.54 L583.81,239.02 L584.33,241.23 L582.39,240.06 L580.45,241.23 L580.96,239.02 L579.25,237.54 L581.50,237.34 Z M584.02,244.12 L584.90,246.21 L587.16,246.40 L585.45,247.88 L585.96,250.09 L584.02,248.92 L582.08,250.09 L582.59,247.88 L580.88,246.40 L583.14,246.21 Z M591.39,246.11 L592.27,248.20 L594.52,248.39 L592.81,249.87 L593.33,252.08 L591.39,250.91 L589.45,252.08 L589.96,249.87 L588.25,248.39 L590.50,248.20 Z M599.95,241.99 L600.83,244.08 L603.09,244.27 L601.37,245.76 L601.89,247.96 L599.95,246.79 L598.01,247.96 L598.52,245.76 L596.81,244.27 L599.07,244.08 Z M611.39,224.70 L612.27,226.78 L614.53,226.98 L612.82,228.46 L613.33,230.67 L611.39,229.50 L609.45,230.67 L609.96,228.46 L608.25,226.98 L610.51,226.78 Z M614.62,217.28 L615.50,219.37 L617.76,219.56 L616.05,221.05 L616.56,223.25 L614.62,222.08 L612.68,223.25 L613.19,221.05 L611.48,219.56 L613.74,219.37 Z M615.53,213.09 L616.41,215.17 L618.67,215.37 L616.95,216.85 L617.47,219.06 L615.53,217.89 L613.59,219.06 L614.10,216.85 L612.39,215.37 L614.64,215.17 Z M621.27,229.71 L622.16,231.79 L624.41,231.99 L622.70,233.47 L623.21,235.68 L621.27,234.51 L619.34,235.68 L619.85,233.47 L618.14,231.99 L620.39,231.79 Z M628.17,239.12 L629.06,241.20 L631.31,241.40 L629.60,242.88 L630.11,245.08 L628.17,243.92 L626.23,245.08 L626.75,242.88 L625.03,241.40 L627.29,241.20 Z M640.70,247.74 L641.58,249.83 L643.84,250.03 L642.13,251.51 L642.64,253.71 L640.70,252.54 L638.76,253.71 L639.28,251.51 L637.56,250.03 L639.82,249.83 Z M646.27,244.90 L647.15,246.99 L649.41,247.18 L647.70,248.66 L648.21,250.87 L646.27,249.70 L644.33,250.87 L644.85,248.66 L643.13,247.18 L645.39,246.99 Z M653.74,241.24 L654.62,243.33 L656.88,243.52 L655.16,245.01 L655.68,247.21 L653.74,246.04 L651.80,247.21 L652.31,245.01 L650.60,243.52 L652.86,243.33 Z M644.98,228.07 L645.86,230.15 L648.11,230.35 L646.40,231.83 L646.92,234.04 L644.98,232.87 L643.04,234.04 L643.55,231.83 L641.84,230.35 L644.09,230.15 Z M630.60,216.96 L631.48,219.05 L633.73,219.24 L632.02,220.73 L632.53,222.93 L630.60,221.76 L628.66,222.93 L629.17,220.73 L627.46,219.24 L629.71,219.05 Z M617.85,212.81 L618.74,214.90 L620.99,215.09 L619.28,216.57 L619.79,218.78 L617.85,217.61 L615.92,218.78 L616.43,216.57 L614.72,215.09 L616.97,214.90 Z" fill="none" stroke="#2c2ce6" stroke-width="1.25" stroke-linejoin="miter"/>
<polyline points="615.40,215.70 615.40,215.70 615.42,215.70 615.45,215.70 615.51,215.70 615.58,215.69 615.67,215.69 615.78,215.68 615.92,215.66 616.08,215.65 616.26,215.62 616.47,215.60 616.70,215.56 616.96,215.52 617.24,215.47 617.55,215.42 617.88,215.35 618.24,215.28 618.62,215.19 619.03,215.09 619.46,214.98 619.91,214.86 620.39,214.73 620.88,214.58 621.40,214.42 621.94,214.25 622.51,214.06 623.09,213.85 623.68,213.63 624.30,213.40 624.93,213.15 625.58,212.88 626.24,212.59 626.92,212.29 627.61,211.97 628.31,211.63 629.02,211.28 629.73,210.90 630.46,210.51 631.19,210.11 631.93,209.68 632.67,209.24 633.41,208.79 634.15,208.31 634.89,207.82 635.63,207.32 636.37,206.80 637.10,206.26 637.83,205.71 638.55,205.15 639.26,204.57 639.96,203.98 640.65,203.38 641.33,202.77 642.00,202.15 642.65,201.52 643.28,200.88 643.90,200.23 644.50,199.57 645.07,198.91 645.63,198.24 646.17,197.57 646.69,196.90 647.18,196.23 647.65,195.55 648.09,194.87 648.51,194.20 648.90,193.53 649.26,192.86 649.60,192.20 649.90,191.54 650.18,190.89 650.43,190.25 650.65,189.61 650.84,188.99 651.00,188.38 651.13,187.78 651.23,187.20 651.30,186.63 651.34,186.08 651.34,185.54 651.32,185.02 651.26,184.52 651.18,184.05 651.06,183.59 650.92,183.15 650.74,182.74 650.54,182.35 650.31,181.99 650.05,181.65 649.77,181.33 649.45,181.05 649.11,180.79 648.75,180.56 648.36,180.36 647.95,180.18 647.51,180.04 647.05,179.92 646.58,179.84 646.08,179.78 645.56,179.76 645.02,179.76 644.47,179.80 643.90,179.87 643.32,179.97 642.72,180.10 642.11,180.26 641.49,180.45 640.85,180.67 640.21,180.92 639.56,181.20 638.90,181.50 638.24,181.84 637.57,182.20 636.90,182.59 636.23,183.01 635.55,183.45 634.87,183.92 634.20,184.41 633.53,184.93 632.86,185.47 632.19,186.03 631.53,186.60 630.87,187.20 630.22,187.82 629.58,188.45 628.95,189.10 628.33,189.77 627.72,190.45 627.12,191.14 626.53,191.84 625.95,192.55 625.39,193.27 624.84,194.00 624.30,194.73 623.78,195.47 623.28,196.21 622.79,196.95 622.31,197.69 621.86,198.43 621.42,199.17 620.99,199.91 620.59,200.64 620.20,201.37 619.82,202.08 619.47,202.79 619.13,203.49 618.81,204.18 618.51,204.86 618.22,205.52 617.95,206.17 617.70,206.80 617.47,207.42 617.25,208.01 617.04,208.59 616.85,209.16 616.68,209.70 616.52,210.22 616.37,210.71 616.24,211.19 616.12,211.64 616.01,212.07 615.91,212.48 615.82,212.86 615.75,213.22 615.68,213.55 615.63,213.86 615.58,214.14 615.54,214.40 615.50,214.63 615.48,214.84 615.45,215.02 615.44,215.18 615.42,215.32 615.41,215.43 615.41,215.52 615.40,215.59 615.40,215.65 615.40,215.68 615.40,215.70 615.40,215.70 615.40,215.70 615.40,215.68 615.40,215.65 615.40,215.59 615.39,215.52 615.39,215.43 615.38,215.32 615.36,215.18 615.35,215.02 615.32,214.84 615.30,214.63 615.26,214.40 615.22,214.14 615.17,213.86 615.12,213.55 615.05,213.22 614.98,212.86 614.89,212.48 614.79,212.07 614.68,211.64 614.56,211.19 614.43,210.71 614.28,210.22 614.12,209.70 613.95,209.16 613.76,208.59 613.55,208.01 613.33,207.42 613.10,206.80 612.85,206.17 612.58,205.52 612.29,204.86 611.99,204.18 611.67,203.49 611.33,202.79 610.98,202.08 610.60,201.37 610.21,200.64 609.81,199.91 609.38,199.17 608.94,198.43 608.49,197.69 608.01,196.95 607.52,196.21 607.02,195.47 606.50,194.73 605.96,194.00 605.41,193.27 604.85,192.55 604.27,191.84 603.68,191.14 603.08,190.45 602.47,189.77 601.85,189.10 601.22,188.45 600.58,187.82 599.93,187.20 599.27,186.60 598.61,186.03 597.94,185.47 597.27,184.93 596.60,184.41 595.93,183.92 595.25,183.45 594.57,183.01 593.90,182.59 593.23,182.20 592.56,181.84 591.90,181.50 591.24,181.20 590.59,180.92 589.95,180.67 589.31,180.45 588.69,180.26 588.08,180.10 587.48,179.97 586.90,179.87 586.33,179.80 585.78,179.76 585.24,179.76 584.72,179.78 584.22,179.84 583.75,179.92 583.29,180.04 582.85,180.18 582.44,180.36 582.05,180.56 581.69,180.79 581.35,181.05 581.03,181.33 580.75,181.65 580.49,181.99 580.26,182.35 580.06,182.74 579.88,183.15 579.74,183.59 579.62,184.05 579.54,184.52 579.48,185.02 579.46,185.54 579.46,186.08 579.50,186.63 579.57,187.20 579.67,187.78 579.80,188.38 579.96,188.99 580.15,189.61 580.37,190.25 580.62,190.89 580.90,191.54 581.20,192.20 581.54,192.86 581.90,193.53 582.29,194.20 582.71,194.87 583.15,195.55 583.62,196.23 584.11,196.90 584.63,197.57 585.17,198.24 585.73,198.91 586.30,199.57 586.90,200.23 587.52,200.88 588.15,201.52 588.80,202.15 589.47,202.77 590.15,203.38 590.84,203.98 591.54,204.57 592.25,205.15 592.97,205.71 593.70,206.26 594.43,206.80 595.17,207.32 595.91,207.82 596.65,208.31 597.39,208.79 598.13,209.24 598.87,209.68 599.61,210.11 600.34,210.51 601.07,210.90 601.78,211.28 602.49,211.63 603.19,211.97 603.88,212.29 604.56,212.59 605.22,212.88 605.87,213.15 606.50,213.40 607.12,213.63 607.71,213.85 608.29,214.06 608.86,214.25 609.40,214.42 609.92,214.58 610.41,214.73 610.89,214.86 611.34,214.98 611.77,215.09 612.18,215.19 612.56,215.28 612.92,215.35 613.25,215.42 613.56,215.47 613.84,215.52 614.10,215.56 614.33,215.60 614.54,215.62 614.72,215.65 614.88,215.66 615.02,215.68 615.13,215.69 615.22,215.69 615.29,215.70 615.35,215.70 615.38,215.70 615.40,215.70 615.40,215.70 615.40,215.70 615.38,215.70 615.35,215.70 615.29,215.70 615.22,215.71 615.13,215.71 615.02,215.72 614.88,215.74 614.72,215.75 614.54,215.78 614.33,215.80 614.10,215.84 613.84,215.88 613.56,215.93 613.25,215.98 612.92,216.05 612.56,216.12 612.18,216.21 611.77,216.31 611.34,216.42 610.89,216.54 610.41,216.67 609.92,216.82 609.40,216.98 608.86,217.15 608.29,217.34 607.71,217.55 607.12,217.77 606.50,218.00 605.87,218.25 605.22,218.52 604.56,218.81 603.88,219.11 603.19,219.43 602.49,219.77 601.78,220.12 601.07,220.50 600.34,220.89 599.61,221.29 598.87,221.72 598.13,222.16 597.39,222.61 596.65,223.09 595.91,223.58 595.17,224.08 594.43,224.60 593.70,225.14 592.97,225.69 592.25,226.25 591.54,226.83 590.84,227.42 590.15,228.02 589.47,228.63 588.80,229.25 588.15,229.88 587.52,230.52 586.90,231.17 586.30,231.83 585.73,232.49 585.17,233.16 584.63,233.83 584.11,234.50 583.62,235.17 583.15,235.85 582.71,236.53 582.29,237.20 581.90,237.87 581.54,238.54 581.20,239.20 580.90,239.86 580.62,240.51 580.37,241.15 580.15,241.79 579.96,242.41 579.80,243.02 579.67,243.62 579.57,244.20 579.50,244.77 579.46,245.32 579.46,245.86 579.48,246.38 579.54,246.88 579.62,247.35 579.74,247.81 579.88,248.25 580.06,248.66 580.26,249.05 580.49,249.41 580.75,249.75 581.03,250.07 581.35,250.35 581.69,250.61 582.05,250.84 582.44,251.04 582.85,251.22 583.29,251.36 583.75,251.48 584.22,251.56 584.72,251.62 585.24,251.64 585.78,251.64 586.33,251.60 586.90,251.53 587.48,251.43 588.08,251.30 588.69,251.14 589.31,250.95 589.95,250.73 590.59,250.48 591.24,250.20 591.90,249.90 592.56,249.56 593.23,249.20 593.90,248.81 594.57,248.39 595.25,247.95 595.93,247.48 596.60,246.99 597.27,246.47 597.94,245.93 598.61,245.37 599.27,244.80 599.93,244.20 600.58,243.58 601.22,242.95 601.85,242.30 602.47,241.63 603.08,240.95 603.68,240.26 604.27,239.56 604.85,238.85 605.41,238.13 605.96,237.40 606.50,236.67 607.02,235.93 607.52,235.19 608.01,234.45 608.49,233.71 608.94,232.97 609.38,232.23 609.81,231.49 610.21,230.76 610.60,230.03 610.98,229.32 611.33,228.61 611.67,227.91 611.99,227.22 612.29,226.54 612.58,225.88 612.85,225.23 613.10,224.60 613.33,223.98 613.55,223.39 613.76,222.81 613.95,222.24 614.12,221.70 614.28,221.18 614.43,220.69 614.56,220.21 614.68,219.76 614.79,219.33 614.89,218.92 614.98,218.54 615.05,218.18 615.12,217.85 615.17,217.54 615.22,217.26 615.26,217.00 615.30,216.77 615.32,216.56 615.35,216.38 615.36,216.22 615.38,216.08 615.39,215.97 615.39,215.88 615.40,215.81 615.40,215.75 615.40,215.72 615.40,215.70 615.40,215.70 615.40,215.70 615.40,215.72 615.40,215.75 615.40,215.81 615.41,215.88 615.41,215.97 615.42,216.08 615.44,216.22 615.45,216.38 615.48,216.56 615.50,216.77 615.54,217.00 615.58,217.26 615.63,217.54 615.68,217.85 615.75,218.18 615.82,218.54 615.91,218.92 616.01,219.33 616.12,219.76 616.24,220.21 616.37,220.69 616.52,221.18 616.68,221.70 616.85,222.24 617.04,222.81 617.25,223.39 617.47,223.98 617.70,224.60 617.95,225.23 618.22,225.88 618.51,226.54 618.81,227.22 619.13,227.91 619.47,228.61 619.82,229.32 620.20,230.03 620.59,230.76 620.99,231.49 621.42,232.23 621.86,232.97 622.31,233.71 622.79,234.45 623.28,235.19 623.78,235.93 624.30,236.67 624.84,237.40 625.39,238.13 625.95,238.85 626.53,239.56 627.12,240.26 627.72,240.95 628.33,241.63 628.95,242.30 629.58,242.95 630.22,243.58 630.87,244.20 631.53,244.80 632.19,245.37 632.86,245.93 633.53,246.47 634.20,246.99 634.87,247.48 635.55,247.95 636.23,248.39 636.90,248.81 637.57,249.20 638.24,249.56 638.90,249.90 639.56,250.20 640.21,250.48 640.85,250.73 641.49,250.95 642.11,251.14 642.72,251.30 643.32,251.43 643.90,251.53 644.47,251.60 645.02,251.64 645.56,251.64 646.08,251.62 646.58,251.56 647.05,251.48 647.51,251.36 647.95,251.22 648.36,251.04 648.75,250.84 649.11,250.61 649.45,250.35 649.77,250.07 650.05,249.75 650.31,249.41 650.54,249.05 650.74,248.66 650.92,248.25 651.06,247.81 651.18,247.35 651.26,246.88 651.32,246.38 651.34,245.86 651.34,245.32 651.30,244.77 651.23,244.20 651.13,243.62 651.00,243.02 650.84,242.41 650.65,241.79 650.43,241.15 650.18,240.51 649.90,239.86 649.60,239.20 649.26,238.54 648.90,237.87 648.51,237.20 648.09,236.53 647.65,235.85 647.18,235.17 646.69,234.50 646.17,233.83 645.63,233.16 645.07,232.49 644.50,231.83 643.90,231.17 643.28,230.52 642.65,229.88 642.00,229.25 641.33,228.63 640.65,228.02 639.96,227.42 639.26,226.83 638.55,226.25 637.83,225.69 637.10,225.14 636.37,224.60 635.63,224.08 634.89,223.58 634.15,223.09 633.41,222.61 632.67,222.16 631.93,221.72 631.19,221.29 630.46,220.89 629.73,220.50 629.02,220.12 628.31,219.77 627.61,219.43 626.92,219.11 626.24,218.81 625.58,218.52 624.93,218.25 624.30,218.00 623.68,217.77 623.09,217.55 622.51,217.34 621.94,217.15 621.40,216.98 620.88,216.82 620.39,216.67 619.91,216.54 619.46,216.42 619.03,216.31 618.62,216.21 618.24,216.12 617.88,216.05 617.55,215.98 617.24,215.93 616.96,215.88 616.70,215.84 616.47,215.80 616.26,215.78 616.08,215.75 615.92,215.74 615.78,215.72 615.67,215.71 615.58,215.71 615.51,215.70 615.45,215.70 615.42,215.70 615.40,215.70 615.40,215.70" fill="none" stroke="#ee1c24" stroke-width="2.1" stroke-linejoin="round"/>
<circle cx="752.7" cy="215.7" r="10.80" fill="none" stroke="#8fa2a8" stroke-width="0.9"/>
<circle cx="752.7" cy="215.7" r="21.60" fill="none" stroke="#8fa2a8" stroke-width="0.9"/>
<circle cx="752.7" cy="215.7" r="32.40" fill="none" stroke="#8fa2a8" stroke-width="0.9"/>
<circle cx="752.7" cy="215.7" r="43.20" fill="none" stroke="#8fa2a8" stroke-width="0.9"/>
<line x1="752.70" y1="215.70" x2="806.70" y2="215.70" stroke="#8fa2a8" stroke-width="0.9"/>
<line x1="752.70" y1="215.70" x2="799.47" y2="188.70" stroke="#8fa2a8" stroke-width="0.9"/>
<line x1="752.70" y1="215.70" x2="779.70" y2="168.93" stroke="#8fa2a8" stroke-width="0.9"/>
<line x1="752.70" y1="215.70" x2="752.70" y2="161.70" stroke="#8fa2a8" stroke-width="0.9"/>
<line x1="752.70" y1="215.70" x2="725.70" y2="168.93" stroke="#8fa2a8" stroke-width="0.9"/>
<line x1="752.70" y1="215.70" x2="705.93" y2="188.70" stroke="#8fa2a8" stroke-width="0.9"/>
<line x1="752.70" y1="215.70" x2="698.70" y2="215.70" stroke="#8fa2a8" stroke-width="0.9"/>
<line x1="752.70" y1="215.70" x2="705.93" y2="242.70" stroke="#8fa2a8" stroke-width="0.9"/>
<line x1="752.70" y1="215.70" x2="725.70" y2="262.47" stroke="#8fa2a8" stroke-width="0.9"/>
<line x1="752.70" y1="215.70" x2="752.70" y2="269.70" stroke="#8fa2a8" stroke-width="0.9"/>
<line x1="752.70" y1="215.70" x2="779.70" y2="262.47" stroke="#8fa2a8" stroke-width="0.9"/>
<line x1="752.70" y1="215.70" x2="799.47" y2="242.70" stroke="#8fa2a8" stroke-width="0.9"/>
<circle cx="752.7" cy="215.7" r="54.0" fill="none" stroke="#262626" stroke-width="1.25"/>
<line x1="804.50" y1="215.70" x2="806.70" y2="215.70" stroke="#262626" stroke-width="1.3"/>
<line x1="797.56" y1="189.80" x2="799.47" y2="188.70" stroke="#262626" stroke-width="1.3"/>
<line x1="778.60" y1="170.84" x2="779.70" y2="168.93" stroke="#262626" stroke-width="1.3"/>
<line x1="752.70" y1="163.90" x2="752.70" y2="161.70" stroke="#262626" stroke-width="1.3"/>
<line x1="726.80" y1="170.84" x2="725.70" y2="168.93" stroke="#262626" stroke-width="1.3"/>
<line x1="707.84" y1="189.80" x2="705.93" y2="188.70" stroke="#262626" stroke-width="1.3"/>
<line x1="700.90" y1="215.70" x2="698.70" y2="215.70" stroke="#262626" stroke-width="1.3"/>
<line x1="707.84" y1="241.60" x2="705.93" y2="242.70" stroke="#262626" stroke-width="1.3"/>
<line x1="726.80" y1="260.56" x2="725.70" y2="262.47" stroke="#262626" stroke-width="1.3"/>
<line x1="752.70" y1="267.50" x2="752.70" y2="269.70" stroke="#262626" stroke-width="1.3"/>
<line x1="778.60" y1="260.56" x2="779.70" y2="262.47" stroke="#262626" stroke-width="1.3"/>
<line x1="797.56" y1="241.60" x2="799.47" y2="242.70" stroke="#262626" stroke-width="1.3"/>
<text x="810.01" y="218.50" font-size="7.30" font-weight="bold" fill="#000" text-anchor="start" textLength="3.98" lengthAdjust="spacingAndGlyphs">0</text>
<text x="802.30" y="185.55" font-size="7.30" font-weight="bold" fill="#000" text-anchor="start" textLength="8.73" lengthAdjust="spacingAndGlyphs">30</text>
<text x="781.22" y="164.85" font-size="7.30" font-weight="bold" fill="#000" text-anchor="start" textLength="8.81" lengthAdjust="spacingAndGlyphs">60</text>
<text x="748.07" y="157.50" font-size="7.30" font-weight="bold" fill="#000" text-anchor="start" textLength="8.81" lengthAdjust="spacingAndGlyphs">90</text>
<text x="711.58" y="165.00" font-size="7.30" font-weight="bold" fill="#000" text-anchor="start" textLength="13.11" lengthAdjust="spacingAndGlyphs">120</text>
<text x="690.03" y="185.85" font-size="7.30" font-weight="bold" fill="#000" text-anchor="start" textLength="13.11" lengthAdjust="spacingAndGlyphs">150</text>
<text x="682.33" y="218.50" font-size="7.30" font-weight="bold" fill="#000" text-anchor="start" textLength="13.11" lengthAdjust="spacingAndGlyphs">180</text>
<text x="690.18" y="251.05" font-size="7.30" font-weight="bold" fill="#000" text-anchor="start" textLength="12.91" lengthAdjust="spacingAndGlyphs">210</text>
<text x="711.13" y="272.15" font-size="7.30" font-weight="bold" fill="#000" text-anchor="start" textLength="12.91" lengthAdjust="spacingAndGlyphs">240</text>
<text x="746.43" y="280.15" font-size="7.30" font-weight="bold" fill="#000" text-anchor="start" textLength="12.91" lengthAdjust="spacingAndGlyphs">270</text>
<text x="781.41" y="272.15" font-size="7.30" font-weight="bold" fill="#000" text-anchor="start" textLength="12.83" lengthAdjust="spacingAndGlyphs">300</text>
<text x="802.46" y="251.05" font-size="7.30" font-weight="bold" fill="#000" text-anchor="start" textLength="12.83" lengthAdjust="spacingAndGlyphs">330</text>
<path d="M797.54,212.81 L798.42,214.90 L800.67,215.09 L798.96,216.58 L799.48,218.78 L797.54,217.61 L795.60,218.78 L796.11,216.58 L794.40,215.09 L796.65,214.90 Z M791.07,206.01 L791.96,208.10 L794.21,208.29 L792.50,209.77 L793.01,211.98 L791.07,210.81 L789.14,211.98 L789.65,209.77 L787.94,208.29 L790.19,208.10 Z M779.57,203.61 L780.45,205.70 L782.71,205.89 L781.00,207.38 L781.51,209.58 L779.57,208.41 L777.63,209.58 L778.14,207.38 L776.43,205.89 L778.69,205.70 Z M767.43,205.32 L768.31,207.41 L770.56,207.60 L768.85,209.08 L769.37,211.29 L767.43,210.12 L765.49,211.29 L766.00,209.08 L764.29,207.60 L766.54,207.41 Z M755.98,210.13 L756.87,212.22 L759.12,212.41 L757.41,213.90 L757.92,216.10 L755.98,214.93 L754.04,216.10 L754.56,213.90 L752.85,212.41 L755.10,212.22 Z M760.17,197.88 L761.05,199.96 L763.31,200.16 L761.60,201.64 L762.11,203.85 L760.17,202.68 L758.23,203.85 L758.75,201.64 L757.03,200.16 L759.29,199.96 Z M761.27,187.68 L762.15,189.77 L764.41,189.96 L762.70,191.45 L763.21,193.65 L761.27,192.48 L759.33,193.65 L759.85,191.45 L758.13,189.96 L760.39,189.77 Z M759.79,165.64 L760.67,167.73 L762.92,167.92 L761.21,169.41 L761.73,171.61 L759.79,170.44 L757.85,171.61 L758.36,169.41 L756.65,167.92 L758.90,167.73 Z M752.50,164.03 L753.39,166.11 L755.64,166.31 L753.93,167.79 L754.44,170.00 L752.50,168.83 L750.57,170.00 L751.08,167.79 L749.37,166.31 L751.62,166.11 Z M745.67,174.23 L746.56,176.31 L748.81,176.51 L747.10,177.99 L747.61,180.20 L745.67,179.03 L743.73,180.20 L744.25,177.99 L742.54,176.51 L744.79,176.31 Z M743.97,187.15 L744.85,189.23 L747.11,189.43 L745.39,190.91 L745.91,193.11 L743.97,191.95 L742.03,193.11 L742.54,190.91 L740.83,189.43 L743.09,189.23 Z M746.81,200.29 L747.69,202.38 L749.95,202.57 L748.24,204.05 L748.75,206.26 L746.81,205.09 L744.87,206.26 L745.38,204.05 L743.67,202.57 L745.93,202.38 Z M749.24,207.54 L750.12,209.62 L752.38,209.82 L750.67,211.30 L751.18,213.51 L749.24,212.34 L747.30,213.51 L747.81,211.30 L746.10,209.82 L748.36,209.62 Z M749.11,209.82 L750.00,211.90 L752.25,212.10 L750.54,213.58 L751.05,215.79 L749.11,214.62 L747.18,215.79 L747.69,213.58 L745.98,212.10 L748.23,211.90 Z M740.34,206.00 L741.22,208.09 L743.48,208.28 L741.77,209.76 L742.28,211.97 L740.34,210.80 L738.40,211.97 L738.92,209.76 L737.20,208.28 L739.46,208.09 Z M729.99,204.44 L730.87,206.53 L733.13,206.72 L731.42,208.21 L731.93,210.41 L729.99,209.24 L728.05,210.41 L728.56,208.21 L726.85,206.72 L729.11,206.53 Z M710.67,205.08 L711.55,207.16 L713.80,207.36 L712.09,208.84 L712.61,211.05 L710.67,209.88 L708.73,211.05 L709.24,208.84 L707.53,207.36 L709.78,207.16 Z M706.70,212.23 L707.58,214.31 L709.84,214.51 L708.12,215.99 L708.64,218.20 L706.70,217.03 L704.76,218.20 L705.27,215.99 L703.56,214.51 L705.82,214.31 Z M711.71,219.08 L712.59,221.17 L714.85,221.36 L713.14,222.84 L713.65,225.05 L711.71,223.88 L709.77,225.05 L710.28,222.84 L708.57,221.36 L710.83,221.17 Z M722.05,222.01 L722.93,224.09 L725.18,224.29 L723.47,225.77 L723.98,227.98 L722.05,226.81 L720.11,227.98 L720.62,225.77 L718.91,224.29 L721.16,224.09 Z M742.74,217.60 L743.63,219.69 L745.88,219.88 L744.17,221.37 L744.68,223.57 L742.74,222.40 L740.80,223.57 L741.32,221.37 L739.61,219.88 L741.86,219.69 Z M750.14,214.28 L751.02,216.37 L753.27,216.56 L751.56,218.04 L752.07,220.25 L750.14,219.08 L748.20,220.25 L748.71,218.04 L747.00,216.56 L749.25,216.37 Z M751.40,214.24 L752.28,216.33 L754.54,216.52 L752.82,218.00 L753.34,220.21 L751.40,219.04 L749.46,220.21 L749.97,218.00 L748.26,216.52 L750.51,216.33 Z M746.86,224.61 L747.74,226.70 L750.00,226.89 L748.29,228.37 L748.80,230.58 L746.86,229.41 L744.92,230.58 L745.43,228.37 L743.72,226.89 L745.98,226.70 Z M743.17,241.30 L744.05,243.39 L746.31,243.58 L744.60,245.07 L745.11,247.27 L743.17,246.10 L741.23,247.27 L741.74,245.07 L740.03,243.58 L742.29,243.39 Z M745.57,252.64 L746.45,254.72 L748.71,254.92 L747.00,256.40 L747.51,258.61 L745.57,257.44 L743.63,258.61 L744.15,256.40 L742.43,254.92 L744.69,254.72 Z M751.53,260.74 L752.42,262.82 L754.67,263.02 L752.96,264.50 L753.47,266.71 L751.53,265.54 L749.59,266.71 L750.11,264.50 L748.40,263.02 L750.65,262.82 Z M759.80,253.54 L760.68,255.63 L762.94,255.82 L761.23,257.31 L761.74,259.51 L759.80,258.34 L757.86,259.51 L758.38,257.31 L756.66,255.82 L758.92,255.63 Z M761.16,236.80 L762.04,238.89 L764.30,239.08 L762.59,240.56 L763.10,242.77 L761.16,241.60 L759.22,242.77 L759.73,240.56 L758.02,239.08 L760.28,238.89 Z M759.05,224.54 L759.93,226.63 L762.18,226.82 L760.47,228.31 L760.98,230.51 L759.05,229.34 L757.11,230.51 L757.62,228.31 L755.91,226.82 L758.16,226.63 Z M758.55,216.49 L759.43,218.58 L761.69,218.77 L759.98,220.26 L760.49,222.46 L758.55,221.29 L756.61,222.46 L757.12,220.26 L755.41,218.77 L757.67,218.58 Z M766.02,219.21 L766.90,221.30 L769.16,221.49 L767.45,222.97 L767.96,225.18 L766.02,224.01 L764.08,225.18 L764.60,222.97 L762.88,221.49 L765.14,221.30 Z M779.32,221.73 L780.20,223.82 L782.46,224.01 L780.75,225.50 L781.26,227.70 L779.32,226.53 L777.38,227.70 L777.89,225.50 L776.18,224.01 L778.44,223.82 Z M798.26,219.26 L799.14,221.34 L801.40,221.54 L799.68,223.02 L800.20,225.23 L798.26,224.06 L796.32,225.23 L796.83,223.02 L795.12,221.54 L797.38,221.34 Z" fill="none" stroke="#2c2ce6" stroke-width="1.25" stroke-linejoin="miter"/>
<polyline points="800.00,215.70 800.00,215.29 799.96,214.88 799.88,214.46 799.77,214.06 799.62,213.65 799.44,213.25 799.21,212.86 798.96,212.47 798.67,212.08 798.34,211.71 797.98,211.34 797.59,210.98 797.16,210.63 796.70,210.30 796.22,209.97 795.70,209.66 795.15,209.36 794.57,209.07 793.97,208.79 793.34,208.53 792.68,208.29 792.00,208.06 791.30,207.85 790.58,207.65 789.83,207.47 789.07,207.30 788.28,207.16 787.49,207.03 786.67,206.91 785.84,206.82 785.00,206.74 784.15,206.68 783.29,206.64 782.42,206.62 781.54,206.61 780.65,206.62 779.77,206.64 778.88,206.69 777.98,206.75 777.09,206.82 776.20,206.91 775.31,207.02 774.43,207.14 773.55,207.28 772.68,207.42 771.81,207.59 770.96,207.76 770.12,207.95 769.28,208.14 768.46,208.35 767.66,208.57 766.86,208.79 766.09,209.02 765.33,209.26 764.59,209.51 763.87,209.76 763.16,210.02 762.48,210.28 761.82,210.54 761.18,210.81 760.56,211.07 759.96,211.34 759.39,211.60 758.84,211.86 758.32,212.12 757.81,212.38 757.34,212.63 756.89,212.88 756.46,213.12 756.06,213.35 755.68,213.57 755.33,213.79 755.00,214.00 754.69,214.20 754.41,214.38 754.16,214.56 753.93,214.73 753.72,214.88 753.53,215.02 753.36,215.14 753.22,215.26 753.09,215.36 752.99,215.45 752.90,215.52 752.83,215.58 752.78,215.63 752.74,215.66 752.72,215.68 752.70,215.70 752.70,215.70 752.70,215.70 752.72,215.68 752.74,215.66 752.77,215.62 752.82,215.57 752.88,215.50 752.95,215.41 753.04,215.31 753.14,215.18 753.26,215.03 753.39,214.87 753.53,214.68 753.68,214.47 753.85,214.23 754.02,213.97 754.21,213.69 754.41,213.38 754.62,213.05 754.84,212.69 755.07,212.31 755.31,211.90 755.55,211.47 755.80,211.01 756.06,210.53 756.32,210.02 756.58,209.49 756.85,208.93 757.12,208.35 757.39,207.74 757.66,207.11 757.93,206.45 758.20,205.78 758.47,205.08 758.73,204.36 758.99,203.62 759.24,202.86 759.49,202.09 759.73,201.29 759.96,200.48 760.18,199.65 760.40,198.81 760.60,197.95 760.79,197.09 760.97,196.21 761.14,195.32 761.30,194.42 761.44,193.51 761.57,192.60 761.68,191.68 761.78,190.76 761.86,189.84 761.92,188.91 761.97,187.99 762.00,187.07 762.02,186.15 762.01,185.24 761.99,184.34 761.95,183.44 761.89,182.55 761.82,181.67 761.72,180.81 761.61,179.96 761.48,179.12 761.33,178.30 761.17,177.50 760.98,176.72 760.78,175.96 760.57,175.22 760.33,174.51 760.09,173.82 759.82,173.15 759.54,172.51 759.25,171.90 758.94,171.32 758.62,170.77 758.28,170.24 757.93,169.75 757.58,169.30 757.21,168.87 756.83,168.49 756.44,168.13 756.05,167.81 755.65,167.53 755.24,167.29 754.82,167.08 754.40,166.91 753.98,166.77 753.56,166.68 753.13,166.62 752.70,166.60 752.27,166.62 751.84,166.68 751.42,166.77 751.00,166.91 750.58,167.08 750.16,167.29 749.75,167.53 749.35,167.81 748.96,168.13 748.57,168.49 748.19,168.87 747.82,169.30 747.47,169.75 747.12,170.24 746.78,170.77 746.46,171.32 746.15,171.90 745.86,172.51 745.58,173.15 745.31,173.82 745.07,174.51 744.83,175.22 744.62,175.96 744.42,176.72 744.23,177.50 744.07,178.30 743.92,179.12 743.79,179.96 743.68,180.81 743.58,181.67 743.51,182.55 743.45,183.44 743.41,184.34 743.39,185.24 743.38,186.15 743.40,187.07 743.43,187.99 743.48,188.91 743.54,189.84 743.62,190.76 743.72,191.68 743.83,192.60 743.96,193.51 744.10,194.42 744.26,195.32 744.43,196.21 744.61,197.09 744.80,197.95 745.00,198.81 745.22,199.65 745.44,200.48 745.67,201.29 745.91,202.09 746.16,202.86 746.41,203.62 746.67,204.36 746.93,205.08 747.20,205.78 747.47,206.45 747.74,207.11 748.01,207.74 748.28,208.35 748.55,208.93 748.82,209.49 749.08,210.02 749.34,210.53 749.60,211.01 749.85,211.47 750.09,211.90 750.33,212.31 750.56,212.69 750.78,213.05 750.99,213.38 751.19,213.69 751.38,213.97 751.55,214.23 751.72,214.47 751.87,214.68 752.01,214.87 752.14,215.03 752.26,215.18 752.36,215.31 752.45,215.41 752.52,215.50 752.58,215.57 752.63,215.62 752.66,215.66 752.68,215.68 752.70,215.70 752.70,215.70 752.70,215.70 752.68,215.68 752.66,215.66 752.62,215.63 752.57,215.58 752.50,215.52 752.41,215.45 752.31,215.36 752.18,215.26 752.04,215.14 751.87,215.02 751.68,214.88 751.47,214.73 751.24,214.56 750.99,214.38 750.71,214.20 750.40,214.00 750.07,213.79 749.72,213.57 749.34,213.35 748.94,213.12 748.51,212.88 748.06,212.63 747.59,212.38 747.08,212.12 746.56,211.86 746.01,211.60 745.44,211.34 744.84,211.07 744.22,210.81 743.58,210.54 742.92,210.28 742.24,210.02 741.53,209.76 740.81,209.51 740.07,209.26 739.31,209.02 738.54,208.79 737.74,208.57 736.94,208.35 736.12,208.14 735.28,207.95 734.44,207.76 733.59,207.59 732.72,207.42 731.85,207.28 730.97,207.14 730.09,207.02 729.20,206.91 728.31,206.82 727.42,206.75 726.52,206.69 725.63,206.64 724.75,206.62 723.86,206.61 722.98,206.62 722.11,206.64 721.25,206.68 720.40,206.74 719.56,206.82 718.73,206.91 717.91,207.03 717.12,207.16 716.33,207.30 715.57,207.47 714.82,207.65 714.10,207.85 713.40,208.06 712.72,208.29 712.06,208.53 711.43,208.79 710.83,209.07 710.25,209.36 709.70,209.66 709.18,209.97 708.70,210.30 708.24,210.63 707.81,210.98 707.42,211.34 707.06,211.71 706.73,212.08 706.44,212.47 706.19,212.86 705.96,213.25 705.78,213.65 705.63,214.06 705.52,214.46 705.44,214.88 705.40,215.29 705.40,215.70 705.42,216.11 705.47,216.52 705.57,216.93 705.69,217.34 705.86,217.75 706.06,218.14 706.29,218.54 706.56,218.93 706.87,219.31 707.21,219.68 707.58,220.04 707.99,220.40 708.43,220.74 708.90,221.08 709.40,221.40 709.93,221.71 710.49,222.01 711.07,222.29 711.69,222.56 712.33,222.82 712.99,223.06 713.68,223.28 714.39,223.49 715.12,223.69 715.87,223.86 716.64,224.02 717.43,224.17 718.23,224.29 719.05,224.40 719.88,224.49 720.72,224.57 721.58,224.62 722.44,224.66 723.31,224.68 724.19,224.69 725.07,224.68 725.96,224.65 726.84,224.60 727.73,224.54 728.62,224.46 729.51,224.37 730.39,224.26 731.27,224.14 732.14,224.01 733.01,223.86 733.87,223.69 734.71,223.52 735.55,223.34 736.38,223.14 737.19,222.93 737.99,222.72 738.77,222.50 739.54,222.26 740.29,222.03 741.02,221.78 741.73,221.53 742.42,221.28 743.10,221.02 743.75,220.76 744.38,220.50 744.99,220.24 745.58,219.98 746.14,219.72 746.68,219.46 747.20,219.21 747.69,218.95 748.16,218.71 748.60,218.46 749.02,218.23 749.41,218.00 749.79,217.78 750.13,217.57 750.45,217.36 750.75,217.17 751.02,216.99 751.27,216.81 751.50,216.65 751.71,216.50 751.89,216.37 752.05,216.24 752.20,216.13 752.32,216.03 752.42,215.95 752.50,215.88 752.57,215.82 752.62,215.77 752.66,215.74 752.68,215.71 752.70,215.70 752.70,215.70 752.70,215.70 752.69,215.72 752.66,215.74 752.63,215.78 752.58,215.83 752.52,215.90 752.45,215.98 752.37,216.08 752.27,216.20 752.16,216.35 752.03,216.51 751.90,216.69 751.75,216.90 751.59,217.13 751.41,217.38 751.23,217.65 751.04,217.95 750.83,218.27 750.62,218.61 750.40,218.99 750.17,219.38 749.94,219.80 749.69,220.24 749.45,220.71 749.19,221.20 748.94,221.72 748.68,222.26 748.42,222.82 748.16,223.41 747.90,224.02 747.64,224.65 747.38,225.30 747.12,225.98 746.87,226.67 746.62,227.38 746.37,228.11 746.14,228.86 745.90,229.63 745.68,230.41 745.47,231.21 745.26,232.02 745.06,232.85 744.88,233.69 744.71,234.53 744.54,235.39 744.39,236.26 744.26,237.13 744.14,238.01 744.03,238.89 743.94,239.78 743.86,240.67 743.80,241.56 743.75,242.44 743.72,243.33 743.71,244.21 743.72,245.09 743.74,245.96 743.78,246.82 743.83,247.68 743.91,248.52 744.00,249.35 744.11,250.17 744.23,250.97 744.38,251.76 744.54,252.53 744.71,253.28 744.91,254.01 745.12,254.72 745.34,255.41 745.58,256.07 745.84,256.71 746.11,257.33 746.39,257.91 746.69,258.47 747.00,259.00 747.32,259.50 747.66,259.97 748.00,260.41 748.36,260.82 748.72,261.19 749.09,261.53 749.47,261.84 749.86,262.11 750.26,262.34 750.65,262.54 751.06,262.71 751.47,262.83 751.88,262.93 752.29,262.98 752.70,263.00 753.11,262.98 753.52,262.93 753.93,262.83 754.34,262.71 754.75,262.54 755.14,262.34 755.54,262.11 755.93,261.84 756.31,261.53 756.68,261.19 757.04,260.82 757.40,260.41 757.74,259.97 758.08,259.50 758.40,259.00 758.71,258.47 759.01,257.91 759.29,257.33 759.56,256.71 759.82,256.07 760.06,255.41 760.28,254.72 760.49,254.01 760.69,253.28 760.86,252.53 761.02,251.76 761.17,250.97 761.29,250.17 761.40,249.35 761.49,248.52 761.57,247.68 761.62,246.82 761.66,245.96 761.68,245.09 761.69,244.21 761.68,243.33 761.65,242.44 761.60,241.56 761.54,240.67 761.46,239.78 761.37,238.89 761.26,238.01 761.14,237.13 761.01,236.26 760.86,235.39 760.69,234.53 760.52,233.69 760.34,232.85 760.14,232.02 759.93,231.21 759.72,230.41 759.50,229.63 759.26,228.86 759.03,228.11 758.78,227.38 758.53,226.67 758.28,225.98 758.02,225.30 757.76,224.65 757.50,224.02 757.24,223.41 756.98,222.82 756.72,222.26 756.46,221.72 756.21,221.20 755.95,220.71 755.71,220.24 755.46,219.80 755.23,219.38 755.00,218.99 754.78,218.61 754.57,218.27 754.36,217.95 754.17,217.65 753.99,217.38 753.81,217.13 753.65,216.90 753.50,216.69 753.37,216.51 753.24,216.35 753.13,216.20 753.03,216.08 752.95,215.98 752.88,215.90 752.82,215.83 752.77,215.78 752.74,215.74 752.71,215.72 752.70,215.70 752.70,215.70 752.70,215.70 752.72,215.71 752.74,215.74 752.78,215.77 752.83,215.82 752.90,215.88 752.98,215.95 753.08,216.03 753.20,216.13 753.35,216.24 753.51,216.37 753.69,216.50 753.90,216.65 754.13,216.81 754.38,216.99 754.65,217.17 754.95,217.36 755.27,217.57 755.61,217.78 755.99,218.00 756.38,218.23 756.80,218.46 757.24,218.71 757.71,218.95 758.20,219.21 758.72,219.46 759.26,219.72 759.82,219.98 760.41,220.24 761.02,220.50 761.65,220.76 762.30,221.02 762.98,221.28 763.67,221.53 764.38,221.78 765.11,222.03 765.86,222.26 766.63,222.50 767.41,222.72 768.21,222.93 769.02,223.14 769.85,223.34 770.69,223.52 771.53,223.69 772.39,223.86 773.26,224.01 774.13,224.14 775.01,224.26 775.89,224.37 776.78,224.46 777.67,224.54 778.56,224.60 779.44,224.65 780.33,224.68 781.21,224.69 782.09,224.68 782.96,224.66 783.82,224.62 784.68,224.57 785.52,224.49 786.35,224.40 787.17,224.29 787.97,224.17 788.76,224.02 789.53,223.86 790.28,223.69 791.01,223.49 791.72,223.28 792.41,223.06 793.07,222.82 793.71,222.56 794.33,222.29 794.91,222.01 795.47,221.71 796.00,221.40 796.50,221.08 796.97,220.74 797.41,220.40 797.82,220.04 798.19,219.68 798.53,219.31 798.84,218.93 799.11,218.54 799.34,218.14 799.54,217.75 799.71,217.34 799.83,216.93 799.93,216.52 799.98,216.11 800.00,215.70" fill="none" stroke="#ee1c24" stroke-width="2.1" stroke-linejoin="round"/>
<text x="564.16" y="146.50" font-size="10.40" font-weight="bold" fill="#000" text-anchor="start" textLength="13.85" lengthAdjust="spacingAndGlyphs">(d)</text>
<text x="581.04" y="146.50" font-size="10.40" font-weight="bold" fill="#000" text-anchor="start" textLength="7.65" lengthAdjust="spacingAndGlyphs">A</text>
<text x="588.60" y="149.10" font-size="7.4" font-weight="bold" textLength="4.40" lengthAdjust="spacingAndGlyphs">g</text>
<line x1="597.40" y1="138.5" x2="597.40" y2="147.5" stroke="#333" stroke-width="0.9"/>
<line x1="599.30" y1="138.5" x2="599.30" y2="147.5" stroke="#333" stroke-width="0.9"/>
<text x="603.23" y="146.50" font-size="10.40" font-weight="bold" fill="#000" text-anchor="start" textLength="51.73" lengthAdjust="spacingAndGlyphs">(192.0 cm</text>
<text x="654.60" y="142.70" font-size="6.4" font-weight="bold" textLength="4.40" lengthAdjust="spacingAndGlyphs">-1</text>
<text x="659.60" y="146.50" font-size="10.40" font-weight="bold" fill="#000" text-anchor="start" textLength="4.79" lengthAdjust="spacingAndGlyphs">)</text>
<text x="702.13" y="146.50" font-size="10.40" font-weight="bold" fill="#000" text-anchor="start" textLength="13.91" lengthAdjust="spacingAndGlyphs">(e)</text>
<text x="719.03" y="146.50" font-size="10.40" font-weight="bold" fill="#000" text-anchor="start" textLength="7.76" lengthAdjust="spacingAndGlyphs">A</text>
<text x="726.70" y="149.10" font-size="7.4" font-weight="bold" textLength="4.30" lengthAdjust="spacingAndGlyphs">g</text>
<line x1="737.60" y1="138.7" x2="737.60" y2="146.5" stroke="#333" stroke-width="0.9"/>
<line x1="734.40" y1="146.05" x2="740.80" y2="146.05" stroke="#333" stroke-width="0.9"/>
<text x="744.36" y="146.50" font-size="10.40" font-weight="bold" fill="#000" text-anchor="start" textLength="49.07" lengthAdjust="spacingAndGlyphs">(192.0 cm</text>
<text x="793.10" y="142.70" font-size="6.4" font-weight="bold" textLength="5.20" lengthAdjust="spacingAndGlyphs">-1</text>
<text x="798.90" y="146.50" font-size="10.40" font-weight="bold" fill="#000" text-anchor="start" textLength="6.43" lengthAdjust="spacingAndGlyphs">)</text>
<text x="565.51" y="294.90" font-size="10.40" font-weight="bold" fill="#000" text-anchor="start" textLength="11.88" lengthAdjust="spacingAndGlyphs">(f)</text>
<text x="579.87" y="294.90" font-size="10.40" font-weight="bold" fill="#000" text-anchor="start" textLength="6.99" lengthAdjust="spacingAndGlyphs">B</text>
<text x="586.60" y="297.50" font-size="7.4" font-weight="bold" textLength="9.10" lengthAdjust="spacingAndGlyphs">3g</text>
<line x1="600.10" y1="286.9" x2="600.10" y2="295.9" stroke="#333" stroke-width="0.9"/>
<line x1="602.00" y1="286.9" x2="602.00" y2="295.9" stroke="#333" stroke-width="0.9"/>
<text x="606.55" y="294.90" font-size="10.40" font-weight="bold" fill="#000" text-anchor="start" textLength="50.40" lengthAdjust="spacingAndGlyphs">(164.0 cm</text>
<text x="656.60" y="291.10" font-size="6.4" font-weight="bold" textLength="4.30" lengthAdjust="spacingAndGlyphs">-1</text>
<text x="661.50" y="294.90" font-size="10.40" font-weight="bold" fill="#000" text-anchor="start" textLength="5.73" lengthAdjust="spacingAndGlyphs">)</text>
<text x="702.10" y="293.90" font-size="10.40" font-weight="bold" fill="#000" text-anchor="start" textLength="15.37" lengthAdjust="spacingAndGlyphs">(g)</text>
<text x="718.69" y="293.90" font-size="10.40" font-weight="bold" fill="#000" text-anchor="start" textLength="6.75" lengthAdjust="spacingAndGlyphs">B</text>
<text x="725.20" y="296.50" font-size="7.4" font-weight="bold" textLength="8.10" lengthAdjust="spacingAndGlyphs">3g</text>
<line x1="740.40" y1="286.09999999999997" x2="740.40" y2="293.9" stroke="#333" stroke-width="0.9"/>
<line x1="737.00" y1="293.45" x2="743.80" y2="293.45" stroke="#333" stroke-width="0.9"/>
<text x="747.26" y="293.90" font-size="10.40" font-weight="bold" fill="#000" text-anchor="start" textLength="48.97" lengthAdjust="spacingAndGlyphs">(164.0 cm</text>
<text x="795.90" y="290.10" font-size="6.4" font-weight="bold" textLength="4.90" lengthAdjust="spacingAndGlyphs">-1</text>
<text x="801.40" y="293.90" font-size="10.40" font-weight="bold" fill="#000" text-anchor="start" textLength="5.84" lengthAdjust="spacingAndGlyphs">)</text></svg></body></html>
